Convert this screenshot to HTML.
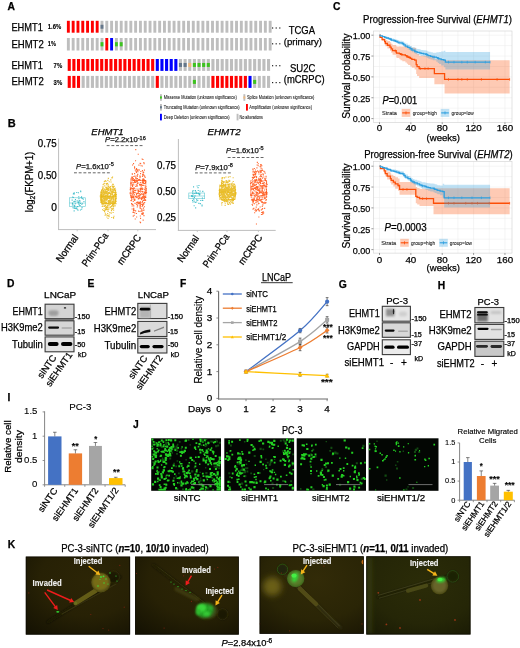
<!DOCTYPE html>
<html><head><meta charset="utf-8"><title>Figure</title>
<style>
html,body{margin:0;padding:0;background:#fff;}
body{width:520px;height:648px;overflow:hidden;}
svg{display:block;font-family:"Liberation Sans", Arial, sans-serif;}
</style></head><body>
<svg width="520" height="648" viewBox="0 0 520 648">
<rect width="520" height="648" fill="#fff"/>
<text x="7.40" y="10.10" font-size="10.3" font-weight="bold" stroke="#000" stroke-width="0.25">A</text>
<text x="11.40" y="30.70" font-size="10.32" textLength="31.40" lengthAdjust="spacingAndGlyphs" stroke="#000" stroke-width="0.25">EHMT1</text>
<text x="11.40" y="47.80" font-size="10.32" textLength="32.30" lengthAdjust="spacingAndGlyphs" stroke="#000" stroke-width="0.25">EHMT2</text>
<text x="11.40" y="69.10" font-size="10.32" textLength="31.40" lengthAdjust="spacingAndGlyphs" stroke="#000" stroke-width="0.25">EHMT1</text>
<text x="11.40" y="85.30" font-size="10.32" textLength="32.30" lengthAdjust="spacingAndGlyphs" stroke="#000" stroke-width="0.25">EHMT2</text>
<text x="47.80" y="29.40" font-size="6.4" textLength="13.40" lengthAdjust="spacingAndGlyphs" font-weight="bold" stroke="#000" stroke-width="0.1">1.6%</text>
<text x="47.80" y="46.40" font-size="6.4" textLength="8.10" lengthAdjust="spacingAndGlyphs" font-weight="bold" stroke="#000" stroke-width="0.1">1%</text>
<text x="53.60" y="68.00" font-size="6.4" textLength="8.60" lengthAdjust="spacingAndGlyphs" font-weight="bold" stroke="#000" stroke-width="0.1">7%</text>
<text x="53.60" y="84.80" font-size="6.4" textLength="8.60" lengthAdjust="spacingAndGlyphs" font-weight="bold" stroke="#000" stroke-width="0.1">3%</text>
<rect x="66.90" y="20.80" width="2.90" height="11.90" fill="#FF0000" />
<rect x="71.71" y="20.80" width="2.90" height="11.90" fill="#FF0000" />
<rect x="76.51" y="20.80" width="2.90" height="11.90" fill="#FF0000" />
<rect x="81.31" y="20.80" width="2.90" height="11.90" fill="#FF0000" />
<rect x="86.12" y="20.80" width="2.90" height="11.90" fill="#FF0000" />
<rect x="90.93" y="20.80" width="2.90" height="11.90" fill="#FF0000" />
<rect x="95.73" y="20.80" width="2.90" height="11.90" fill="#FF0000" />
<rect x="100.53" y="20.80" width="2.90" height="11.90" fill="#BEBEBE" />
<rect x="100.53" y="24.77" width="2.90" height="3.97" fill="#64768A" />
<rect x="105.34" y="20.80" width="2.90" height="11.90" fill="#BEBEBE" />
<rect x="110.15" y="20.80" width="2.90" height="11.90" fill="#BEBEBE" />
<rect x="114.95" y="20.80" width="2.90" height="11.90" fill="#BEBEBE" />
<rect x="119.75" y="20.80" width="2.90" height="11.90" fill="#BEBEBE" />
<rect x="124.56" y="20.80" width="2.90" height="11.90" fill="#BEBEBE" />
<rect x="129.37" y="20.80" width="2.90" height="11.90" fill="#BEBEBE" />
<rect x="134.17" y="20.80" width="2.90" height="11.90" fill="#BEBEBE" />
<rect x="138.97" y="20.80" width="2.90" height="11.90" fill="#BEBEBE" />
<rect x="143.78" y="20.80" width="2.90" height="11.90" fill="#BEBEBE" />
<rect x="148.59" y="20.80" width="2.90" height="11.90" fill="#BEBEBE" />
<rect x="153.39" y="20.80" width="2.90" height="11.90" fill="#BEBEBE" />
<rect x="158.19" y="20.80" width="2.90" height="11.90" fill="#BEBEBE" />
<rect x="163.00" y="20.80" width="2.90" height="11.90" fill="#BEBEBE" />
<rect x="167.81" y="20.80" width="2.90" height="11.90" fill="#BEBEBE" />
<rect x="172.61" y="20.80" width="2.90" height="11.90" fill="#BEBEBE" />
<rect x="177.41" y="20.80" width="2.90" height="11.90" fill="#BEBEBE" />
<rect x="182.22" y="20.80" width="2.90" height="11.90" fill="#BEBEBE" />
<rect x="187.03" y="20.80" width="2.90" height="11.90" fill="#BEBEBE" />
<rect x="191.83" y="20.80" width="2.90" height="11.90" fill="#BEBEBE" />
<rect x="196.63" y="20.80" width="2.90" height="11.90" fill="#BEBEBE" />
<rect x="201.44" y="20.80" width="2.90" height="11.90" fill="#BEBEBE" />
<rect x="206.25" y="20.80" width="2.90" height="11.90" fill="#BEBEBE" />
<rect x="211.05" y="20.80" width="2.90" height="11.90" fill="#BEBEBE" />
<rect x="215.85" y="20.80" width="2.90" height="11.90" fill="#BEBEBE" />
<rect x="220.66" y="20.80" width="2.90" height="11.90" fill="#BEBEBE" />
<rect x="225.47" y="20.80" width="2.90" height="11.90" fill="#BEBEBE" />
<rect x="230.27" y="20.80" width="2.90" height="11.90" fill="#BEBEBE" />
<rect x="235.07" y="20.80" width="2.90" height="11.90" fill="#BEBEBE" />
<rect x="239.88" y="20.80" width="2.90" height="11.90" fill="#BEBEBE" />
<rect x="244.69" y="20.80" width="2.90" height="11.90" fill="#BEBEBE" />
<rect x="249.49" y="20.80" width="2.90" height="11.90" fill="#BEBEBE" />
<rect x="254.29" y="20.80" width="2.90" height="11.90" fill="#BEBEBE" />
<rect x="259.10" y="20.80" width="2.90" height="11.90" fill="#BEBEBE" />
<rect x="263.90" y="20.80" width="2.90" height="11.90" fill="#BEBEBE" />
<rect x="268.71" y="20.80" width="2.90" height="11.90" fill="#BEBEBE" />
<rect x="66.90" y="38.00" width="2.90" height="12.50" fill="#BEBEBE" />
<rect x="71.71" y="38.00" width="2.90" height="12.50" fill="#BEBEBE" />
<rect x="76.51" y="38.00" width="2.90" height="12.50" fill="#BEBEBE" />
<rect x="81.31" y="38.00" width="2.90" height="12.50" fill="#BEBEBE" />
<rect x="86.12" y="38.00" width="2.90" height="12.50" fill="#BEBEBE" />
<rect x="90.93" y="38.00" width="2.90" height="12.50" fill="#BEBEBE" />
<rect x="95.73" y="38.00" width="2.90" height="12.50" fill="#BEBEBE" />
<rect x="100.53" y="38.00" width="2.90" height="12.50" fill="#BEBEBE" />
<rect x="100.53" y="42.17" width="2.90" height="4.17" fill="#3DC21F" />
<rect x="105.34" y="38.00" width="2.90" height="12.50" fill="#FF0000" />
<rect x="110.15" y="38.00" width="2.90" height="12.50" fill="#0000FF" />
<rect x="114.95" y="38.00" width="2.90" height="12.50" fill="#BEBEBE" />
<rect x="114.95" y="42.17" width="2.90" height="4.17" fill="#3DC21F" />
<rect x="119.75" y="38.00" width="2.90" height="12.50" fill="#BEBEBE" />
<rect x="119.75" y="42.17" width="2.90" height="4.17" fill="#3DC21F" />
<rect x="124.56" y="38.00" width="2.90" height="12.50" fill="#BEBEBE" />
<rect x="129.37" y="38.00" width="2.90" height="12.50" fill="#BEBEBE" />
<rect x="134.17" y="38.00" width="2.90" height="12.50" fill="#BEBEBE" />
<rect x="138.97" y="38.00" width="2.90" height="12.50" fill="#BEBEBE" />
<rect x="143.78" y="38.00" width="2.90" height="12.50" fill="#BEBEBE" />
<rect x="148.59" y="38.00" width="2.90" height="12.50" fill="#BEBEBE" />
<rect x="153.39" y="38.00" width="2.90" height="12.50" fill="#BEBEBE" />
<rect x="158.19" y="38.00" width="2.90" height="12.50" fill="#BEBEBE" />
<rect x="163.00" y="38.00" width="2.90" height="12.50" fill="#BEBEBE" />
<rect x="167.81" y="38.00" width="2.90" height="12.50" fill="#BEBEBE" />
<rect x="172.61" y="38.00" width="2.90" height="12.50" fill="#BEBEBE" />
<rect x="177.41" y="38.00" width="2.90" height="12.50" fill="#BEBEBE" />
<rect x="182.22" y="38.00" width="2.90" height="12.50" fill="#BEBEBE" />
<rect x="187.03" y="38.00" width="2.90" height="12.50" fill="#BEBEBE" />
<rect x="191.83" y="38.00" width="2.90" height="12.50" fill="#BEBEBE" />
<rect x="196.63" y="38.00" width="2.90" height="12.50" fill="#BEBEBE" />
<rect x="201.44" y="38.00" width="2.90" height="12.50" fill="#BEBEBE" />
<rect x="206.25" y="38.00" width="2.90" height="12.50" fill="#BEBEBE" />
<rect x="211.05" y="38.00" width="2.90" height="12.50" fill="#BEBEBE" />
<rect x="215.85" y="38.00" width="2.90" height="12.50" fill="#BEBEBE" />
<rect x="220.66" y="38.00" width="2.90" height="12.50" fill="#BEBEBE" />
<rect x="225.47" y="38.00" width="2.90" height="12.50" fill="#BEBEBE" />
<rect x="230.27" y="38.00" width="2.90" height="12.50" fill="#BEBEBE" />
<rect x="235.07" y="38.00" width="2.90" height="12.50" fill="#BEBEBE" />
<rect x="239.88" y="38.00" width="2.90" height="12.50" fill="#BEBEBE" />
<rect x="244.69" y="38.00" width="2.90" height="12.50" fill="#BEBEBE" />
<rect x="249.49" y="38.00" width="2.90" height="12.50" fill="#BEBEBE" />
<rect x="254.29" y="38.00" width="2.90" height="12.50" fill="#BEBEBE" />
<rect x="259.10" y="38.00" width="2.90" height="12.50" fill="#BEBEBE" />
<rect x="263.90" y="38.00" width="2.90" height="12.50" fill="#BEBEBE" />
<rect x="268.71" y="38.00" width="2.90" height="12.50" fill="#BEBEBE" />
<rect x="67.70" y="59.00" width="3.10" height="11.90" fill="#FF0000" />
<rect x="72.34" y="59.00" width="3.10" height="11.90" fill="#FF0000" />
<rect x="76.97" y="59.00" width="3.10" height="11.90" fill="#FF0000" />
<rect x="81.61" y="59.00" width="3.10" height="11.90" fill="#FF0000" />
<rect x="86.24" y="59.00" width="3.10" height="11.90" fill="#FF0000" />
<rect x="90.88" y="59.00" width="3.10" height="11.90" fill="#FF0000" />
<rect x="95.51" y="59.00" width="3.10" height="11.90" fill="#FF0000" />
<rect x="100.15" y="59.00" width="3.10" height="11.90" fill="#FF0000" />
<rect x="104.78" y="59.00" width="3.10" height="11.90" fill="#FF0000" />
<rect x="109.41" y="59.00" width="3.10" height="11.90" fill="#FF0000" />
<rect x="114.05" y="59.00" width="3.10" height="11.90" fill="#FF0000" />
<rect x="118.69" y="59.00" width="3.10" height="11.90" fill="#FF0000" />
<rect x="123.32" y="59.00" width="3.10" height="11.90" fill="#FF0000" />
<rect x="127.95" y="59.00" width="3.10" height="11.90" fill="#FF0000" />
<rect x="132.59" y="59.00" width="3.10" height="11.90" fill="#FF0000" />
<rect x="137.22" y="59.00" width="3.10" height="11.90" fill="#FF0000" />
<rect x="141.86" y="59.00" width="3.10" height="11.90" fill="#FF0000" />
<rect x="146.50" y="59.00" width="3.10" height="11.90" fill="#FF0000" />
<rect x="151.13" y="59.00" width="3.10" height="11.90" fill="#FF0000" />
<rect x="155.76" y="59.00" width="3.10" height="11.90" fill="#0000FF" />
<rect x="160.40" y="59.00" width="3.10" height="11.90" fill="#0000FF" />
<rect x="165.03" y="59.00" width="3.10" height="11.90" fill="#0000FF" />
<rect x="169.67" y="59.00" width="3.10" height="11.90" fill="#0000FF" />
<rect x="174.31" y="59.00" width="3.10" height="11.90" fill="#0000FF" />
<rect x="178.94" y="59.00" width="3.10" height="11.90" fill="#BEBEBE" />
<rect x="178.94" y="62.97" width="3.10" height="3.97" fill="#64768A" />
<rect x="183.57" y="59.00" width="3.10" height="11.90" fill="#BEBEBE" />
<rect x="183.57" y="62.97" width="3.10" height="3.97" fill="#64768A" />
<rect x="188.21" y="59.00" width="3.10" height="11.90" fill="#BEBEBE" />
<rect x="188.21" y="62.97" width="3.10" height="3.97" fill="#F0B87B" />
<rect x="192.84" y="59.00" width="3.10" height="11.90" fill="#BEBEBE" />
<rect x="192.84" y="62.97" width="3.10" height="3.97" fill="#3DC21F" />
<rect x="197.48" y="59.00" width="3.10" height="11.90" fill="#BEBEBE" />
<rect x="197.48" y="62.97" width="3.10" height="3.97" fill="#3DC21F" />
<rect x="202.12" y="59.00" width="3.10" height="11.90" fill="#BEBEBE" />
<rect x="202.12" y="62.97" width="3.10" height="3.97" fill="#3DC21F" />
<rect x="206.75" y="59.00" width="3.10" height="11.90" fill="#BEBEBE" />
<rect x="206.75" y="62.97" width="3.10" height="3.97" fill="#3DC21F" />
<rect x="211.38" y="59.00" width="3.10" height="11.90" fill="#BEBEBE" />
<rect x="216.02" y="59.00" width="3.10" height="11.90" fill="#BEBEBE" />
<rect x="220.65" y="59.00" width="3.10" height="11.90" fill="#BEBEBE" />
<rect x="225.29" y="59.00" width="3.10" height="11.90" fill="#BEBEBE" />
<rect x="229.93" y="59.00" width="3.10" height="11.90" fill="#BEBEBE" />
<rect x="234.56" y="59.00" width="3.10" height="11.90" fill="#BEBEBE" />
<rect x="239.19" y="59.00" width="3.10" height="11.90" fill="#BEBEBE" />
<rect x="243.83" y="59.00" width="3.10" height="11.90" fill="#BEBEBE" />
<rect x="248.46" y="59.00" width="3.10" height="11.90" fill="#BEBEBE" />
<rect x="253.10" y="59.00" width="3.10" height="11.90" fill="#BEBEBE" />
<rect x="257.74" y="59.00" width="3.10" height="11.90" fill="#BEBEBE" />
<rect x="262.37" y="59.00" width="3.10" height="11.90" fill="#BEBEBE" />
<rect x="267.00" y="59.00" width="3.10" height="11.90" fill="#BEBEBE" />
<rect x="67.70" y="75.90" width="3.10" height="12.00" fill="#FF0000" />
<rect x="72.34" y="75.90" width="3.10" height="12.00" fill="#FF0000" />
<rect x="76.97" y="75.90" width="3.10" height="12.00" fill="#FF0000" />
<rect x="81.61" y="75.90" width="3.10" height="12.00" fill="#BEBEBE" />
<rect x="86.24" y="75.90" width="3.10" height="12.00" fill="#BEBEBE" />
<rect x="90.88" y="75.90" width="3.10" height="12.00" fill="#BEBEBE" />
<rect x="95.51" y="75.90" width="3.10" height="12.00" fill="#BEBEBE" />
<rect x="100.15" y="75.90" width="3.10" height="12.00" fill="#BEBEBE" />
<rect x="104.78" y="75.90" width="3.10" height="12.00" fill="#BEBEBE" />
<rect x="109.41" y="75.90" width="3.10" height="12.00" fill="#BEBEBE" />
<rect x="114.05" y="75.90" width="3.10" height="12.00" fill="#BEBEBE" />
<rect x="118.69" y="75.90" width="3.10" height="12.00" fill="#BEBEBE" />
<rect x="123.32" y="75.90" width="3.10" height="12.00" fill="#BEBEBE" />
<rect x="127.95" y="75.90" width="3.10" height="12.00" fill="#BEBEBE" />
<rect x="132.59" y="75.90" width="3.10" height="12.00" fill="#BEBEBE" />
<rect x="137.22" y="75.90" width="3.10" height="12.00" fill="#BEBEBE" />
<rect x="141.86" y="75.90" width="3.10" height="12.00" fill="#BEBEBE" />
<rect x="146.50" y="75.90" width="3.10" height="12.00" fill="#BEBEBE" />
<rect x="151.13" y="75.90" width="3.10" height="12.00" fill="#BEBEBE" />
<rect x="155.76" y="75.90" width="3.10" height="12.00" fill="#FF0000" />
<rect x="160.40" y="75.90" width="3.10" height="12.00" fill="#BEBEBE" />
<rect x="165.03" y="75.90" width="3.10" height="12.00" fill="#BEBEBE" />
<rect x="169.67" y="75.90" width="3.10" height="12.00" fill="#BEBEBE" />
<rect x="174.31" y="75.90" width="3.10" height="12.00" fill="#BEBEBE" />
<rect x="178.94" y="75.90" width="3.10" height="12.00" fill="#BEBEBE" />
<rect x="183.57" y="75.90" width="3.10" height="12.00" fill="#BEBEBE" />
<rect x="188.21" y="75.90" width="3.10" height="12.00" fill="#BEBEBE" />
<rect x="192.84" y="75.90" width="3.10" height="12.00" fill="#BEBEBE" />
<rect x="192.84" y="79.90" width="3.10" height="4.00" fill="#3DC21F" />
<rect x="197.48" y="75.90" width="3.10" height="12.00" fill="#BEBEBE" />
<rect x="202.12" y="75.90" width="3.10" height="12.00" fill="#BEBEBE" />
<rect x="206.75" y="75.90" width="3.10" height="12.00" fill="#BEBEBE" />
<rect x="211.38" y="75.90" width="3.10" height="12.00" fill="#FF0000" />
<rect x="216.02" y="75.90" width="3.10" height="12.00" fill="#FF0000" />
<rect x="220.65" y="75.90" width="3.10" height="12.00" fill="#FF0000" />
<rect x="225.29" y="75.90" width="3.10" height="12.00" fill="#FF0000" />
<rect x="229.93" y="75.90" width="3.10" height="12.00" fill="#FF0000" />
<rect x="234.56" y="75.90" width="3.10" height="12.00" fill="#FF0000" />
<rect x="239.19" y="75.90" width="3.10" height="12.00" fill="#FF0000" />
<rect x="243.83" y="75.90" width="3.10" height="12.00" fill="#FF0000" />
<rect x="248.46" y="75.90" width="3.10" height="12.00" fill="#0000FF" />
<rect x="253.10" y="75.90" width="3.10" height="12.00" fill="#BEBEBE" />
<rect x="253.10" y="79.90" width="3.10" height="4.00" fill="#3DC21F" />
<rect x="257.74" y="75.90" width="3.10" height="12.00" fill="#BEBEBE" />
<rect x="262.37" y="75.90" width="3.10" height="12.00" fill="#BEBEBE" />
<rect x="267.00" y="75.90" width="3.10" height="12.00" fill="#BEBEBE" />
<rect x="272.00" y="27.40" width="1.20" height="1.20" fill="#222" />
<rect x="275.60" y="27.40" width="1.20" height="1.20" fill="#222" />
<rect x="279.20" y="27.40" width="1.20" height="1.20" fill="#222" />
<rect x="272.00" y="43.20" width="1.20" height="1.20" fill="#222" />
<rect x="275.60" y="43.20" width="1.20" height="1.20" fill="#222" />
<rect x="279.20" y="43.20" width="1.20" height="1.20" fill="#222" />
<rect x="272.00" y="65.10" width="1.20" height="1.20" fill="#222" />
<rect x="275.60" y="65.10" width="1.20" height="1.20" fill="#222" />
<rect x="279.20" y="65.10" width="1.20" height="1.20" fill="#222" />
<rect x="272.00" y="82.00" width="1.20" height="1.20" fill="#222" />
<rect x="275.60" y="82.00" width="1.20" height="1.20" fill="#222" />
<rect x="279.20" y="82.00" width="1.20" height="1.20" fill="#222" />
<text x="288.70" y="33.50" font-size="10.61" textLength="26.30" lengthAdjust="spacingAndGlyphs" stroke="#000" stroke-width="0.25">TCGA</text>
<text x="283.80" y="45.00" font-size="9.88" textLength="38.20" lengthAdjust="spacingAndGlyphs" stroke="#000" stroke-width="0.25">(primary)</text>
<text x="290.00" y="71.80" font-size="10.61" textLength="25.40" lengthAdjust="spacingAndGlyphs" stroke="#000" stroke-width="0.25">SU2C</text>
<text x="283.80" y="82.70" font-size="10.03" textLength="40.80" lengthAdjust="spacingAndGlyphs" stroke="#000" stroke-width="0.25">(mCRPC)</text>
<rect x="160.00" y="94.20" width="1.90" height="6.60" fill="#BEBEBE" />
<rect x="160.00" y="96.40" width="1.90" height="2.20" fill="#3DC21F" />
<text x="163.70" y="99.40" font-size="4.6" textLength="73.00" lengthAdjust="spacingAndGlyphs" fill="#222" stroke="#222" stroke-width="0.08">Missense Mutation (unknown significance)</text>
<rect x="160.00" y="104.00" width="1.90" height="6.60" fill="#BEBEBE" />
<rect x="160.00" y="106.20" width="1.90" height="2.20" fill="#64768A" />
<text x="163.70" y="109.20" font-size="4.6" textLength="76.00" lengthAdjust="spacingAndGlyphs" fill="#222" stroke="#222" stroke-width="0.08">Truncating Mutation (unknown significance)</text>
<rect x="160.00" y="113.80" width="1.90" height="6.60" fill="#0000FF" />
<text x="163.70" y="119.10" font-size="4.6" textLength="66.00" lengthAdjust="spacingAndGlyphs" fill="#222" stroke="#222" stroke-width="0.08">Deep Deletion (unknown significance)</text>
<rect x="243.40" y="94.20" width="1.90" height="6.60" fill="#BEBEBE" />
<rect x="243.40" y="96.40" width="1.90" height="2.20" fill="#F0B87B" />
<text x="247.00" y="99.40" font-size="4.6" textLength="67.40" lengthAdjust="spacingAndGlyphs" fill="#222" stroke="#222" stroke-width="0.08">Splice Mutation (unknown significance)</text>
<rect x="246.00" y="104.00" width="1.90" height="6.60" fill="#FF0000" />
<text x="249.20" y="109.20" font-size="4.6" textLength="62.80" lengthAdjust="spacingAndGlyphs" fill="#222" stroke="#222" stroke-width="0.08">Amplification (unknown significance)</text>
<rect x="236.60" y="113.80" width="1.90" height="6.60" fill="#BEBEBE" />
<text x="239.40" y="119.10" font-size="4.6" textLength="23.60" lengthAdjust="spacingAndGlyphs" fill="#222" stroke="#222" stroke-width="0.08">No alterations</text>
<text x="7.80" y="127.30" font-size="11.0" font-weight="bold" stroke="#000" stroke-width="0.25">B</text>
<line x1="58.60" y1="138.50" x2="58.60" y2="230.00" stroke="#BDBDBD" stroke-width="1" />
<line x1="58.10" y1="229.60" x2="156.00" y2="229.60" stroke="#BDBDBD" stroke-width="1" />
<text x="56.80" y="147.20" font-size="10.17" textLength="19.00" lengthAdjust="spacingAndGlyphs" text-anchor="end" stroke="#000" stroke-width="0.25">0.75</text>
<text x="56.80" y="179.00" font-size="10.17" textLength="19.00" lengthAdjust="spacingAndGlyphs" text-anchor="end" stroke="#000" stroke-width="0.25">0.50</text>
<text x="56.80" y="210.80" font-size="10.17" text-anchor="end" stroke="#000" stroke-width="0.25">0</text>
<line x1="77.20" y1="229.60" x2="77.20" y2="231.30" stroke="#BDBDBD" stroke-width="0.8" />
<line x1="108.00" y1="229.60" x2="108.00" y2="231.30" stroke="#BDBDBD" stroke-width="0.8" />
<line x1="137.80" y1="229.60" x2="137.80" y2="231.30" stroke="#BDBDBD" stroke-width="0.8" />
<text x="107.50" y="134.60" font-size="9.16" textLength="32.30" lengthAdjust="spacingAndGlyphs" text-anchor="middle" font-style="italic" stroke="#000" stroke-width="0.25">EHMT1</text>
<text transform="translate(33.00,182.00) rotate(-90)" font-size="10.0" textLength="60.40" lengthAdjust="spacingAndGlyphs" text-anchor="middle" stroke="#000" stroke-width="0.25">log<tspan font-size="7" dy="2">2</tspan><tspan dy="-2">(FKPM+1)</tspan></text>
<rect x="69.50" y="197.80" width="15.80" height="8.70" fill="none" stroke="#1BB0BF" stroke-width="0.6" stroke-opacity="0.7"/>
<line x1="69.50" y1="203.00" x2="85.30" y2="203.00" stroke="#1BB0BF" stroke-width="0.6" stroke-opacity="0.7"/>
<path d="M79.1 200.1h1.1v1.1h-1.1zM71.9 204.3h1.1v1.1h-1.1zM72.2 196.4h1.1v1.1h-1.1zM77.3 200.3h1.1v1.1h-1.1zM72.4 207.2h1.1v1.1h-1.1zM71.9 202.9h1.1v1.1h-1.1zM73.6 192.3h1.1v1.1h-1.1zM74.0 206.2h1.1v1.1h-1.1zM77.9 192.2h1.1v1.1h-1.1zM76.2 191.9h1.1v1.1h-1.1zM81.8 203.2h1.1v1.1h-1.1zM74.5 201.2h1.1v1.1h-1.1zM74.8 203.2h1.1v1.1h-1.1zM81.2 203.7h1.1v1.1h-1.1zM78.9 204.6h1.1v1.1h-1.1zM75.8 208.1h1.1v1.1h-1.1zM71.6 199.6h1.1v1.1h-1.1zM73.4 200.9h1.1v1.1h-1.1zM74.9 199.0h1.1v1.1h-1.1zM78.2 196.2h1.1v1.1h-1.1zM80.7 197.1h1.1v1.1h-1.1zM79.8 202.8h1.1v1.1h-1.1zM77.5 201.8h1.1v1.1h-1.1zM81.1 208.7h1.1v1.1h-1.1zM83.4 200.9h1.1v1.1h-1.1zM72.7 197.0h1.1v1.1h-1.1zM73.7 193.4h1.1v1.1h-1.1zM77.1 206.1h1.1v1.1h-1.1zM79.9 209.4h1.1v1.1h-1.1zM78.1 203.5h1.1v1.1h-1.1zM79.6 204.9h1.1v1.1h-1.1zM78.4 198.1h1.1v1.1h-1.1zM81.0 196.2h1.1v1.1h-1.1zM82.7 198.6h1.1v1.1h-1.1zM72.8 193.5h1.1v1.1h-1.1zM79.8 202.8h1.1v1.1h-1.1zM80.2 191.1h1.1v1.1h-1.1zM79.4 200.6h1.1v1.1h-1.1zM73.6 207.6h1.1v1.1h-1.1zM72.2 202.4h1.1v1.1h-1.1zM73.6 210.3h1.1v1.1h-1.1zM74.1 204.9h1.1v1.1h-1.1zM73.1 192.9h1.1v1.1h-1.1zM76.7 208.5h1.1v1.1h-1.1zM80.1 190.6h1.1v1.1h-1.1zM81.6 198.0h1.1v1.1h-1.1zM75.4 200.5h1.1v1.1h-1.1zM81.5 207.1h1.1v1.1h-1.1zM73.2 204.5h1.1v1.1h-1.1zM73.7 200.7h1.1v1.1h-1.1zM78.4 202.2h1.1v1.1h-1.1zM74.6 207.8h1.1v1.1h-1.1zM75.7 207.2h1.1v1.1h-1.1zM78.1 201.6h1.1v1.1h-1.1zM77.4 209.6h1.1v1.1h-1.1z" fill="#1BB0BF" fill-opacity="0.8"/>
<rect x="101.30" y="190.00" width="14.30" height="13.50" fill="none" stroke="#E5B000" stroke-width="0.6" stroke-opacity="0.7"/>
<line x1="101.30" y1="196.50" x2="115.60" y2="196.50" stroke="#E5B000" stroke-width="0.6" stroke-opacity="0.7"/>
<path d="M109.9 193.7h1.1v1.1h-1.1zM114.6 195.9h1.1v1.1h-1.1zM112.6 194.8h1.1v1.1h-1.1zM106.6 206.5h1.1v1.1h-1.1zM106.6 187.5h1.1v1.1h-1.1zM101.9 205.5h1.1v1.1h-1.1zM101.6 203.4h1.1v1.1h-1.1zM105.4 198.1h1.1v1.1h-1.1zM101.0 201.3h1.1v1.1h-1.1zM101.7 201.3h1.1v1.1h-1.1zM105.7 197.0h1.1v1.1h-1.1zM109.3 212.1h1.1v1.1h-1.1zM102.3 199.4h1.1v1.1h-1.1zM105.7 196.9h1.1v1.1h-1.1zM102.5 203.9h1.1v1.1h-1.1zM107.6 210.8h1.1v1.1h-1.1zM107.8 177.8h1.1v1.1h-1.1zM105.5 200.0h1.1v1.1h-1.1zM104.1 198.8h1.1v1.1h-1.1zM100.2 199.1h1.1v1.1h-1.1zM115.2 193.1h1.1v1.1h-1.1zM108.7 192.8h1.1v1.1h-1.1zM100.2 196.3h1.1v1.1h-1.1zM112.0 176.5h1.1v1.1h-1.1zM111.1 193.3h1.1v1.1h-1.1zM102.5 196.5h1.1v1.1h-1.1zM111.9 204.2h1.1v1.1h-1.1zM105.9 184.2h1.1v1.1h-1.1zM103.5 194.3h1.1v1.1h-1.1zM112.9 205.2h1.1v1.1h-1.1zM111.4 176.9h1.1v1.1h-1.1zM103.8 202.1h1.1v1.1h-1.1zM108.2 185.8h1.1v1.1h-1.1zM100.2 195.9h1.1v1.1h-1.1zM104.4 198.4h1.1v1.1h-1.1zM115.6 196.3h1.1v1.1h-1.1zM107.3 208.5h1.1v1.1h-1.1zM113.0 217.6h1.1v1.1h-1.1zM106.1 188.4h1.1v1.1h-1.1zM103.0 198.0h1.1v1.1h-1.1zM103.5 202.3h1.1v1.1h-1.1zM112.3 185.5h1.1v1.1h-1.1zM107.7 185.7h1.1v1.1h-1.1zM102.1 189.3h1.1v1.1h-1.1zM110.0 186.0h1.1v1.1h-1.1zM111.2 208.0h1.1v1.1h-1.1zM107.7 190.0h1.1v1.1h-1.1zM105.5 202.7h1.1v1.1h-1.1zM111.7 208.9h1.1v1.1h-1.1zM106.6 204.4h1.1v1.1h-1.1zM115.4 195.7h1.1v1.1h-1.1zM101.8 196.3h1.1v1.1h-1.1zM102.5 192.5h1.1v1.1h-1.1zM103.5 208.2h1.1v1.1h-1.1zM112.7 189.3h1.1v1.1h-1.1zM106.1 207.9h1.1v1.1h-1.1zM108.8 195.6h1.1v1.1h-1.1zM115.8 197.9h1.1v1.1h-1.1zM110.5 197.9h1.1v1.1h-1.1zM107.3 179.8h1.1v1.1h-1.1zM114.0 194.1h1.1v1.1h-1.1zM104.0 199.4h1.1v1.1h-1.1zM104.8 192.4h1.1v1.1h-1.1zM104.0 197.6h1.1v1.1h-1.1zM106.9 206.9h1.1v1.1h-1.1zM106.1 208.2h1.1v1.1h-1.1zM107.5 209.1h1.1v1.1h-1.1zM107.1 182.9h1.1v1.1h-1.1zM113.9 188.9h1.1v1.1h-1.1zM108.3 187.8h1.1v1.1h-1.1zM100.0 196.9h1.1v1.1h-1.1zM100.2 192.6h1.1v1.1h-1.1zM112.9 198.8h1.1v1.1h-1.1zM111.6 201.0h1.1v1.1h-1.1zM108.8 204.5h1.1v1.1h-1.1zM108.9 192.8h1.1v1.1h-1.1zM112.0 205.1h1.1v1.1h-1.1zM104.4 204.6h1.1v1.1h-1.1zM104.6 202.9h1.1v1.1h-1.1zM109.0 198.2h1.1v1.1h-1.1zM111.6 188.2h1.1v1.1h-1.1zM109.6 203.9h1.1v1.1h-1.1zM108.1 192.8h1.1v1.1h-1.1zM107.4 185.5h1.1v1.1h-1.1zM108.6 196.1h1.1v1.1h-1.1zM110.2 179.3h1.1v1.1h-1.1zM114.1 199.5h1.1v1.1h-1.1zM108.9 202.4h1.1v1.1h-1.1zM115.3 194.9h1.1v1.1h-1.1zM101.8 199.2h1.1v1.1h-1.1zM107.1 193.6h1.1v1.1h-1.1zM101.4 202.0h1.1v1.1h-1.1zM110.8 199.4h1.1v1.1h-1.1zM102.5 200.4h1.1v1.1h-1.1zM110.5 181.4h1.1v1.1h-1.1zM114.3 194.8h1.1v1.1h-1.1zM115.5 193.5h1.1v1.1h-1.1zM106.4 200.5h1.1v1.1h-1.1zM107.9 215.2h1.1v1.1h-1.1zM104.0 211.1h1.1v1.1h-1.1zM106.9 196.1h1.1v1.1h-1.1zM103.5 190.2h1.1v1.1h-1.1zM105.0 196.3h1.1v1.1h-1.1zM108.9 196.7h1.1v1.1h-1.1zM107.0 195.5h1.1v1.1h-1.1zM109.8 203.7h1.1v1.1h-1.1zM108.2 197.8h1.1v1.1h-1.1zM111.2 217.0h1.1v1.1h-1.1zM114.5 205.5h1.1v1.1h-1.1zM100.8 201.7h1.1v1.1h-1.1zM112.5 200.6h1.1v1.1h-1.1zM106.7 196.5h1.1v1.1h-1.1zM114.5 200.9h1.1v1.1h-1.1zM102.3 199.4h1.1v1.1h-1.1zM114.4 191.7h1.1v1.1h-1.1zM102.7 186.5h1.1v1.1h-1.1zM101.2 192.0h1.1v1.1h-1.1zM101.1 194.0h1.1v1.1h-1.1zM114.3 189.7h1.1v1.1h-1.1zM102.3 188.0h1.1v1.1h-1.1zM112.7 186.9h1.1v1.1h-1.1zM107.5 210.7h1.1v1.1h-1.1zM105.6 203.1h1.1v1.1h-1.1zM105.4 180.8h1.1v1.1h-1.1zM102.4 191.4h1.1v1.1h-1.1zM102.0 191.5h1.1v1.1h-1.1zM102.4 196.1h1.1v1.1h-1.1zM105.1 201.8h1.1v1.1h-1.1zM104.8 198.6h1.1v1.1h-1.1zM108.0 197.4h1.1v1.1h-1.1zM103.2 190.8h1.1v1.1h-1.1zM103.9 196.2h1.1v1.1h-1.1zM100.0 198.2h1.1v1.1h-1.1zM102.9 196.0h1.1v1.1h-1.1zM107.7 187.6h1.1v1.1h-1.1zM113.1 200.3h1.1v1.1h-1.1zM106.9 195.6h1.1v1.1h-1.1zM106.7 182.8h1.1v1.1h-1.1zM108.1 197.4h1.1v1.1h-1.1zM105.8 188.9h1.1v1.1h-1.1zM111.6 177.3h1.1v1.1h-1.1zM106.5 194.1h1.1v1.1h-1.1zM106.0 186.7h1.1v1.1h-1.1zM101.2 200.7h1.1v1.1h-1.1zM112.0 198.3h1.1v1.1h-1.1zM101.1 196.8h1.1v1.1h-1.1zM113.3 201.5h1.1v1.1h-1.1zM104.9 204.7h1.1v1.1h-1.1zM104.4 188.9h1.1v1.1h-1.1zM102.4 194.8h1.1v1.1h-1.1zM107.2 205.0h1.1v1.1h-1.1zM115.8 195.4h1.1v1.1h-1.1zM108.5 216.1h1.1v1.1h-1.1zM104.8 197.7h1.1v1.1h-1.1zM106.4 216.5h1.1v1.1h-1.1zM107.6 204.4h1.1v1.1h-1.1zM108.0 197.0h1.1v1.1h-1.1zM100.0 199.7h1.1v1.1h-1.1zM104.7 205.5h1.1v1.1h-1.1zM101.2 203.4h1.1v1.1h-1.1zM100.4 201.0h1.1v1.1h-1.1zM109.4 195.2h1.1v1.1h-1.1zM108.4 202.1h1.1v1.1h-1.1zM111.6 197.0h1.1v1.1h-1.1zM112.8 186.0h1.1v1.1h-1.1zM115.5 191.9h1.1v1.1h-1.1zM102.5 201.3h1.1v1.1h-1.1zM100.5 195.3h1.1v1.1h-1.1zM112.3 186.4h1.1v1.1h-1.1zM111.3 205.2h1.1v1.1h-1.1zM112.6 190.4h1.1v1.1h-1.1zM108.1 202.9h1.1v1.1h-1.1zM112.9 204.0h1.1v1.1h-1.1zM109.3 201.7h1.1v1.1h-1.1zM112.7 183.8h1.1v1.1h-1.1zM103.8 192.3h1.1v1.1h-1.1zM101.9 186.5h1.1v1.1h-1.1zM101.9 201.8h1.1v1.1h-1.1zM113.1 202.3h1.1v1.1h-1.1zM109.7 187.2h1.1v1.1h-1.1zM110.9 193.2h1.1v1.1h-1.1zM112.9 196.4h1.1v1.1h-1.1zM112.1 197.0h1.1v1.1h-1.1zM110.1 187.7h1.1v1.1h-1.1zM100.8 196.8h1.1v1.1h-1.1zM100.9 196.5h1.1v1.1h-1.1zM104.4 191.3h1.1v1.1h-1.1zM112.0 196.3h1.1v1.1h-1.1zM115.3 192.0h1.1v1.1h-1.1zM107.7 189.6h1.1v1.1h-1.1zM111.0 197.3h1.1v1.1h-1.1zM110.4 198.1h1.1v1.1h-1.1zM102.5 186.7h1.1v1.1h-1.1zM111.9 200.4h1.1v1.1h-1.1zM104.9 201.6h1.1v1.1h-1.1zM100.7 195.9h1.1v1.1h-1.1zM104.2 196.5h1.1v1.1h-1.1zM110.7 191.6h1.1v1.1h-1.1zM105.3 186.8h1.1v1.1h-1.1zM107.5 188.7h1.1v1.1h-1.1zM101.7 196.1h1.1v1.1h-1.1zM115.6 200.9h1.1v1.1h-1.1zM115.0 193.9h1.1v1.1h-1.1zM112.5 205.3h1.1v1.1h-1.1zM115.8 197.9h1.1v1.1h-1.1zM103.6 191.4h1.1v1.1h-1.1zM115.3 198.9h1.1v1.1h-1.1zM102.2 199.4h1.1v1.1h-1.1zM108.3 206.6h1.1v1.1h-1.1zM113.1 200.8h1.1v1.1h-1.1zM108.1 195.8h1.1v1.1h-1.1zM104.3 205.9h1.1v1.1h-1.1zM113.7 189.4h1.1v1.1h-1.1zM99.8 195.3h1.1v1.1h-1.1zM107.9 197.1h1.1v1.1h-1.1zM102.6 190.9h1.1v1.1h-1.1zM105.4 198.9h1.1v1.1h-1.1zM100.5 191.2h1.1v1.1h-1.1zM111.0 210.1h1.1v1.1h-1.1zM115.0 199.0h1.1v1.1h-1.1zM111.4 193.8h1.1v1.1h-1.1zM106.0 202.1h1.1v1.1h-1.1zM106.3 193.4h1.1v1.1h-1.1zM106.2 207.0h1.1v1.1h-1.1zM106.8 196.9h1.1v1.1h-1.1zM101.4 196.6h1.1v1.1h-1.1zM113.5 199.3h1.1v1.1h-1.1zM104.0 193.1h1.1v1.1h-1.1zM105.4 214.1h1.1v1.1h-1.1zM106.0 192.1h1.1v1.1h-1.1zM115.6 196.7h1.1v1.1h-1.1zM109.7 207.2h1.1v1.1h-1.1zM113.6 187.9h1.1v1.1h-1.1zM111.0 205.8h1.1v1.1h-1.1zM100.8 193.6h1.1v1.1h-1.1zM112.2 196.1h1.1v1.1h-1.1zM110.0 188.8h1.1v1.1h-1.1zM115.1 196.5h1.1v1.1h-1.1zM101.9 199.3h1.1v1.1h-1.1zM105.0 190.2h1.1v1.1h-1.1zM112.0 198.2h1.1v1.1h-1.1zM110.4 202.8h1.1v1.1h-1.1zM104.7 196.1h1.1v1.1h-1.1zM103.2 190.0h1.1v1.1h-1.1zM102.5 194.4h1.1v1.1h-1.1zM108.0 201.3h1.1v1.1h-1.1zM104.8 212.7h1.1v1.1h-1.1zM107.5 218.0h1.1v1.1h-1.1zM103.7 183.0h1.1v1.1h-1.1zM105.4 198.2h1.1v1.1h-1.1zM101.4 200.1h1.1v1.1h-1.1zM109.2 197.4h1.1v1.1h-1.1zM113.8 202.8h1.1v1.1h-1.1zM106.6 197.0h1.1v1.1h-1.1zM108.3 189.3h1.1v1.1h-1.1zM101.2 192.1h1.1v1.1h-1.1zM104.5 201.8h1.1v1.1h-1.1zM108.1 200.8h1.1v1.1h-1.1zM110.1 196.2h1.1v1.1h-1.1zM104.3 200.4h1.1v1.1h-1.1zM104.0 193.0h1.1v1.1h-1.1zM114.7 190.4h1.1v1.1h-1.1zM113.4 201.8h1.1v1.1h-1.1zM100.3 198.1h1.1v1.1h-1.1zM111.5 195.9h1.1v1.1h-1.1zM109.3 203.7h1.1v1.1h-1.1zM100.3 191.8h1.1v1.1h-1.1zM111.9 183.7h1.1v1.1h-1.1zM112.6 207.8h1.1v1.1h-1.1zM102.1 202.6h1.1v1.1h-1.1zM102.3 196.0h1.1v1.1h-1.1zM113.6 185.8h1.1v1.1h-1.1zM111.7 195.4h1.1v1.1h-1.1zM107.4 189.3h1.1v1.1h-1.1zM108.7 186.8h1.1v1.1h-1.1zM104.7 209.7h1.1v1.1h-1.1zM114.8 200.2h1.1v1.1h-1.1zM102.1 193.1h1.1v1.1h-1.1zM104.2 191.9h1.1v1.1h-1.1zM102.5 189.4h1.1v1.1h-1.1zM102.1 188.2h1.1v1.1h-1.1zM106.5 187.2h1.1v1.1h-1.1zM103.4 195.5h1.1v1.1h-1.1zM104.7 196.1h1.1v1.1h-1.1zM107.3 196.4h1.1v1.1h-1.1zM113.0 207.4h1.1v1.1h-1.1zM107.6 194.2h1.1v1.1h-1.1zM115.6 197.5h1.1v1.1h-1.1zM111.1 202.6h1.1v1.1h-1.1zM108.0 196.4h1.1v1.1h-1.1zM110.9 198.5h1.1v1.1h-1.1zM110.6 191.9h1.1v1.1h-1.1zM114.9 199.8h1.1v1.1h-1.1zM105.3 197.3h1.1v1.1h-1.1zM106.7 199.0h1.1v1.1h-1.1zM112.9 195.0h1.1v1.1h-1.1zM111.7 192.5h1.1v1.1h-1.1zM115.2 191.9h1.1v1.1h-1.1zM104.9 196.8h1.1v1.1h-1.1zM103.5 199.3h1.1v1.1h-1.1zM112.0 192.1h1.1v1.1h-1.1zM107.9 191.9h1.1v1.1h-1.1zM104.5 214.7h1.1v1.1h-1.1zM110.7 198.3h1.1v1.1h-1.1zM114.4 204.7h1.1v1.1h-1.1zM103.5 201.5h1.1v1.1h-1.1zM115.1 203.0h1.1v1.1h-1.1zM100.8 198.5h1.1v1.1h-1.1zM106.2 198.9h1.1v1.1h-1.1zM110.8 209.5h1.1v1.1h-1.1zM114.7 187.7h1.1v1.1h-1.1zM103.3 203.1h1.1v1.1h-1.1zM115.1 194.2h1.1v1.1h-1.1zM110.7 197.0h1.1v1.1h-1.1zM106.0 195.1h1.1v1.1h-1.1zM102.9 192.3h1.1v1.1h-1.1zM100.3 201.8h1.1v1.1h-1.1zM115.5 195.7h1.1v1.1h-1.1zM102.5 203.9h1.1v1.1h-1.1zM105.8 202.0h1.1v1.1h-1.1zM113.3 195.9h1.1v1.1h-1.1zM100.8 200.5h1.1v1.1h-1.1zM107.6 189.8h1.1v1.1h-1.1zM104.2 185.3h1.1v1.1h-1.1zM106.3 209.1h1.1v1.1h-1.1zM106.5 198.5h1.1v1.1h-1.1zM113.2 195.9h1.1v1.1h-1.1zM100.3 197.2h1.1v1.1h-1.1zM100.8 194.9h1.1v1.1h-1.1zM111.8 202.1h1.1v1.1h-1.1zM114.5 194.2h1.1v1.1h-1.1zM115.4 193.8h1.1v1.1h-1.1zM109.8 202.1h1.1v1.1h-1.1zM105.0 196.1h1.1v1.1h-1.1zM105.2 208.9h1.1v1.1h-1.1zM113.1 209.6h1.1v1.1h-1.1zM110.2 197.3h1.1v1.1h-1.1zM103.6 198.6h1.1v1.1h-1.1zM107.6 196.4h1.1v1.1h-1.1zM106.7 214.9h1.1v1.1h-1.1zM104.2 192.0h1.1v1.1h-1.1zM114.0 189.1h1.1v1.1h-1.1zM103.0 200.7h1.1v1.1h-1.1zM113.1 201.0h1.1v1.1h-1.1zM111.4 185.4h1.1v1.1h-1.1zM105.2 191.8h1.1v1.1h-1.1zM105.8 192.8h1.1v1.1h-1.1zM103.0 197.6h1.1v1.1h-1.1zM112.1 194.0h1.1v1.1h-1.1zM100.3 197.0h1.1v1.1h-1.1zM108.9 199.7h1.1v1.1h-1.1zM113.1 187.4h1.1v1.1h-1.1zM113.4 215.7h1.1v1.1h-1.1zM101.3 196.7h1.1v1.1h-1.1zM108.0 200.1h1.1v1.1h-1.1zM103.6 195.0h1.1v1.1h-1.1zM106.8 189.1h1.1v1.1h-1.1zM111.5 188.8h1.1v1.1h-1.1zM112.9 189.3h1.1v1.1h-1.1zM113.6 195.0h1.1v1.1h-1.1zM104.7 193.7h1.1v1.1h-1.1zM111.5 190.4h1.1v1.1h-1.1zM103.1 194.0h1.1v1.1h-1.1zM102.2 197.1h1.1v1.1h-1.1zM113.8 202.6h1.1v1.1h-1.1zM106.4 191.1h1.1v1.1h-1.1zM115.9 193.9h1.1v1.1h-1.1zM112.7 191.6h1.1v1.1h-1.1zM110.5 196.7h1.1v1.1h-1.1zM107.6 200.5h1.1v1.1h-1.1zM113.3 196.8h1.1v1.1h-1.1zM101.7 206.0h1.1v1.1h-1.1zM105.6 183.0h1.1v1.1h-1.1zM115.6 200.6h1.1v1.1h-1.1zM109.3 200.3h1.1v1.1h-1.1zM113.4 203.6h1.1v1.1h-1.1zM107.2 193.9h1.1v1.1h-1.1zM115.4 196.2h1.1v1.1h-1.1zM103.2 210.0h1.1v1.1h-1.1zM104.1 188.4h1.1v1.1h-1.1zM106.0 191.1h1.1v1.1h-1.1zM104.1 200.2h1.1v1.1h-1.1zM109.6 200.9h1.1v1.1h-1.1zM100.1 194.1h1.1v1.1h-1.1zM105.3 192.9h1.1v1.1h-1.1zM104.9 194.9h1.1v1.1h-1.1zM103.3 192.7h1.1v1.1h-1.1zM100.9 199.7h1.1v1.1h-1.1zM102.6 187.9h1.1v1.1h-1.1zM110.0 189.5h1.1v1.1h-1.1zM101.8 202.8h1.1v1.1h-1.1zM106.6 203.0h1.1v1.1h-1.1zM105.1 206.9h1.1v1.1h-1.1zM105.2 190.4h1.1v1.1h-1.1zM108.7 214.4h1.1v1.1h-1.1zM113.6 192.1h1.1v1.1h-1.1zM115.4 203.1h1.1v1.1h-1.1zM111.7 193.7h1.1v1.1h-1.1zM103.3 200.8h1.1v1.1h-1.1zM107.1 213.1h1.1v1.1h-1.1zM113.3 197.6h1.1v1.1h-1.1zM107.5 184.1h1.1v1.1h-1.1zM103.3 205.6h1.1v1.1h-1.1zM109.9 206.5h1.1v1.1h-1.1zM114.8 197.9h1.1v1.1h-1.1zM106.2 205.9h1.1v1.1h-1.1zM108.1 202.6h1.1v1.1h-1.1zM108.3 200.7h1.1v1.1h-1.1zM114.6 201.9h1.1v1.1h-1.1zM112.5 203.8h1.1v1.1h-1.1zM115.1 202.5h1.1v1.1h-1.1zM115.3 198.3h1.1v1.1h-1.1zM115.6 200.7h1.1v1.1h-1.1zM114.9 194.5h1.1v1.1h-1.1zM106.1 197.3h1.1v1.1h-1.1zM112.5 205.6h1.1v1.1h-1.1zM102.9 191.1h1.1v1.1h-1.1zM106.4 198.2h1.1v1.1h-1.1zM113.3 191.8h1.1v1.1h-1.1zM103.4 199.3h1.1v1.1h-1.1zM106.4 192.8h1.1v1.1h-1.1zM102.6 189.7h1.1v1.1h-1.1zM103.8 196.2h1.1v1.1h-1.1zM100.5 194.5h1.1v1.1h-1.1zM108.7 181.2h1.1v1.1h-1.1zM113.6 197.1h1.1v1.1h-1.1zM101.7 194.9h1.1v1.1h-1.1zM109.8 189.3h1.1v1.1h-1.1zM105.1 191.5h1.1v1.1h-1.1zM107.0 188.3h1.1v1.1h-1.1zM110.5 201.8h1.1v1.1h-1.1zM101.2 189.4h1.1v1.1h-1.1zM109.9 199.6h1.1v1.1h-1.1zM112.0 191.5h1.1v1.1h-1.1zM112.6 197.4h1.1v1.1h-1.1zM107.6 192.4h1.1v1.1h-1.1zM101.5 198.2h1.1v1.1h-1.1zM101.8 202.5h1.1v1.1h-1.1zM107.1 202.7h1.1v1.1h-1.1zM110.2 194.8h1.1v1.1h-1.1zM101.1 196.9h1.1v1.1h-1.1zM108.2 195.7h1.1v1.1h-1.1zM102.6 184.1h1.1v1.1h-1.1zM114.5 189.7h1.1v1.1h-1.1zM102.0 196.8h1.1v1.1h-1.1zM110.7 212.6h1.1v1.1h-1.1zM111.5 177.5h1.1v1.1h-1.1zM107.9 204.3h1.1v1.1h-1.1zM113.0 216.9h1.1v1.1h-1.1zM112.6 200.9h1.1v1.1h-1.1zM115.0 194.7h1.1v1.1h-1.1zM111.8 203.4h1.1v1.1h-1.1zM102.5 199.8h1.1v1.1h-1.1zM112.9 201.8h1.1v1.1h-1.1zM102.3 193.4h1.1v1.1h-1.1zM104.7 180.1h1.1v1.1h-1.1zM104.1 196.8h1.1v1.1h-1.1zM101.2 190.4h1.1v1.1h-1.1zM102.7 196.8h1.1v1.1h-1.1zM110.4 206.3h1.1v1.1h-1.1zM112.6 211.9h1.1v1.1h-1.1zM102.3 203.4h1.1v1.1h-1.1zM108.4 208.5h1.1v1.1h-1.1zM113.8 192.4h1.1v1.1h-1.1zM108.8 191.6h1.1v1.1h-1.1zM103.3 183.4h1.1v1.1h-1.1zM115.1 189.5h1.1v1.1h-1.1zM112.6 191.9h1.1v1.1h-1.1zM104.4 191.5h1.1v1.1h-1.1zM106.1 206.8h1.1v1.1h-1.1zM112.4 196.4h1.1v1.1h-1.1zM111.8 192.6h1.1v1.1h-1.1zM100.6 198.7h1.1v1.1h-1.1zM110.3 199.4h1.1v1.1h-1.1zM115.4 191.8h1.1v1.1h-1.1zM105.5 187.5h1.1v1.1h-1.1zM100.5 191.3h1.1v1.1h-1.1zM109.8 201.2h1.1v1.1h-1.1zM106.9 197.9h1.1v1.1h-1.1zM103.8 181.1h1.1v1.1h-1.1zM103.5 195.7h1.1v1.1h-1.1zM99.8 196.1h1.1v1.1h-1.1zM105.6 195.7h1.1v1.1h-1.1zM103.8 202.5h1.1v1.1h-1.1zM109.3 201.4h1.1v1.1h-1.1zM109.9 192.7h1.1v1.1h-1.1zM107.6 194.3h1.1v1.1h-1.1zM104.8 208.7h1.1v1.1h-1.1zM103.8 210.2h1.1v1.1h-1.1zM113.1 205.8h1.1v1.1h-1.1zM112.2 203.1h1.1v1.1h-1.1zM100.4 192.2h1.1v1.1h-1.1zM110.3 200.4h1.1v1.1h-1.1zM110.2 190.6h1.1v1.1h-1.1zM107.1 194.3h1.1v1.1h-1.1zM104.8 208.3h1.1v1.1h-1.1zM114.3 192.3h1.1v1.1h-1.1zM106.7 205.9h1.1v1.1h-1.1zM103.7 199.5h1.1v1.1h-1.1zM102.0 209.2h1.1v1.1h-1.1zM108.8 201.7h1.1v1.1h-1.1zM103.2 200.9h1.1v1.1h-1.1zM109.8 195.5h1.1v1.1h-1.1zM112.0 186.3h1.1v1.1h-1.1zM102.6 196.5h1.1v1.1h-1.1zM100.6 194.7h1.1v1.1h-1.1zM113.9 202.9h1.1v1.1h-1.1zM100.0 199.4h1.1v1.1h-1.1zM112.3 185.4h1.1v1.1h-1.1zM112.0 196.7h1.1v1.1h-1.1zM107.3 188.6h1.1v1.1h-1.1zM103.6 197.5h1.1v1.1h-1.1zM100.6 200.5h1.1v1.1h-1.1zM110.9 190.6h1.1v1.1h-1.1zM112.4 207.7h1.1v1.1h-1.1zM108.9 195.6h1.1v1.1h-1.1zM107.0 191.3h1.1v1.1h-1.1zM104.2 199.2h1.1v1.1h-1.1zM109.9 188.1h1.1v1.1h-1.1zM113.8 202.1h1.1v1.1h-1.1z" fill="#E5B000" fill-opacity="0.8"/>
<rect x="130.80" y="180.60" width="15.10" height="17.20" fill="none" stroke="#FF4500" stroke-width="0.6" stroke-opacity="0.7"/>
<line x1="130.80" y1="189.00" x2="145.90" y2="189.00" stroke="#FF4500" stroke-width="0.6" stroke-opacity="0.7"/>
<path d="M129.8 187.5h1.1v1.1h-1.1zM141.8 188.9h1.1v1.1h-1.1zM144.6 199.0h1.1v1.1h-1.1zM144.1 189.2h1.1v1.1h-1.1zM135.3 177.9h1.1v1.1h-1.1zM140.0 191.4h1.1v1.1h-1.1zM140.0 217.8h1.1v1.1h-1.1zM137.4 171.2h1.1v1.1h-1.1zM141.6 158.4h1.1v1.1h-1.1zM136.8 181.2h1.1v1.1h-1.1zM140.5 165.2h1.1v1.1h-1.1zM133.5 179.4h1.1v1.1h-1.1zM139.8 184.7h1.1v1.1h-1.1zM133.7 214.7h1.1v1.1h-1.1zM131.1 202.9h1.1v1.1h-1.1zM135.9 212.9h1.1v1.1h-1.1zM133.2 208.1h1.1v1.1h-1.1zM141.0 193.2h1.1v1.1h-1.1zM140.0 190.2h1.1v1.1h-1.1zM130.9 182.6h1.1v1.1h-1.1zM138.9 169.4h1.1v1.1h-1.1zM142.1 173.8h1.1v1.1h-1.1zM142.9 207.6h1.1v1.1h-1.1zM142.7 213.4h1.1v1.1h-1.1zM144.5 200.0h1.1v1.1h-1.1zM131.7 196.4h1.1v1.1h-1.1zM130.3 195.0h1.1v1.1h-1.1zM139.7 203.2h1.1v1.1h-1.1zM141.9 170.1h1.1v1.1h-1.1zM131.5 182.3h1.1v1.1h-1.1zM131.5 181.6h1.1v1.1h-1.1zM134.8 189.9h1.1v1.1h-1.1zM136.6 180.7h1.1v1.1h-1.1zM134.5 199.4h1.1v1.1h-1.1zM141.4 190.8h1.1v1.1h-1.1zM145.1 181.8h1.1v1.1h-1.1zM137.9 197.9h1.1v1.1h-1.1zM130.8 200.2h1.1v1.1h-1.1zM136.6 175.0h1.1v1.1h-1.1zM135.9 168.9h1.1v1.1h-1.1zM141.0 198.2h1.1v1.1h-1.1zM143.4 180.7h1.1v1.1h-1.1zM131.0 187.4h1.1v1.1h-1.1zM129.6 192.9h1.1v1.1h-1.1zM133.1 182.3h1.1v1.1h-1.1zM129.6 192.2h1.1v1.1h-1.1zM137.7 153.7h1.1v1.1h-1.1zM134.0 166.3h1.1v1.1h-1.1zM137.7 190.7h1.1v1.1h-1.1zM134.4 175.4h1.1v1.1h-1.1zM143.4 209.6h1.1v1.1h-1.1zM141.1 187.6h1.1v1.1h-1.1zM137.8 198.3h1.1v1.1h-1.1zM131.9 203.8h1.1v1.1h-1.1zM142.0 201.3h1.1v1.1h-1.1zM139.8 182.0h1.1v1.1h-1.1zM136.0 167.9h1.1v1.1h-1.1zM143.6 178.9h1.1v1.1h-1.1zM131.3 197.1h1.1v1.1h-1.1zM132.9 191.7h1.1v1.1h-1.1zM133.9 187.6h1.1v1.1h-1.1zM136.1 202.0h1.1v1.1h-1.1zM143.7 180.6h1.1v1.1h-1.1zM138.3 191.0h1.1v1.1h-1.1zM141.3 203.9h1.1v1.1h-1.1zM135.3 189.9h1.1v1.1h-1.1zM135.6 170.8h1.1v1.1h-1.1zM140.1 203.5h1.1v1.1h-1.1zM140.8 210.2h1.1v1.1h-1.1zM142.1 196.3h1.1v1.1h-1.1zM138.9 201.7h1.1v1.1h-1.1zM143.6 199.7h1.1v1.1h-1.1zM133.9 199.8h1.1v1.1h-1.1zM141.1 193.5h1.1v1.1h-1.1zM143.0 199.8h1.1v1.1h-1.1zM133.7 193.8h1.1v1.1h-1.1zM135.0 195.8h1.1v1.1h-1.1zM135.1 181.9h1.1v1.1h-1.1zM132.6 188.4h1.1v1.1h-1.1zM132.9 210.2h1.1v1.1h-1.1zM145.4 186.2h1.1v1.1h-1.1zM145.1 199.8h1.1v1.1h-1.1zM142.4 197.1h1.1v1.1h-1.1zM132.8 188.0h1.1v1.1h-1.1zM139.7 175.7h1.1v1.1h-1.1zM136.0 196.4h1.1v1.1h-1.1zM130.3 195.0h1.1v1.1h-1.1zM140.3 171.0h1.1v1.1h-1.1zM137.8 203.1h1.1v1.1h-1.1zM132.4 179.7h1.1v1.1h-1.1zM139.3 178.8h1.1v1.1h-1.1zM143.1 171.8h1.1v1.1h-1.1zM136.8 201.5h1.1v1.1h-1.1zM136.8 170.2h1.1v1.1h-1.1zM133.7 179.8h1.1v1.1h-1.1zM142.3 184.9h1.1v1.1h-1.1zM140.1 163.1h1.1v1.1h-1.1zM139.9 201.3h1.1v1.1h-1.1zM137.2 173.8h1.1v1.1h-1.1zM131.4 182.4h1.1v1.1h-1.1zM136.7 206.4h1.1v1.1h-1.1zM139.9 193.7h1.1v1.1h-1.1zM134.7 169.4h1.1v1.1h-1.1zM139.5 176.8h1.1v1.1h-1.1zM136.4 196.1h1.1v1.1h-1.1zM133.3 175.9h1.1v1.1h-1.1zM139.6 162.8h1.1v1.1h-1.1zM137.6 191.8h1.1v1.1h-1.1zM144.6 176.8h1.1v1.1h-1.1zM133.2 205.3h1.1v1.1h-1.1zM142.4 193.4h1.1v1.1h-1.1zM132.3 204.1h1.1v1.1h-1.1zM139.0 183.8h1.1v1.1h-1.1zM138.0 169.5h1.1v1.1h-1.1zM140.0 184.2h1.1v1.1h-1.1zM136.4 197.0h1.1v1.1h-1.1zM144.1 175.6h1.1v1.1h-1.1zM136.1 194.4h1.1v1.1h-1.1zM141.2 208.6h1.1v1.1h-1.1zM136.1 216.5h1.1v1.1h-1.1zM132.7 215.6h1.1v1.1h-1.1zM129.8 187.5h1.1v1.1h-1.1zM136.6 202.5h1.1v1.1h-1.1zM135.9 171.8h1.1v1.1h-1.1zM134.2 199.1h1.1v1.1h-1.1zM145.0 192.9h1.1v1.1h-1.1zM138.1 210.6h1.1v1.1h-1.1zM136.0 194.0h1.1v1.1h-1.1zM134.3 212.4h1.1v1.1h-1.1zM142.0 205.0h1.1v1.1h-1.1zM139.6 205.8h1.1v1.1h-1.1zM134.1 173.1h1.1v1.1h-1.1zM145.4 192.7h1.1v1.1h-1.1zM142.5 178.3h1.1v1.1h-1.1zM142.2 204.3h1.1v1.1h-1.1zM138.5 178.9h1.1v1.1h-1.1zM131.6 191.7h1.1v1.1h-1.1zM143.4 195.6h1.1v1.1h-1.1zM134.3 179.0h1.1v1.1h-1.1zM136.6 182.4h1.1v1.1h-1.1zM132.8 196.5h1.1v1.1h-1.1zM135.1 210.3h1.1v1.1h-1.1zM133.6 189.9h1.1v1.1h-1.1zM136.6 184.7h1.1v1.1h-1.1zM139.7 203.6h1.1v1.1h-1.1zM144.6 182.8h1.1v1.1h-1.1zM143.1 179.1h1.1v1.1h-1.1zM142.7 212.3h1.1v1.1h-1.1zM142.2 198.1h1.1v1.1h-1.1zM139.6 205.1h1.1v1.1h-1.1zM131.6 208.4h1.1v1.1h-1.1zM139.5 221.4h1.1v1.1h-1.1zM133.7 191.8h1.1v1.1h-1.1zM133.5 195.3h1.1v1.1h-1.1zM142.3 193.8h1.1v1.1h-1.1zM144.4 185.2h1.1v1.1h-1.1zM142.5 195.7h1.1v1.1h-1.1zM139.3 203.0h1.1v1.1h-1.1zM141.1 213.3h1.1v1.1h-1.1zM141.9 176.0h1.1v1.1h-1.1zM141.8 165.5h1.1v1.1h-1.1zM138.3 196.0h1.1v1.1h-1.1zM140.9 208.4h1.1v1.1h-1.1zM138.4 164.6h1.1v1.1h-1.1zM134.2 199.6h1.1v1.1h-1.1zM137.7 190.2h1.1v1.1h-1.1zM130.8 196.6h1.1v1.1h-1.1zM137.7 182.4h1.1v1.1h-1.1zM137.8 191.0h1.1v1.1h-1.1zM132.0 164.4h1.1v1.1h-1.1zM143.2 183.1h1.1v1.1h-1.1zM140.0 173.1h1.1v1.1h-1.1zM143.4 192.8h1.1v1.1h-1.1zM144.8 179.9h1.1v1.1h-1.1zM131.3 199.1h1.1v1.1h-1.1zM130.9 177.5h1.1v1.1h-1.1zM139.3 175.5h1.1v1.1h-1.1zM135.3 177.1h1.1v1.1h-1.1zM143.3 162.1h1.1v1.1h-1.1zM143.3 174.6h1.1v1.1h-1.1zM130.1 188.5h1.1v1.1h-1.1zM135.2 185.9h1.1v1.1h-1.1zM142.5 171.6h1.1v1.1h-1.1zM138.2 179.7h1.1v1.1h-1.1zM141.8 200.5h1.1v1.1h-1.1zM136.5 192.9h1.1v1.1h-1.1zM138.6 203.0h1.1v1.1h-1.1zM143.1 194.5h1.1v1.1h-1.1zM136.3 179.9h1.1v1.1h-1.1zM137.9 179.2h1.1v1.1h-1.1zM145.7 189.3h1.1v1.1h-1.1zM135.4 176.5h1.1v1.1h-1.1zM135.5 170.5h1.1v1.1h-1.1zM140.0 184.2h1.1v1.1h-1.1zM141.6 206.0h1.1v1.1h-1.1zM142.6 209.7h1.1v1.1h-1.1zM138.5 194.7h1.1v1.1h-1.1zM130.4 200.0h1.1v1.1h-1.1zM132.7 192.9h1.1v1.1h-1.1zM139.9 205.2h1.1v1.1h-1.1zM142.3 181.1h1.1v1.1h-1.1zM139.4 204.6h1.1v1.1h-1.1zM139.7 179.9h1.1v1.1h-1.1zM140.7 183.7h1.1v1.1h-1.1zM134.0 173.0h1.1v1.1h-1.1zM141.9 182.3h1.1v1.1h-1.1zM132.0 177.0h1.1v1.1h-1.1zM142.3 191.0h1.1v1.1h-1.1zM144.6 192.7h1.1v1.1h-1.1zM142.9 182.5h1.1v1.1h-1.1zM142.1 179.2h1.1v1.1h-1.1zM134.8 180.2h1.1v1.1h-1.1zM136.5 185.7h1.1v1.1h-1.1zM140.1 183.7h1.1v1.1h-1.1zM144.1 202.0h1.1v1.1h-1.1zM131.6 205.4h1.1v1.1h-1.1zM131.7 195.2h1.1v1.1h-1.1zM144.5 195.8h1.1v1.1h-1.1zM137.1 173.7h1.1v1.1h-1.1zM139.1 202.3h1.1v1.1h-1.1zM145.1 190.6h1.1v1.1h-1.1zM136.6 204.2h1.1v1.1h-1.1zM131.2 187.7h1.1v1.1h-1.1zM132.2 184.0h1.1v1.1h-1.1zM130.1 182.4h1.1v1.1h-1.1zM133.0 209.2h1.1v1.1h-1.1zM145.5 190.1h1.1v1.1h-1.1zM133.3 211.8h1.1v1.1h-1.1zM131.0 203.3h1.1v1.1h-1.1zM141.7 187.6h1.1v1.1h-1.1zM133.0 180.0h1.1v1.1h-1.1zM140.4 210.8h1.1v1.1h-1.1zM143.4 196.4h1.1v1.1h-1.1zM139.9 188.8h1.1v1.1h-1.1zM141.2 184.1h1.1v1.1h-1.1zM135.0 160.2h1.1v1.1h-1.1zM145.1 196.9h1.1v1.1h-1.1zM129.7 189.1h1.1v1.1h-1.1zM140.3 187.6h1.1v1.1h-1.1zM134.7 191.7h1.1v1.1h-1.1zM141.5 184.7h1.1v1.1h-1.1zM137.6 202.5h1.1v1.1h-1.1zM132.5 211.8h1.1v1.1h-1.1zM136.9 178.0h1.1v1.1h-1.1zM140.4 202.1h1.1v1.1h-1.1zM135.9 203.7h1.1v1.1h-1.1zM139.7 207.8h1.1v1.1h-1.1zM136.1 180.2h1.1v1.1h-1.1zM142.1 179.7h1.1v1.1h-1.1zM138.6 210.9h1.1v1.1h-1.1zM134.5 181.8h1.1v1.1h-1.1zM140.0 222.1h1.1v1.1h-1.1zM142.5 202.6h1.1v1.1h-1.1zM145.2 180.8h1.1v1.1h-1.1zM142.3 204.9h1.1v1.1h-1.1zM136.7 180.5h1.1v1.1h-1.1zM144.0 182.9h1.1v1.1h-1.1zM139.2 175.4h1.1v1.1h-1.1zM143.4 203.3h1.1v1.1h-1.1zM129.6 193.2h1.1v1.1h-1.1zM134.2 179.6h1.1v1.1h-1.1zM142.1 174.2h1.1v1.1h-1.1zM143.8 197.6h1.1v1.1h-1.1zM141.5 213.2h1.1v1.1h-1.1zM143.6 196.0h1.1v1.1h-1.1zM143.2 180.1h1.1v1.1h-1.1zM142.8 185.0h1.1v1.1h-1.1zM135.5 178.0h1.1v1.1h-1.1zM133.0 163.1h1.1v1.1h-1.1zM134.1 167.6h1.1v1.1h-1.1zM141.7 181.8h1.1v1.1h-1.1zM139.5 198.1h1.1v1.1h-1.1zM140.7 185.6h1.1v1.1h-1.1zM134.0 180.9h1.1v1.1h-1.1zM142.0 191.4h1.1v1.1h-1.1zM131.1 193.2h1.1v1.1h-1.1zM142.1 175.6h1.1v1.1h-1.1zM139.1 190.8h1.1v1.1h-1.1zM143.9 180.1h1.1v1.1h-1.1zM137.5 201.4h1.1v1.1h-1.1zM139.1 179.1h1.1v1.1h-1.1zM132.6 192.7h1.1v1.1h-1.1zM140.9 197.4h1.1v1.1h-1.1zM136.3 178.6h1.1v1.1h-1.1zM138.0 202.2h1.1v1.1h-1.1zM146.0 191.8h1.1v1.1h-1.1zM135.7 192.7h1.1v1.1h-1.1zM141.8 204.0h1.1v1.1h-1.1zM132.7 200.9h1.1v1.1h-1.1zM138.1 179.7h1.1v1.1h-1.1zM130.2 182.6h1.1v1.1h-1.1zM137.6 195.3h1.1v1.1h-1.1zM142.1 180.3h1.1v1.1h-1.1zM136.6 185.4h1.1v1.1h-1.1zM141.7 210.5h1.1v1.1h-1.1zM145.1 182.2h1.1v1.1h-1.1zM132.8 189.4h1.1v1.1h-1.1zM132.6 193.1h1.1v1.1h-1.1zM138.7 193.1h1.1v1.1h-1.1zM143.9 191.6h1.1v1.1h-1.1zM142.4 159.0h1.1v1.1h-1.1zM131.0 197.7h1.1v1.1h-1.1zM132.1 178.8h1.1v1.1h-1.1zM145.0 181.9h1.1v1.1h-1.1zM140.1 188.7h1.1v1.1h-1.1zM143.9 206.2h1.1v1.1h-1.1zM137.0 183.2h1.1v1.1h-1.1zM132.8 178.1h1.1v1.1h-1.1zM135.2 149.1h1.1v1.1h-1.1zM135.5 180.9h1.1v1.1h-1.1zM141.8 212.6h1.1v1.1h-1.1zM131.7 173.3h1.1v1.1h-1.1zM140.2 194.1h1.1v1.1h-1.1zM143.9 169.6h1.1v1.1h-1.1zM141.8 196.3h1.1v1.1h-1.1zM145.0 192.0h1.1v1.1h-1.1zM139.3 184.6h1.1v1.1h-1.1zM141.7 179.7h1.1v1.1h-1.1zM134.1 198.6h1.1v1.1h-1.1zM131.9 196.6h1.1v1.1h-1.1zM133.7 181.7h1.1v1.1h-1.1zM131.9 190.4h1.1v1.1h-1.1zM141.4 188.6h1.1v1.1h-1.1zM132.8 187.6h1.1v1.1h-1.1zM134.7 218.5h1.1v1.1h-1.1zM144.7 196.2h1.1v1.1h-1.1zM133.1 207.7h1.1v1.1h-1.1zM137.1 169.3h1.1v1.1h-1.1zM141.8 214.0h1.1v1.1h-1.1zM139.5 206.6h1.1v1.1h-1.1zM142.6 178.2h1.1v1.1h-1.1zM137.4 193.0h1.1v1.1h-1.1zM133.3 184.5h1.1v1.1h-1.1zM130.6 184.3h1.1v1.1h-1.1zM132.0 185.8h1.1v1.1h-1.1zM142.8 173.4h1.1v1.1h-1.1zM132.1 188.1h1.1v1.1h-1.1zM134.5 202.8h1.1v1.1h-1.1zM132.5 195.8h1.1v1.1h-1.1zM137.7 179.6h1.1v1.1h-1.1zM132.1 177.8h1.1v1.1h-1.1zM143.4 215.1h1.1v1.1h-1.1zM139.8 215.4h1.1v1.1h-1.1zM133.4 199.2h1.1v1.1h-1.1zM134.2 178.9h1.1v1.1h-1.1zM132.9 191.0h1.1v1.1h-1.1zM143.6 163.2h1.1v1.1h-1.1zM142.6 219.6h1.1v1.1h-1.1zM143.9 198.3h1.1v1.1h-1.1zM130.7 195.7h1.1v1.1h-1.1zM145.7 187.9h1.1v1.1h-1.1zM130.6 178.8h1.1v1.1h-1.1zM131.9 193.7h1.1v1.1h-1.1zM130.4 178.4h1.1v1.1h-1.1zM132.9 197.4h1.1v1.1h-1.1zM136.9 175.7h1.1v1.1h-1.1zM138.9 197.3h1.1v1.1h-1.1zM131.9 184.7h1.1v1.1h-1.1zM141.0 199.0h1.1v1.1h-1.1zM134.0 209.7h1.1v1.1h-1.1zM139.6 194.4h1.1v1.1h-1.1zM137.7 192.2h1.1v1.1h-1.1zM139.7 188.2h1.1v1.1h-1.1zM141.0 198.2h1.1v1.1h-1.1zM133.1 196.0h1.1v1.1h-1.1zM131.9 173.6h1.1v1.1h-1.1zM141.5 188.1h1.1v1.1h-1.1zM131.5 176.3h1.1v1.1h-1.1zM143.4 193.9h1.1v1.1h-1.1zM143.2 178.6h1.1v1.1h-1.1zM144.6 187.2h1.1v1.1h-1.1zM137.4 189.6h1.1v1.1h-1.1zM132.8 196.6h1.1v1.1h-1.1zM143.0 182.1h1.1v1.1h-1.1zM135.7 184.3h1.1v1.1h-1.1zM139.3 195.3h1.1v1.1h-1.1zM137.1 205.2h1.1v1.1h-1.1zM138.1 190.0h1.1v1.1h-1.1zM142.2 204.4h1.1v1.1h-1.1zM142.9 203.7h1.1v1.1h-1.1z" fill="#FF4500" fill-opacity="0.8"/>
<text x="76.10" y="169.00" font-size="7.7" fill="#111" stroke="#111" stroke-width="0.25"><tspan font-style="italic">P</tspan>=1.6x10<tspan font-size="5.54" dy="-2.8">-5</tspan></text>
<line x1="74.00" y1="172.80" x2="110.80" y2="172.80" stroke="#555" stroke-width="0.9" stroke-dasharray="2.9 1.8"/>
<text x="105.00" y="142.40" font-size="7.7" fill="#111" stroke="#111" stroke-width="0.25"><tspan font-style="italic">P</tspan>=2.2x10<tspan font-size="5.54" dy="-2.8">-16</tspan></text>
<line x1="106.70" y1="145.60" x2="144.30" y2="145.60" stroke="#555" stroke-width="0.9" stroke-dasharray="2.9 1.8"/>
<text transform="translate(78.70,237.60) rotate(-55)" font-size="10.0" textLength="31.00" lengthAdjust="spacingAndGlyphs" text-anchor="end" stroke="#000" stroke-width="0.25">Normal</text>
<text transform="translate(108.80,235.80) rotate(-55)" font-size="10.0" textLength="38.50" lengthAdjust="spacingAndGlyphs" text-anchor="end" stroke="#000" stroke-width="0.25">Prim-PCa</text>
<text transform="translate(141.60,237.60) rotate(-55)" font-size="10.0" textLength="34.00" lengthAdjust="spacingAndGlyphs" text-anchor="end" stroke="#000" stroke-width="0.25">mCRPC</text>
<line x1="178.40" y1="139.00" x2="178.40" y2="230.90" stroke="#BDBDBD" stroke-width="1" />
<line x1="177.90" y1="230.40" x2="275.70" y2="230.40" stroke="#BDBDBD" stroke-width="1" />
<text x="176.00" y="168.90" font-size="10.17" textLength="19.00" lengthAdjust="spacingAndGlyphs" text-anchor="end" stroke="#000" stroke-width="0.25">0.75</text>
<text x="176.00" y="194.80" font-size="10.17" textLength="19.00" lengthAdjust="spacingAndGlyphs" text-anchor="end" stroke="#000" stroke-width="0.25">0.50</text>
<text x="176.00" y="220.80" font-size="10.17" textLength="19.00" lengthAdjust="spacingAndGlyphs" text-anchor="end" stroke="#000" stroke-width="0.25">0.25</text>
<line x1="197.30" y1="230.40" x2="197.30" y2="232.10" stroke="#BDBDBD" stroke-width="0.8" />
<line x1="227.00" y1="230.40" x2="227.00" y2="232.10" stroke="#BDBDBD" stroke-width="0.8" />
<line x1="258.40" y1="230.40" x2="258.40" y2="232.10" stroke="#BDBDBD" stroke-width="0.8" />
<text x="224.10" y="135.20" font-size="9.16" textLength="33.20" lengthAdjust="spacingAndGlyphs" text-anchor="middle" font-style="italic" stroke="#000" stroke-width="0.25">EHMT2</text>
<rect x="188.80" y="193.00" width="15.90" height="5.70" fill="none" stroke="#1BB0BF" stroke-width="0.6" stroke-opacity="0.7"/>
<line x1="188.80" y1="196.00" x2="204.70" y2="196.00" stroke="#1BB0BF" stroke-width="0.6" stroke-opacity="0.7"/>
<path d="M195.9 192.6h1.1v1.1h-1.1zM199.8 203.1h1.1v1.1h-1.1zM201.5 205.4h1.1v1.1h-1.1zM197.2 199.8h1.1v1.1h-1.1zM197.7 189.9h1.1v1.1h-1.1zM191.1 195.5h1.1v1.1h-1.1zM193.5 199.5h1.1v1.1h-1.1zM192.2 195.3h1.1v1.1h-1.1zM191.2 196.0h1.1v1.1h-1.1zM193.6 205.2h1.1v1.1h-1.1zM191.1 195.0h1.1v1.1h-1.1zM198.5 192.9h1.1v1.1h-1.1zM199.5 190.6h1.1v1.1h-1.1zM192.4 193.2h1.1v1.1h-1.1zM192.3 201.4h1.1v1.1h-1.1zM193.2 190.2h1.1v1.1h-1.1zM194.9 190.1h1.1v1.1h-1.1zM192.4 196.2h1.1v1.1h-1.1zM198.5 193.7h1.1v1.1h-1.1zM201.9 197.5h1.1v1.1h-1.1zM200.2 199.9h1.1v1.1h-1.1zM193.6 201.2h1.1v1.1h-1.1zM196.1 201.4h1.1v1.1h-1.1zM196.6 185.5h1.1v1.1h-1.1zM196.0 199.3h1.1v1.1h-1.1zM202.2 190.8h1.1v1.1h-1.1zM193.9 196.8h1.1v1.1h-1.1zM195.4 191.5h1.1v1.1h-1.1zM202.2 199.9h1.1v1.1h-1.1zM192.0 199.9h1.1v1.1h-1.1zM197.5 187.1h1.1v1.1h-1.1zM195.1 207.3h1.1v1.1h-1.1zM196.3 192.9h1.1v1.1h-1.1zM197.7 192.8h1.1v1.1h-1.1zM192.1 192.5h1.1v1.1h-1.1zM192.0 190.6h1.1v1.1h-1.1zM192.8 198.4h1.1v1.1h-1.1zM201.5 204.5h1.1v1.1h-1.1zM199.0 194.4h1.1v1.1h-1.1zM201.9 199.8h1.1v1.1h-1.1zM193.0 186.3h1.1v1.1h-1.1zM199.5 193.5h1.1v1.1h-1.1zM194.5 192.9h1.1v1.1h-1.1zM198.4 185.0h1.1v1.1h-1.1zM194.2 193.0h1.1v1.1h-1.1zM202.3 190.7h1.1v1.1h-1.1zM194.5 195.3h1.1v1.1h-1.1zM192.6 193.5h1.1v1.1h-1.1zM198.3 202.8h1.1v1.1h-1.1zM194.8 201.8h1.1v1.1h-1.1z" fill="#1BB0BF" fill-opacity="0.8"/>
<rect x="219.50" y="185.00" width="15.90" height="14.50" fill="none" stroke="#E5B000" stroke-width="0.6" stroke-opacity="0.7"/>
<line x1="219.50" y1="192.00" x2="235.40" y2="192.00" stroke="#E5B000" stroke-width="0.6" stroke-opacity="0.7"/>
<path d="M226.4 190.0h1.1v1.1h-1.1zM220.9 188.7h1.1v1.1h-1.1zM220.7 191.3h1.1v1.1h-1.1zM223.4 190.3h1.1v1.1h-1.1zM223.2 197.9h1.1v1.1h-1.1zM232.0 198.4h1.1v1.1h-1.1zM228.8 196.0h1.1v1.1h-1.1zM222.9 184.1h1.1v1.1h-1.1zM230.4 188.3h1.1v1.1h-1.1zM228.6 184.7h1.1v1.1h-1.1zM226.5 193.8h1.1v1.1h-1.1zM222.3 190.3h1.1v1.1h-1.1zM227.2 196.2h1.1v1.1h-1.1zM219.7 186.1h1.1v1.1h-1.1zM224.8 197.3h1.1v1.1h-1.1zM227.9 194.9h1.1v1.1h-1.1zM226.9 188.6h1.1v1.1h-1.1zM223.7 188.1h1.1v1.1h-1.1zM233.4 192.8h1.1v1.1h-1.1zM226.0 193.9h1.1v1.1h-1.1zM226.1 197.5h1.1v1.1h-1.1zM231.0 194.3h1.1v1.1h-1.1zM234.5 195.3h1.1v1.1h-1.1zM231.0 194.7h1.1v1.1h-1.1zM224.6 195.1h1.1v1.1h-1.1zM229.8 196.5h1.1v1.1h-1.1zM231.3 183.3h1.1v1.1h-1.1zM227.2 184.2h1.1v1.1h-1.1zM231.5 191.3h1.1v1.1h-1.1zM226.7 182.1h1.1v1.1h-1.1zM234.0 194.1h1.1v1.1h-1.1zM222.1 182.8h1.1v1.1h-1.1zM231.6 192.4h1.1v1.1h-1.1zM228.5 191.6h1.1v1.1h-1.1zM227.8 176.6h1.1v1.1h-1.1zM225.6 192.2h1.1v1.1h-1.1zM228.8 194.6h1.1v1.1h-1.1zM225.6 180.1h1.1v1.1h-1.1zM230.3 185.7h1.1v1.1h-1.1zM223.5 194.0h1.1v1.1h-1.1zM225.3 186.1h1.1v1.1h-1.1zM224.2 196.8h1.1v1.1h-1.1zM227.0 194.7h1.1v1.1h-1.1zM226.3 180.6h1.1v1.1h-1.1zM221.0 194.1h1.1v1.1h-1.1zM228.2 196.7h1.1v1.1h-1.1zM234.1 189.8h1.1v1.1h-1.1zM224.0 190.7h1.1v1.1h-1.1zM233.7 198.3h1.1v1.1h-1.1zM223.2 182.5h1.1v1.1h-1.1zM221.1 180.2h1.1v1.1h-1.1zM220.3 197.9h1.1v1.1h-1.1zM233.1 185.5h1.1v1.1h-1.1zM231.5 189.2h1.1v1.1h-1.1zM227.3 188.4h1.1v1.1h-1.1zM224.6 189.6h1.1v1.1h-1.1zM228.4 186.5h1.1v1.1h-1.1zM229.3 183.3h1.1v1.1h-1.1zM227.3 203.7h1.1v1.1h-1.1zM225.5 196.7h1.1v1.1h-1.1zM228.0 195.4h1.1v1.1h-1.1zM232.7 181.0h1.1v1.1h-1.1zM226.8 186.5h1.1v1.1h-1.1zM233.8 184.2h1.1v1.1h-1.1zM224.4 195.1h1.1v1.1h-1.1zM222.9 181.2h1.1v1.1h-1.1zM223.9 189.9h1.1v1.1h-1.1zM227.2 203.1h1.1v1.1h-1.1zM220.4 190.5h1.1v1.1h-1.1zM231.5 199.2h1.1v1.1h-1.1zM234.4 186.4h1.1v1.1h-1.1zM221.7 196.8h1.1v1.1h-1.1zM223.6 187.9h1.1v1.1h-1.1zM222.6 184.9h1.1v1.1h-1.1zM221.5 191.5h1.1v1.1h-1.1zM224.8 186.4h1.1v1.1h-1.1zM234.3 186.1h1.1v1.1h-1.1zM225.5 190.8h1.1v1.1h-1.1zM231.9 190.7h1.1v1.1h-1.1zM218.9 188.8h1.1v1.1h-1.1zM224.4 200.6h1.1v1.1h-1.1zM229.7 196.4h1.1v1.1h-1.1zM222.6 185.3h1.1v1.1h-1.1zM223.8 184.4h1.1v1.1h-1.1zM229.5 192.1h1.1v1.1h-1.1zM225.5 189.2h1.1v1.1h-1.1zM231.3 194.5h1.1v1.1h-1.1zM220.4 194.4h1.1v1.1h-1.1zM227.4 195.0h1.1v1.1h-1.1zM232.4 194.2h1.1v1.1h-1.1zM221.1 183.8h1.1v1.1h-1.1zM220.1 184.9h1.1v1.1h-1.1zM230.7 192.7h1.1v1.1h-1.1zM224.8 186.7h1.1v1.1h-1.1zM220.3 194.3h1.1v1.1h-1.1zM233.4 196.1h1.1v1.1h-1.1zM226.2 187.2h1.1v1.1h-1.1zM225.1 189.3h1.1v1.1h-1.1zM228.0 203.9h1.1v1.1h-1.1zM234.3 196.3h1.1v1.1h-1.1zM223.5 184.2h1.1v1.1h-1.1zM219.5 195.1h1.1v1.1h-1.1zM224.7 202.7h1.1v1.1h-1.1zM233.2 187.0h1.1v1.1h-1.1zM228.7 194.1h1.1v1.1h-1.1zM234.2 187.3h1.1v1.1h-1.1zM224.0 177.3h1.1v1.1h-1.1zM225.1 192.4h1.1v1.1h-1.1zM223.7 191.2h1.1v1.1h-1.1zM233.0 187.8h1.1v1.1h-1.1zM223.8 181.4h1.1v1.1h-1.1zM221.4 193.0h1.1v1.1h-1.1zM234.9 189.6h1.1v1.1h-1.1zM223.5 195.0h1.1v1.1h-1.1zM227.6 189.3h1.1v1.1h-1.1zM225.0 190.9h1.1v1.1h-1.1zM220.6 190.2h1.1v1.1h-1.1zM232.6 193.3h1.1v1.1h-1.1zM221.9 189.3h1.1v1.1h-1.1zM223.5 195.6h1.1v1.1h-1.1zM229.8 192.1h1.1v1.1h-1.1zM224.3 193.6h1.1v1.1h-1.1zM220.8 197.2h1.1v1.1h-1.1zM223.8 199.8h1.1v1.1h-1.1zM226.0 193.6h1.1v1.1h-1.1zM232.6 189.3h1.1v1.1h-1.1zM224.5 193.2h1.1v1.1h-1.1zM230.6 188.7h1.1v1.1h-1.1zM223.4 181.2h1.1v1.1h-1.1zM232.6 202.6h1.1v1.1h-1.1zM226.3 187.7h1.1v1.1h-1.1zM220.7 191.9h1.1v1.1h-1.1zM233.8 190.7h1.1v1.1h-1.1zM228.4 187.5h1.1v1.1h-1.1zM228.8 189.0h1.1v1.1h-1.1zM222.3 195.3h1.1v1.1h-1.1zM227.2 194.1h1.1v1.1h-1.1zM227.7 189.8h1.1v1.1h-1.1zM225.0 190.7h1.1v1.1h-1.1zM229.0 202.2h1.1v1.1h-1.1zM225.3 187.3h1.1v1.1h-1.1zM220.0 189.9h1.1v1.1h-1.1zM224.3 197.2h1.1v1.1h-1.1zM229.0 202.5h1.1v1.1h-1.1zM224.9 198.0h1.1v1.1h-1.1zM227.0 196.9h1.1v1.1h-1.1zM223.8 191.4h1.1v1.1h-1.1zM222.4 194.1h1.1v1.1h-1.1zM223.9 198.7h1.1v1.1h-1.1zM225.6 198.8h1.1v1.1h-1.1zM232.1 200.7h1.1v1.1h-1.1zM232.4 186.4h1.1v1.1h-1.1zM219.3 195.3h1.1v1.1h-1.1zM229.9 195.6h1.1v1.1h-1.1zM225.6 189.1h1.1v1.1h-1.1zM229.5 187.2h1.1v1.1h-1.1zM232.9 190.6h1.1v1.1h-1.1zM224.7 187.7h1.1v1.1h-1.1zM220.6 189.4h1.1v1.1h-1.1zM233.9 189.2h1.1v1.1h-1.1zM219.1 191.1h1.1v1.1h-1.1zM221.1 182.6h1.1v1.1h-1.1zM223.7 194.1h1.1v1.1h-1.1zM225.1 195.4h1.1v1.1h-1.1zM229.1 197.0h1.1v1.1h-1.1zM221.5 193.3h1.1v1.1h-1.1zM230.4 196.2h1.1v1.1h-1.1zM223.5 185.4h1.1v1.1h-1.1zM225.0 183.6h1.1v1.1h-1.1zM218.9 195.6h1.1v1.1h-1.1zM223.7 197.2h1.1v1.1h-1.1zM221.0 183.0h1.1v1.1h-1.1zM220.0 197.0h1.1v1.1h-1.1zM223.3 185.5h1.1v1.1h-1.1zM223.1 200.1h1.1v1.1h-1.1zM232.9 198.8h1.1v1.1h-1.1zM230.3 192.0h1.1v1.1h-1.1zM225.2 189.5h1.1v1.1h-1.1zM223.2 191.8h1.1v1.1h-1.1zM222.0 180.7h1.1v1.1h-1.1zM233.4 197.9h1.1v1.1h-1.1zM230.2 189.9h1.1v1.1h-1.1zM229.2 191.2h1.1v1.1h-1.1zM226.4 180.7h1.1v1.1h-1.1zM226.1 200.8h1.1v1.1h-1.1zM227.2 195.1h1.1v1.1h-1.1zM231.3 194.8h1.1v1.1h-1.1zM219.2 190.6h1.1v1.1h-1.1zM223.1 188.8h1.1v1.1h-1.1zM227.6 181.6h1.1v1.1h-1.1zM227.6 200.4h1.1v1.1h-1.1zM222.7 190.4h1.1v1.1h-1.1zM225.6 197.3h1.1v1.1h-1.1zM222.0 194.1h1.1v1.1h-1.1zM230.5 190.8h1.1v1.1h-1.1zM229.8 195.0h1.1v1.1h-1.1zM227.3 192.3h1.1v1.1h-1.1zM226.1 196.5h1.1v1.1h-1.1zM223.9 197.1h1.1v1.1h-1.1zM233.5 189.8h1.1v1.1h-1.1zM224.4 196.9h1.1v1.1h-1.1zM231.7 198.0h1.1v1.1h-1.1zM222.8 182.3h1.1v1.1h-1.1zM229.7 189.0h1.1v1.1h-1.1zM231.0 186.6h1.1v1.1h-1.1zM232.3 188.1h1.1v1.1h-1.1zM224.7 195.7h1.1v1.1h-1.1zM222.2 195.3h1.1v1.1h-1.1zM222.2 196.5h1.1v1.1h-1.1zM230.4 193.8h1.1v1.1h-1.1zM224.1 189.2h1.1v1.1h-1.1zM226.5 192.9h1.1v1.1h-1.1zM219.8 189.6h1.1v1.1h-1.1zM218.9 194.8h1.1v1.1h-1.1zM221.7 202.0h1.1v1.1h-1.1zM230.7 191.5h1.1v1.1h-1.1zM221.6 199.7h1.1v1.1h-1.1zM226.8 191.0h1.1v1.1h-1.1zM227.7 188.4h1.1v1.1h-1.1zM218.6 193.6h1.1v1.1h-1.1zM228.8 199.6h1.1v1.1h-1.1zM233.9 187.8h1.1v1.1h-1.1zM222.8 189.4h1.1v1.1h-1.1zM221.2 188.3h1.1v1.1h-1.1zM231.3 202.2h1.1v1.1h-1.1zM223.6 193.8h1.1v1.1h-1.1zM232.6 195.4h1.1v1.1h-1.1zM232.9 199.9h1.1v1.1h-1.1zM232.1 197.2h1.1v1.1h-1.1zM230.2 201.2h1.1v1.1h-1.1zM232.5 190.2h1.1v1.1h-1.1zM224.1 195.4h1.1v1.1h-1.1zM225.0 186.9h1.1v1.1h-1.1zM232.0 197.6h1.1v1.1h-1.1zM228.2 192.1h1.1v1.1h-1.1zM229.2 193.7h1.1v1.1h-1.1zM233.5 196.0h1.1v1.1h-1.1zM233.0 183.5h1.1v1.1h-1.1zM222.1 184.9h1.1v1.1h-1.1zM223.6 192.2h1.1v1.1h-1.1zM230.2 189.9h1.1v1.1h-1.1zM221.3 190.8h1.1v1.1h-1.1zM222.3 177.1h1.1v1.1h-1.1zM220.1 197.5h1.1v1.1h-1.1zM230.6 188.4h1.1v1.1h-1.1zM218.5 193.4h1.1v1.1h-1.1zM231.2 198.4h1.1v1.1h-1.1zM226.1 182.1h1.1v1.1h-1.1zM227.2 190.2h1.1v1.1h-1.1zM226.0 200.6h1.1v1.1h-1.1zM229.7 188.6h1.1v1.1h-1.1zM231.9 197.5h1.1v1.1h-1.1zM223.6 195.0h1.1v1.1h-1.1zM226.0 190.0h1.1v1.1h-1.1zM222.3 186.9h1.1v1.1h-1.1zM220.0 189.8h1.1v1.1h-1.1zM234.8 189.0h1.1v1.1h-1.1zM233.1 198.0h1.1v1.1h-1.1zM232.7 202.8h1.1v1.1h-1.1zM228.4 179.8h1.1v1.1h-1.1zM230.0 192.8h1.1v1.1h-1.1zM228.8 190.0h1.1v1.1h-1.1zM234.6 189.7h1.1v1.1h-1.1zM226.7 199.5h1.1v1.1h-1.1zM224.4 189.0h1.1v1.1h-1.1zM233.2 188.0h1.1v1.1h-1.1zM229.9 195.8h1.1v1.1h-1.1zM226.1 192.7h1.1v1.1h-1.1zM225.2 199.6h1.1v1.1h-1.1zM228.3 196.5h1.1v1.1h-1.1zM227.9 185.6h1.1v1.1h-1.1zM225.3 195.7h1.1v1.1h-1.1zM233.5 194.9h1.1v1.1h-1.1zM227.8 194.5h1.1v1.1h-1.1zM223.8 201.1h1.1v1.1h-1.1zM221.4 199.7h1.1v1.1h-1.1zM226.8 187.5h1.1v1.1h-1.1zM227.9 191.1h1.1v1.1h-1.1zM220.4 193.1h1.1v1.1h-1.1zM227.2 199.7h1.1v1.1h-1.1zM225.5 189.9h1.1v1.1h-1.1zM219.7 190.7h1.1v1.1h-1.1zM227.6 180.9h1.1v1.1h-1.1zM230.4 196.4h1.1v1.1h-1.1zM235.4 192.1h1.1v1.1h-1.1zM230.7 189.0h1.1v1.1h-1.1zM225.6 201.1h1.1v1.1h-1.1zM222.3 198.8h1.1v1.1h-1.1zM230.8 199.5h1.1v1.1h-1.1zM220.9 190.1h1.1v1.1h-1.1zM222.5 192.3h1.1v1.1h-1.1zM224.8 190.0h1.1v1.1h-1.1zM223.1 200.0h1.1v1.1h-1.1zM223.6 192.8h1.1v1.1h-1.1zM233.6 190.3h1.1v1.1h-1.1zM228.8 185.9h1.1v1.1h-1.1zM233.4 197.4h1.1v1.1h-1.1zM232.6 186.4h1.1v1.1h-1.1zM224.5 196.9h1.1v1.1h-1.1zM230.5 200.6h1.1v1.1h-1.1zM221.1 187.3h1.1v1.1h-1.1zM225.4 181.8h1.1v1.1h-1.1zM230.8 190.8h1.1v1.1h-1.1zM221.8 177.5h1.1v1.1h-1.1zM227.8 189.8h1.1v1.1h-1.1zM232.1 190.3h1.1v1.1h-1.1zM229.2 202.4h1.1v1.1h-1.1zM223.8 200.9h1.1v1.1h-1.1zM232.7 194.3h1.1v1.1h-1.1zM228.2 198.1h1.1v1.1h-1.1zM220.3 192.9h1.1v1.1h-1.1zM232.2 192.8h1.1v1.1h-1.1zM223.5 195.0h1.1v1.1h-1.1zM229.7 199.0h1.1v1.1h-1.1zM233.3 189.5h1.1v1.1h-1.1zM227.6 194.3h1.1v1.1h-1.1zM234.2 188.0h1.1v1.1h-1.1zM220.9 181.9h1.1v1.1h-1.1zM227.0 190.1h1.1v1.1h-1.1zM233.2 194.9h1.1v1.1h-1.1zM221.5 192.5h1.1v1.1h-1.1zM232.4 190.5h1.1v1.1h-1.1zM226.6 189.4h1.1v1.1h-1.1zM221.8 186.6h1.1v1.1h-1.1zM233.1 195.4h1.1v1.1h-1.1zM228.7 187.0h1.1v1.1h-1.1zM222.6 196.8h1.1v1.1h-1.1zM233.6 194.5h1.1v1.1h-1.1zM221.4 190.5h1.1v1.1h-1.1zM224.6 191.0h1.1v1.1h-1.1zM225.5 184.3h1.1v1.1h-1.1zM224.5 193.6h1.1v1.1h-1.1zM224.7 199.9h1.1v1.1h-1.1zM218.8 192.3h1.1v1.1h-1.1zM229.1 180.8h1.1v1.1h-1.1zM223.4 196.4h1.1v1.1h-1.1zM222.9 191.0h1.1v1.1h-1.1zM228.0 199.0h1.1v1.1h-1.1zM232.6 177.2h1.1v1.1h-1.1zM219.2 189.4h1.1v1.1h-1.1zM231.8 182.4h1.1v1.1h-1.1zM231.4 188.2h1.1v1.1h-1.1zM224.9 186.3h1.1v1.1h-1.1zM223.8 185.7h1.1v1.1h-1.1zM234.1 195.4h1.1v1.1h-1.1zM229.2 180.3h1.1v1.1h-1.1zM230.9 188.6h1.1v1.1h-1.1zM227.1 201.6h1.1v1.1h-1.1zM227.8 188.3h1.1v1.1h-1.1zM225.5 187.8h1.1v1.1h-1.1zM224.3 197.1h1.1v1.1h-1.1zM235.2 194.0h1.1v1.1h-1.1zM223.1 186.3h1.1v1.1h-1.1zM222.4 192.7h1.1v1.1h-1.1zM218.7 190.1h1.1v1.1h-1.1zM233.2 194.6h1.1v1.1h-1.1zM228.0 185.8h1.1v1.1h-1.1zM223.7 193.9h1.1v1.1h-1.1zM223.6 193.1h1.1v1.1h-1.1zM223.8 193.9h1.1v1.1h-1.1zM234.5 190.9h1.1v1.1h-1.1zM224.8 184.5h1.1v1.1h-1.1zM221.0 199.0h1.1v1.1h-1.1zM221.8 188.2h1.1v1.1h-1.1zM225.4 176.5h1.1v1.1h-1.1zM230.7 183.4h1.1v1.1h-1.1zM221.7 181.1h1.1v1.1h-1.1zM226.8 197.3h1.1v1.1h-1.1zM223.1 195.9h1.1v1.1h-1.1zM219.1 189.1h1.1v1.1h-1.1zM230.4 194.4h1.1v1.1h-1.1zM222.5 196.1h1.1v1.1h-1.1zM228.7 188.8h1.1v1.1h-1.1zM233.1 194.4h1.1v1.1h-1.1zM230.9 189.6h1.1v1.1h-1.1zM234.6 188.8h1.1v1.1h-1.1zM232.2 190.0h1.1v1.1h-1.1zM233.4 190.6h1.1v1.1h-1.1zM221.7 190.2h1.1v1.1h-1.1zM227.6 194.7h1.1v1.1h-1.1zM233.3 198.1h1.1v1.1h-1.1zM222.7 186.0h1.1v1.1h-1.1zM229.3 187.4h1.1v1.1h-1.1zM225.7 200.8h1.1v1.1h-1.1zM219.6 189.6h1.1v1.1h-1.1zM225.7 187.1h1.1v1.1h-1.1zM224.7 200.1h1.1v1.1h-1.1zM226.9 194.4h1.1v1.1h-1.1zM226.4 188.2h1.1v1.1h-1.1zM218.9 189.3h1.1v1.1h-1.1zM234.0 198.9h1.1v1.1h-1.1zM219.8 188.5h1.1v1.1h-1.1zM224.6 184.7h1.1v1.1h-1.1zM221.0 185.7h1.1v1.1h-1.1zM231.5 193.9h1.1v1.1h-1.1zM220.2 194.8h1.1v1.1h-1.1zM227.6 194.5h1.1v1.1h-1.1zM228.3 186.2h1.1v1.1h-1.1zM228.4 183.7h1.1v1.1h-1.1zM224.2 189.0h1.1v1.1h-1.1zM230.6 191.7h1.1v1.1h-1.1zM231.1 187.4h1.1v1.1h-1.1zM231.7 192.8h1.1v1.1h-1.1zM234.3 186.9h1.1v1.1h-1.1zM227.4 187.4h1.1v1.1h-1.1zM234.5 193.4h1.1v1.1h-1.1zM226.6 192.5h1.1v1.1h-1.1zM229.7 192.6h1.1v1.1h-1.1zM235.4 192.9h1.1v1.1h-1.1zM222.9 186.4h1.1v1.1h-1.1zM218.9 192.1h1.1v1.1h-1.1zM220.9 189.4h1.1v1.1h-1.1zM227.8 198.6h1.1v1.1h-1.1zM221.7 194.6h1.1v1.1h-1.1zM221.7 197.3h1.1v1.1h-1.1zM221.6 189.9h1.1v1.1h-1.1zM221.2 191.0h1.1v1.1h-1.1zM221.5 178.5h1.1v1.1h-1.1zM235.3 192.8h1.1v1.1h-1.1zM227.0 187.6h1.1v1.1h-1.1zM231.9 188.4h1.1v1.1h-1.1zM226.4 187.8h1.1v1.1h-1.1zM221.1 186.2h1.1v1.1h-1.1zM229.8 203.6h1.1v1.1h-1.1zM225.7 199.9h1.1v1.1h-1.1zM232.9 195.5h1.1v1.1h-1.1zM225.7 199.2h1.1v1.1h-1.1zM233.9 194.8h1.1v1.1h-1.1zM223.2 199.9h1.1v1.1h-1.1zM222.9 189.1h1.1v1.1h-1.1zM222.4 191.5h1.1v1.1h-1.1zM222.7 198.4h1.1v1.1h-1.1zM223.5 192.5h1.1v1.1h-1.1zM233.6 183.4h1.1v1.1h-1.1zM221.2 193.6h1.1v1.1h-1.1zM232.0 199.6h1.1v1.1h-1.1zM231.1 195.2h1.1v1.1h-1.1zM232.3 188.5h1.1v1.1h-1.1zM226.8 190.9h1.1v1.1h-1.1zM233.0 197.3h1.1v1.1h-1.1zM228.5 196.8h1.1v1.1h-1.1zM226.4 199.7h1.1v1.1h-1.1zM223.4 181.1h1.1v1.1h-1.1zM232.7 186.1h1.1v1.1h-1.1zM232.2 185.3h1.1v1.1h-1.1zM222.7 200.0h1.1v1.1h-1.1zM224.6 204.8h1.1v1.1h-1.1zM221.5 177.3h1.1v1.1h-1.1zM221.2 204.4h1.1v1.1h-1.1zM232.1 202.5h1.1v1.1h-1.1zM221.0 197.7h1.1v1.1h-1.1zM222.5 200.0h1.1v1.1h-1.1zM224.3 190.9h1.1v1.1h-1.1zM234.0 189.6h1.1v1.1h-1.1zM235.0 189.4h1.1v1.1h-1.1zM221.4 179.9h1.1v1.1h-1.1zM230.2 193.0h1.1v1.1h-1.1zM221.2 202.6h1.1v1.1h-1.1zM225.9 187.6h1.1v1.1h-1.1zM220.2 191.9h1.1v1.1h-1.1zM233.4 193.6h1.1v1.1h-1.1zM221.4 197.0h1.1v1.1h-1.1zM225.9 196.8h1.1v1.1h-1.1zM221.4 195.9h1.1v1.1h-1.1zM230.2 200.2h1.1v1.1h-1.1zM224.6 189.1h1.1v1.1h-1.1zM226.9 192.0h1.1v1.1h-1.1zM222.6 196.9h1.1v1.1h-1.1zM234.8 189.3h1.1v1.1h-1.1zM223.8 199.2h1.1v1.1h-1.1zM222.3 185.5h1.1v1.1h-1.1zM219.1 191.8h1.1v1.1h-1.1zM227.1 194.3h1.1v1.1h-1.1zM225.0 185.6h1.1v1.1h-1.1zM219.2 196.2h1.1v1.1h-1.1zM227.7 188.7h1.1v1.1h-1.1zM227.7 183.9h1.1v1.1h-1.1zM232.5 185.8h1.1v1.1h-1.1zM229.5 176.1h1.1v1.1h-1.1zM225.7 187.8h1.1v1.1h-1.1zM234.8 195.1h1.1v1.1h-1.1zM225.6 187.5h1.1v1.1h-1.1zM221.3 195.9h1.1v1.1h-1.1zM228.9 192.6h1.1v1.1h-1.1zM234.3 192.0h1.1v1.1h-1.1zM224.9 191.8h1.1v1.1h-1.1zM223.5 200.2h1.1v1.1h-1.1zM232.9 192.9h1.1v1.1h-1.1zM231.7 194.8h1.1v1.1h-1.1zM230.3 193.6h1.1v1.1h-1.1zM224.0 191.0h1.1v1.1h-1.1zM224.1 187.4h1.1v1.1h-1.1zM234.0 186.0h1.1v1.1h-1.1zM231.5 201.9h1.1v1.1h-1.1zM227.2 192.1h1.1v1.1h-1.1zM230.8 196.8h1.1v1.1h-1.1zM225.5 181.3h1.1v1.1h-1.1zM227.4 190.6h1.1v1.1h-1.1zM228.7 186.2h1.1v1.1h-1.1zM229.2 189.7h1.1v1.1h-1.1zM227.7 187.3h1.1v1.1h-1.1zM223.0 193.4h1.1v1.1h-1.1zM232.5 200.1h1.1v1.1h-1.1zM227.3 182.5h1.1v1.1h-1.1zM226.6 193.6h1.1v1.1h-1.1zM234.3 192.6h1.1v1.1h-1.1zM227.5 195.3h1.1v1.1h-1.1zM231.4 184.7h1.1v1.1h-1.1zM222.5 190.9h1.1v1.1h-1.1zM226.4 197.2h1.1v1.1h-1.1zM228.8 201.8h1.1v1.1h-1.1zM232.5 197.9h1.1v1.1h-1.1zM221.4 180.8h1.1v1.1h-1.1zM231.3 183.7h1.1v1.1h-1.1zM221.8 199.7h1.1v1.1h-1.1zM220.4 194.6h1.1v1.1h-1.1zM224.7 195.8h1.1v1.1h-1.1zM226.2 194.4h1.1v1.1h-1.1zM221.1 185.1h1.1v1.1h-1.1zM226.3 200.7h1.1v1.1h-1.1z" fill="#E5B000" fill-opacity="0.8"/>
<rect x="250.30" y="180.80" width="16.20" height="15.00" fill="none" stroke="#FF4500" stroke-width="0.6" stroke-opacity="0.7"/>
<line x1="250.30" y1="188.00" x2="266.50" y2="188.00" stroke="#FF4500" stroke-width="0.6" stroke-opacity="0.7"/>
<path d="M261.6 168.6h1.1v1.1h-1.1zM252.4 191.8h1.1v1.1h-1.1zM258.7 184.3h1.1v1.1h-1.1zM254.4 179.0h1.1v1.1h-1.1zM256.5 181.8h1.1v1.1h-1.1zM250.7 196.6h1.1v1.1h-1.1zM251.0 193.5h1.1v1.1h-1.1zM253.9 203.2h1.1v1.1h-1.1zM255.4 187.2h1.1v1.1h-1.1zM254.4 180.0h1.1v1.1h-1.1zM260.7 191.5h1.1v1.1h-1.1zM264.4 184.7h1.1v1.1h-1.1zM263.3 192.6h1.1v1.1h-1.1zM260.1 200.5h1.1v1.1h-1.1zM257.4 186.6h1.1v1.1h-1.1zM256.1 191.5h1.1v1.1h-1.1zM256.8 186.8h1.1v1.1h-1.1zM260.7 179.6h1.1v1.1h-1.1zM256.5 193.0h1.1v1.1h-1.1zM259.6 179.1h1.1v1.1h-1.1zM266.1 195.7h1.1v1.1h-1.1zM262.0 185.6h1.1v1.1h-1.1zM255.9 177.2h1.1v1.1h-1.1zM252.1 201.2h1.1v1.1h-1.1zM258.8 189.4h1.1v1.1h-1.1zM258.3 177.8h1.1v1.1h-1.1zM252.0 204.7h1.1v1.1h-1.1zM259.8 177.8h1.1v1.1h-1.1zM263.3 176.5h1.1v1.1h-1.1zM257.0 192.0h1.1v1.1h-1.1zM257.7 165.2h1.1v1.1h-1.1zM258.3 193.0h1.1v1.1h-1.1zM260.5 167.6h1.1v1.1h-1.1zM262.5 187.4h1.1v1.1h-1.1zM261.5 186.3h1.1v1.1h-1.1zM259.3 190.9h1.1v1.1h-1.1zM251.9 191.4h1.1v1.1h-1.1zM254.9 169.4h1.1v1.1h-1.1zM253.3 207.8h1.1v1.1h-1.1zM252.1 198.9h1.1v1.1h-1.1zM250.7 189.3h1.1v1.1h-1.1zM260.9 174.2h1.1v1.1h-1.1zM250.8 185.8h1.1v1.1h-1.1zM261.2 176.2h1.1v1.1h-1.1zM265.5 175.8h1.1v1.1h-1.1zM263.5 196.5h1.1v1.1h-1.1zM255.6 193.5h1.1v1.1h-1.1zM258.7 184.4h1.1v1.1h-1.1zM255.9 223.4h1.1v1.1h-1.1zM254.3 190.3h1.1v1.1h-1.1zM264.5 185.6h1.1v1.1h-1.1zM259.3 197.1h1.1v1.1h-1.1zM251.8 177.0h1.1v1.1h-1.1zM255.0 188.2h1.1v1.1h-1.1zM263.4 202.9h1.1v1.1h-1.1zM255.1 173.6h1.1v1.1h-1.1zM259.0 190.1h1.1v1.1h-1.1zM256.3 192.6h1.1v1.1h-1.1zM259.6 176.0h1.1v1.1h-1.1zM256.1 192.0h1.1v1.1h-1.1zM265.6 191.4h1.1v1.1h-1.1zM259.3 181.7h1.1v1.1h-1.1zM258.9 198.5h1.1v1.1h-1.1zM256.9 192.2h1.1v1.1h-1.1zM254.9 179.7h1.1v1.1h-1.1zM263.4 185.0h1.1v1.1h-1.1zM263.5 184.3h1.1v1.1h-1.1zM259.6 206.5h1.1v1.1h-1.1zM257.8 163.2h1.1v1.1h-1.1zM264.5 196.6h1.1v1.1h-1.1zM260.5 200.5h1.1v1.1h-1.1zM250.8 193.4h1.1v1.1h-1.1zM260.0 191.9h1.1v1.1h-1.1zM253.0 185.6h1.1v1.1h-1.1zM262.7 202.0h1.1v1.1h-1.1zM258.4 182.1h1.1v1.1h-1.1zM255.1 181.1h1.1v1.1h-1.1zM254.5 173.7h1.1v1.1h-1.1zM265.5 192.4h1.1v1.1h-1.1zM253.5 183.5h1.1v1.1h-1.1zM263.2 193.1h1.1v1.1h-1.1zM266.1 192.0h1.1v1.1h-1.1zM255.0 174.5h1.1v1.1h-1.1zM264.8 197.6h1.1v1.1h-1.1zM250.8 186.4h1.1v1.1h-1.1zM261.6 182.9h1.1v1.1h-1.1zM255.9 210.1h1.1v1.1h-1.1zM254.0 194.7h1.1v1.1h-1.1zM259.3 180.2h1.1v1.1h-1.1zM252.6 184.0h1.1v1.1h-1.1zM263.8 197.7h1.1v1.1h-1.1zM252.6 183.6h1.1v1.1h-1.1zM256.7 198.8h1.1v1.1h-1.1zM260.8 185.5h1.1v1.1h-1.1zM251.5 191.4h1.1v1.1h-1.1zM257.9 203.2h1.1v1.1h-1.1zM261.5 187.3h1.1v1.1h-1.1zM252.8 176.9h1.1v1.1h-1.1zM265.6 191.8h1.1v1.1h-1.1zM266.6 183.8h1.1v1.1h-1.1zM255.4 202.1h1.1v1.1h-1.1zM255.9 183.8h1.1v1.1h-1.1zM265.8 189.0h1.1v1.1h-1.1zM252.6 175.5h1.1v1.1h-1.1zM259.6 166.1h1.1v1.1h-1.1zM259.1 191.2h1.1v1.1h-1.1zM254.6 194.4h1.1v1.1h-1.1zM265.1 192.3h1.1v1.1h-1.1zM265.5 193.7h1.1v1.1h-1.1zM250.8 182.2h1.1v1.1h-1.1zM256.6 164.5h1.1v1.1h-1.1zM264.2 171.5h1.1v1.1h-1.1zM255.5 187.0h1.1v1.1h-1.1zM257.5 185.9h1.1v1.1h-1.1zM252.9 189.3h1.1v1.1h-1.1zM262.1 207.9h1.1v1.1h-1.1zM259.4 187.7h1.1v1.1h-1.1zM251.6 193.2h1.1v1.1h-1.1zM259.6 169.8h1.1v1.1h-1.1zM257.8 182.6h1.1v1.1h-1.1zM252.7 202.5h1.1v1.1h-1.1zM260.9 191.9h1.1v1.1h-1.1zM256.2 199.2h1.1v1.1h-1.1zM256.5 200.1h1.1v1.1h-1.1zM252.8 185.4h1.1v1.1h-1.1zM265.7 183.1h1.1v1.1h-1.1zM264.0 178.2h1.1v1.1h-1.1zM258.1 208.3h1.1v1.1h-1.1zM264.8 192.0h1.1v1.1h-1.1zM252.0 193.1h1.1v1.1h-1.1zM253.1 174.8h1.1v1.1h-1.1zM257.8 189.3h1.1v1.1h-1.1zM258.5 196.3h1.1v1.1h-1.1zM256.5 201.2h1.1v1.1h-1.1zM253.4 192.8h1.1v1.1h-1.1zM252.8 200.1h1.1v1.1h-1.1zM258.4 190.5h1.1v1.1h-1.1zM263.1 212.3h1.1v1.1h-1.1zM258.3 216.4h1.1v1.1h-1.1zM263.4 191.6h1.1v1.1h-1.1zM254.7 173.1h1.1v1.1h-1.1zM262.4 181.5h1.1v1.1h-1.1zM250.6 194.1h1.1v1.1h-1.1zM256.7 196.4h1.1v1.1h-1.1zM264.4 179.5h1.1v1.1h-1.1zM251.3 187.9h1.1v1.1h-1.1zM259.9 181.6h1.1v1.1h-1.1zM263.2 185.0h1.1v1.1h-1.1zM254.0 188.0h1.1v1.1h-1.1zM260.1 185.0h1.1v1.1h-1.1zM260.4 192.3h1.1v1.1h-1.1zM261.7 188.6h1.1v1.1h-1.1zM263.6 193.2h1.1v1.1h-1.1zM257.8 179.3h1.1v1.1h-1.1zM266.0 190.5h1.1v1.1h-1.1zM256.9 188.2h1.1v1.1h-1.1zM254.1 184.9h1.1v1.1h-1.1zM262.4 191.7h1.1v1.1h-1.1zM255.8 186.2h1.1v1.1h-1.1zM252.5 183.1h1.1v1.1h-1.1zM255.5 191.6h1.1v1.1h-1.1zM266.0 196.7h1.1v1.1h-1.1zM258.1 209.4h1.1v1.1h-1.1zM258.4 188.7h1.1v1.1h-1.1zM262.6 193.6h1.1v1.1h-1.1zM260.0 164.3h1.1v1.1h-1.1zM264.2 194.1h1.1v1.1h-1.1zM262.3 204.3h1.1v1.1h-1.1zM256.3 204.3h1.1v1.1h-1.1zM253.2 199.0h1.1v1.1h-1.1zM261.7 205.8h1.1v1.1h-1.1zM252.2 185.3h1.1v1.1h-1.1zM264.2 201.8h1.1v1.1h-1.1zM261.3 165.2h1.1v1.1h-1.1zM259.8 199.3h1.1v1.1h-1.1zM257.6 171.0h1.1v1.1h-1.1zM264.2 198.2h1.1v1.1h-1.1zM255.8 171.1h1.1v1.1h-1.1zM264.7 202.7h1.1v1.1h-1.1zM251.9 185.6h1.1v1.1h-1.1zM255.3 208.8h1.1v1.1h-1.1zM264.1 185.0h1.1v1.1h-1.1zM257.7 189.9h1.1v1.1h-1.1zM254.2 196.6h1.1v1.1h-1.1zM260.6 163.9h1.1v1.1h-1.1zM262.0 190.2h1.1v1.1h-1.1zM262.4 173.3h1.1v1.1h-1.1zM261.0 201.6h1.1v1.1h-1.1zM257.2 209.1h1.1v1.1h-1.1zM251.8 181.3h1.1v1.1h-1.1zM256.1 176.4h1.1v1.1h-1.1zM259.6 171.1h1.1v1.1h-1.1zM250.9 199.5h1.1v1.1h-1.1zM258.3 171.5h1.1v1.1h-1.1zM263.6 194.5h1.1v1.1h-1.1zM257.0 189.6h1.1v1.1h-1.1zM255.9 178.9h1.1v1.1h-1.1zM253.8 181.2h1.1v1.1h-1.1zM260.1 175.5h1.1v1.1h-1.1zM255.7 206.6h1.1v1.1h-1.1zM261.6 196.8h1.1v1.1h-1.1zM257.4 193.8h1.1v1.1h-1.1zM252.7 177.9h1.1v1.1h-1.1zM260.8 171.3h1.1v1.1h-1.1zM254.5 209.7h1.1v1.1h-1.1zM254.6 194.5h1.1v1.1h-1.1zM254.2 199.5h1.1v1.1h-1.1zM265.0 186.1h1.1v1.1h-1.1zM257.1 170.3h1.1v1.1h-1.1zM258.4 173.4h1.1v1.1h-1.1zM265.4 202.1h1.1v1.1h-1.1zM253.2 185.3h1.1v1.1h-1.1zM258.9 192.3h1.1v1.1h-1.1zM250.2 183.0h1.1v1.1h-1.1zM257.7 201.5h1.1v1.1h-1.1zM262.0 213.7h1.1v1.1h-1.1zM251.5 188.9h1.1v1.1h-1.1zM259.2 199.7h1.1v1.1h-1.1zM256.5 198.0h1.1v1.1h-1.1zM264.9 178.5h1.1v1.1h-1.1zM252.4 202.4h1.1v1.1h-1.1zM260.3 178.5h1.1v1.1h-1.1zM256.8 161.8h1.1v1.1h-1.1zM260.9 199.0h1.1v1.1h-1.1zM258.8 181.5h1.1v1.1h-1.1zM261.2 180.8h1.1v1.1h-1.1zM256.4 200.3h1.1v1.1h-1.1zM266.0 181.6h1.1v1.1h-1.1zM260.7 209.4h1.1v1.1h-1.1zM259.3 196.6h1.1v1.1h-1.1zM263.4 170.8h1.1v1.1h-1.1zM262.2 195.2h1.1v1.1h-1.1zM255.4 189.0h1.1v1.1h-1.1zM252.2 185.9h1.1v1.1h-1.1zM254.1 212.2h1.1v1.1h-1.1zM259.8 181.9h1.1v1.1h-1.1zM256.6 185.9h1.1v1.1h-1.1zM262.6 187.4h1.1v1.1h-1.1zM262.7 183.1h1.1v1.1h-1.1zM255.0 181.7h1.1v1.1h-1.1zM265.5 177.4h1.1v1.1h-1.1zM260.9 185.7h1.1v1.1h-1.1zM256.4 194.8h1.1v1.1h-1.1zM264.6 172.7h1.1v1.1h-1.1zM254.7 184.6h1.1v1.1h-1.1zM253.9 171.9h1.1v1.1h-1.1zM262.1 169.9h1.1v1.1h-1.1zM256.1 179.2h1.1v1.1h-1.1zM264.3 197.8h1.1v1.1h-1.1zM253.3 199.7h1.1v1.1h-1.1zM255.2 188.5h1.1v1.1h-1.1zM251.2 182.0h1.1v1.1h-1.1zM266.3 185.7h1.1v1.1h-1.1zM265.4 199.8h1.1v1.1h-1.1zM265.9 192.8h1.1v1.1h-1.1zM253.7 198.1h1.1v1.1h-1.1zM251.9 183.7h1.1v1.1h-1.1zM254.8 200.1h1.1v1.1h-1.1zM265.6 180.1h1.1v1.1h-1.1zM254.6 196.0h1.1v1.1h-1.1zM257.6 196.2h1.1v1.1h-1.1zM262.4 213.1h1.1v1.1h-1.1zM255.7 176.0h1.1v1.1h-1.1zM253.6 173.8h1.1v1.1h-1.1zM259.4 189.6h1.1v1.1h-1.1zM260.9 176.0h1.1v1.1h-1.1zM256.0 189.2h1.1v1.1h-1.1zM264.9 179.8h1.1v1.1h-1.1zM260.4 179.7h1.1v1.1h-1.1zM254.3 187.3h1.1v1.1h-1.1zM264.0 189.4h1.1v1.1h-1.1zM259.5 185.7h1.1v1.1h-1.1zM255.3 172.5h1.1v1.1h-1.1zM255.3 210.7h1.1v1.1h-1.1zM262.0 202.1h1.1v1.1h-1.1zM261.3 195.2h1.1v1.1h-1.1zM253.3 171.2h1.1v1.1h-1.1zM255.5 199.9h1.1v1.1h-1.1zM260.1 170.5h1.1v1.1h-1.1zM260.7 165.3h1.1v1.1h-1.1zM265.9 190.8h1.1v1.1h-1.1zM262.0 177.6h1.1v1.1h-1.1zM263.4 182.7h1.1v1.1h-1.1zM256.1 198.6h1.1v1.1h-1.1zM258.9 198.2h1.1v1.1h-1.1zM258.7 210.4h1.1v1.1h-1.1zM253.0 177.0h1.1v1.1h-1.1zM256.4 167.3h1.1v1.1h-1.1zM258.4 199.9h1.1v1.1h-1.1zM264.3 193.8h1.1v1.1h-1.1zM256.9 181.5h1.1v1.1h-1.1zM259.5 175.9h1.1v1.1h-1.1zM263.3 185.7h1.1v1.1h-1.1zM262.5 211.0h1.1v1.1h-1.1zM262.3 199.0h1.1v1.1h-1.1zM258.4 203.0h1.1v1.1h-1.1zM261.5 208.8h1.1v1.1h-1.1zM262.8 174.3h1.1v1.1h-1.1zM253.2 175.0h1.1v1.1h-1.1zM261.0 170.0h1.1v1.1h-1.1zM254.6 184.5h1.1v1.1h-1.1zM252.5 173.8h1.1v1.1h-1.1zM255.4 171.9h1.1v1.1h-1.1zM254.3 176.0h1.1v1.1h-1.1zM261.4 189.8h1.1v1.1h-1.1zM266.3 194.0h1.1v1.1h-1.1zM261.8 192.5h1.1v1.1h-1.1zM251.9 178.7h1.1v1.1h-1.1zM250.2 194.4h1.1v1.1h-1.1zM260.4 180.3h1.1v1.1h-1.1zM251.1 194.9h1.1v1.1h-1.1zM257.5 196.1h1.1v1.1h-1.1zM252.6 169.4h1.1v1.1h-1.1zM263.7 181.9h1.1v1.1h-1.1zM260.5 195.3h1.1v1.1h-1.1zM255.7 194.2h1.1v1.1h-1.1zM253.9 181.7h1.1v1.1h-1.1zM262.6 202.0h1.1v1.1h-1.1zM263.5 194.6h1.1v1.1h-1.1zM258.9 210.3h1.1v1.1h-1.1zM252.5 208.6h1.1v1.1h-1.1zM258.5 192.8h1.1v1.1h-1.1zM260.6 185.3h1.1v1.1h-1.1zM262.2 190.9h1.1v1.1h-1.1zM258.6 179.0h1.1v1.1h-1.1zM259.9 183.1h1.1v1.1h-1.1zM266.8 192.4h1.1v1.1h-1.1zM262.1 211.9h1.1v1.1h-1.1zM265.8 199.0h1.1v1.1h-1.1zM251.1 186.5h1.1v1.1h-1.1zM257.6 182.9h1.1v1.1h-1.1zM261.5 189.9h1.1v1.1h-1.1zM255.7 185.7h1.1v1.1h-1.1zM253.9 176.8h1.1v1.1h-1.1zM253.5 181.3h1.1v1.1h-1.1zM262.3 194.4h1.1v1.1h-1.1zM254.0 176.7h1.1v1.1h-1.1zM261.9 187.7h1.1v1.1h-1.1zM259.4 192.0h1.1v1.1h-1.1zM261.6 197.5h1.1v1.1h-1.1zM264.1 207.8h1.1v1.1h-1.1zM265.5 185.8h1.1v1.1h-1.1zM251.0 185.9h1.1v1.1h-1.1zM254.6 170.9h1.1v1.1h-1.1zM261.1 211.9h1.1v1.1h-1.1zM260.6 190.9h1.1v1.1h-1.1zM252.6 188.1h1.1v1.1h-1.1zM260.4 199.7h1.1v1.1h-1.1zM251.4 198.8h1.1v1.1h-1.1zM252.8 188.5h1.1v1.1h-1.1zM262.6 173.9h1.1v1.1h-1.1zM257.8 208.4h1.1v1.1h-1.1zM252.6 193.4h1.1v1.1h-1.1zM263.1 192.3h1.1v1.1h-1.1zM263.3 193.4h1.1v1.1h-1.1zM253.8 167.9h1.1v1.1h-1.1zM251.8 192.2h1.1v1.1h-1.1zM254.2 176.4h1.1v1.1h-1.1zM254.3 183.7h1.1v1.1h-1.1zM260.9 213.9h1.1v1.1h-1.1zM265.9 192.3h1.1v1.1h-1.1zM261.8 201.2h1.1v1.1h-1.1zM256.4 187.5h1.1v1.1h-1.1zM252.6 197.4h1.1v1.1h-1.1zM252.3 168.6h1.1v1.1h-1.1zM256.3 192.4h1.1v1.1h-1.1zM251.6 203.9h1.1v1.1h-1.1zM257.8 198.8h1.1v1.1h-1.1zM252.4 171.3h1.1v1.1h-1.1zM252.0 199.9h1.1v1.1h-1.1zM255.6 179.9h1.1v1.1h-1.1zM258.2 172.0h1.1v1.1h-1.1zM260.2 172.1h1.1v1.1h-1.1zM265.3 191.4h1.1v1.1h-1.1zM256.5 197.3h1.1v1.1h-1.1zM252.9 201.2h1.1v1.1h-1.1zM253.7 198.4h1.1v1.1h-1.1zM260.3 174.3h1.1v1.1h-1.1zM261.9 193.1h1.1v1.1h-1.1zM262.2 185.0h1.1v1.1h-1.1z" fill="#FF4500" fill-opacity="0.8"/>
<text x="195.20" y="170.00" font-size="7.7" fill="#111" stroke="#111" stroke-width="0.25"><tspan font-style="italic">P</tspan>=7.9x10<tspan font-size="5.54" dy="-2.8">-8</tspan></text>
<line x1="195.00" y1="172.90" x2="232.20" y2="172.90" stroke="#555" stroke-width="0.9" stroke-dasharray="2.9 1.8"/>
<text x="226.00" y="153.00" font-size="7.7" fill="#111" stroke="#111" stroke-width="0.25"><tspan font-style="italic">P</tspan>=1.6x10<tspan font-size="5.54" dy="-2.8">-5</tspan></text>
<line x1="227.70" y1="157.50" x2="265.00" y2="157.50" stroke="#555" stroke-width="0.9" stroke-dasharray="2.9 1.8"/>
<text transform="translate(199.50,238.40) rotate(-55)" font-size="10.0" textLength="30.00" lengthAdjust="spacingAndGlyphs" text-anchor="end" stroke="#000" stroke-width="0.25">Normal</text>
<text transform="translate(229.90,236.60) rotate(-55)" font-size="10.0" textLength="38.50" lengthAdjust="spacingAndGlyphs" text-anchor="end" stroke="#000" stroke-width="0.25">Prim-PCa</text>
<text transform="translate(262.80,237.60) rotate(-55)" font-size="10.0" textLength="34.00" lengthAdjust="spacingAndGlyphs" text-anchor="end" stroke="#000" stroke-width="0.25">mCRPC</text>
<text x="332.90" y="10.30" font-size="10.3" font-weight="bold" stroke="#000" stroke-width="0.25">C</text>
<rect x="373.40" y="31.00" width="138.60" height="91.40" fill="#fff" />
<path d="M379.50 31.00V122.40M395.18 31.00V122.40M410.86 31.00V122.40M426.54 31.00V122.40M442.22 31.00V122.40M457.90 31.00V122.40M473.58 31.00V122.40M489.26 31.00V122.40M504.94 31.00V122.40M373.4 118.60H512M373.4 108.17H512M373.4 97.75H512M373.4 87.32H512M373.4 76.90H512M373.4 66.47H512M373.4 56.05H512M373.4 45.62H512M373.4 35.20H512" fill="none" stroke="#EBEBEB" stroke-width="0.5" />
<path d="M379.50 35.20 L380.08 35.20 L380.08 37.01 L382.09 37.01 L382.09 37.95 L384.60 37.95 L384.60 38.59 L385.36 38.59 L385.36 39.90 L387.41 39.90 L387.41 41.01 L390.01 41.01 L390.01 42.13 L391.19 42.13 L391.19 43.63 L392.56 43.63 L392.56 45.09 L396.20 45.09 L396.20 45.91 L396.58 45.91 L396.58 46.40 L399.32 46.40 L399.32 46.15 L400.52 46.15 L400.52 46.38 L402.33 46.38 L402.33 46.42 L405.37 46.42 L405.37 46.07 L406.85 46.07 L406.85 46.54 L408.11 46.54 L408.11 47.07 L410.37 47.07 L410.37 47.29 L411.82 47.29 L411.82 47.76 L414.62 47.76 L414.62 47.80 L416.19 47.80 L416.19 52.12 L417.06 52.12 L417.06 53.95 L419.17 53.95 L419.17 55.66 L434.38 55.66 L434.38 59.18 L444.57 59.18 L444.57 60.22 L509.64 60.22 L509.64 93.58 L444.57 93.58 L444.57 84.20 L434.38 84.20 L434.38 78.09 L419.17 78.09 L419.17 76.02 L417.06 76.02 L417.06 74.04 L416.19 74.04 L416.19 69.40 L414.62 69.40 L414.62 67.81 L411.82 67.81 L411.82 66.53 L410.37 66.53 L410.37 65.07 L408.11 65.07 L408.11 63.83 L406.85 63.83 L406.85 62.55 L405.37 62.55 L405.37 61.22 L402.33 61.22 L402.33 60.18 L400.52 60.18 L400.52 59.28 L399.32 59.28 L399.32 58.02 L396.58 58.02 L396.58 57.31 L396.20 57.31 L396.20 54.77 L392.56 54.77 L392.56 52.71 L391.19 52.71 L391.19 50.68 L390.01 50.68 L390.01 48.41 L387.41 48.41 L387.41 46.13 L385.36 46.13 L385.36 44.01 L384.60 44.01 L384.60 40.71 L382.09 40.71 L382.09 37.63 L380.08 37.63 L380.08 35.20 L379.50 35.20Z" fill="#FC4E07" fill-opacity="0.3"/>
<path d="M379.50 35.20 H380.08 V37.37 H382.09 V39.54 H384.60 V41.71 H385.36 V43.48 H387.41 V45.26 H390.01 V47.04 H391.19 V48.85 H392.56 V50.66 H396.20 V52.46 H396.58 V53.08 H399.32 V53.70 H400.52 V54.32 H402.33 V54.93 H405.37 V55.55 H406.85 V56.48 H408.11 V57.42 H410.37 V58.35 H411.82 V59.29 H414.62 V60.22 H416.19 V64.72 H417.06 V66.64 H419.17 V68.56 H434.38 V73.56 H444.57 V79.40 H509.64" fill="none" stroke="#FC4E07" stroke-width="1.3" />
<path d="M395.18 49.36v2.6M401.45 53.02v2.6M406.94 55.18v2.6M409.29 56.12v2.6M420.27 67.26v2.6M424.97 67.26v2.6M428.11 67.26v2.6M448.49 78.10v2.6M457.90 78.10v2.6M461.82 78.10v2.6M467.31 78.10v2.6M481.42 78.10v2.6M497.10 78.10v2.6M509.64 78.10v2.6" fill="none" stroke="#FC4E07" stroke-width="0.7" />
<path d="M379.50 35.20 L380.05 35.20 L380.05 35.79 L382.50 35.79 L382.50 36.04 L384.66 36.04 L384.66 36.34 L386.16 36.34 L386.16 36.76 L388.30 36.76 L388.30 37.18 L390.12 37.18 L390.12 37.76 L391.32 37.76 L391.32 38.38 L394.00 38.38 L394.00 38.91 L395.71 38.91 L395.71 39.50 L397.27 39.50 L397.27 40.10 L398.86 40.10 L398.86 40.70 L402.24 40.70 L402.24 41.19 L403.74 41.19 L403.74 42.40 L405.34 42.40 L405.34 43.61 L407.74 43.61 L407.74 44.77 L410.03 44.77 L410.03 45.94 L411.91 45.94 L411.91 47.13 L414.78 47.13 L414.78 48.26 L416.16 48.26 L416.16 48.68 L417.41 48.68 L417.41 49.10 L419.68 49.10 L419.68 49.46 L421.12 49.46 L421.12 49.88 L423.49 49.88 L423.49 50.23 L425.76 50.23 L425.76 50.59 L427.30 50.59 L427.30 51.17 L428.42 51.17 L428.42 51.77 L430.59 51.77 L430.59 52.30 L432.81 52.30 L432.81 52.83 L436.34 52.83 L436.34 52.34 L437.79 52.34 L437.79 52.17 L439.06 52.17 L439.06 52.11 L441.14 52.11 L441.14 51.60 L443.79 51.60 L443.79 50.79 L445.36 50.79 L445.36 52.07 L490.04 52.07 L490.04 69.58 L445.36 69.58 L445.36 67.19 L443.79 67.19 L443.79 65.50 L441.14 65.50 L441.14 64.04 L439.06 64.04 L439.06 62.90 L437.79 62.90 L437.79 61.70 L436.34 61.70 L436.34 60.17 L432.81 60.17 L432.81 59.40 L430.59 59.40 L430.59 58.64 L428.42 58.64 L428.42 57.92 L427.30 57.92 L427.30 57.18 L425.76 57.18 L425.76 56.58 L423.49 56.58 L423.49 55.97 L421.12 55.97 L421.12 55.41 L419.68 55.41 L419.68 54.80 L417.41 54.80 L417.41 54.25 L416.16 54.25 L416.16 53.68 L414.78 53.68 L414.78 52.25 L411.91 52.25 L411.91 50.86 L410.03 50.86 L410.03 49.45 L407.74 49.45 L407.74 48.03 L405.34 48.03 L405.34 46.65 L403.74 46.65 L403.74 45.28 L402.24 45.28 L402.24 44.43 L398.86 44.43 L398.86 43.66 L397.27 43.66 L397.27 42.90 L395.71 42.90 L395.71 42.12 L394.00 42.12 L394.00 41.31 L391.32 41.31 L391.32 40.56 L390.12 40.56 L390.12 39.78 L388.30 39.78 L388.30 38.88 L386.16 38.88 L386.16 37.98 L384.66 37.98 L384.66 37.00 L382.50 37.00 L382.50 35.97 L380.05 35.97 L380.05 35.20 L379.50 35.20Z" fill="#2E9FDF" fill-opacity="0.3"/>
<path d="M379.50 35.20 H380.05 V35.89 H382.50 V36.59 H384.66 V37.29 H386.16 V37.98 H388.30 V38.67 H390.12 V39.37 H391.32 V40.06 H394.00 V40.76 H395.71 V41.45 H397.27 V42.15 H398.86 V42.84 H402.24 V43.54 H403.74 V44.85 H405.34 V46.15 H407.74 V47.46 H410.03 V48.77 H411.91 V50.07 H414.78 V51.38 H416.16 V51.88 H417.41 V52.38 H419.68 V52.88 H421.12 V53.38 H423.49 V53.88 H425.76 V54.38 H427.30 V55.05 H428.42 V55.72 H430.59 V56.38 H432.81 V57.05 H436.34 V57.72 H437.79 V58.34 H439.06 V58.97 H441.14 V59.59 H443.79 V60.22 H445.36 V62.14 H490.04" fill="none" stroke="#2E9FDF" stroke-width="1.3" />
<path d="M391.26 38.07v2.6M403.02 42.24v2.6M414.78 50.08v2.6M426.54 53.08v2.6M434.38 55.75v2.6M438.30 57.04v2.6M448.49 60.84v2.6M453.98 60.84v2.6M461.82 60.84v2.6M467.31 60.84v2.6M475.15 60.84v2.6M485.34 60.84v2.6M490.04 60.84v2.6" fill="none" stroke="#2E9FDF" stroke-width="0.7" />
<rect x="373.40" y="31.00" width="138.60" height="91.40" fill="none" stroke="#D0D0D0" stroke-width="0.6"/>
<text x="370.30" y="38.90" font-size="9.4" textLength="17.60" lengthAdjust="spacingAndGlyphs" text-anchor="end" stroke="#000" stroke-width="0.25">1.00</text>
<line x1="371.40" y1="35.20" x2="373.40" y2="35.20" stroke="#333" stroke-width="0.5" />
<text x="370.30" y="59.80" font-size="9.4" textLength="17.60" lengthAdjust="spacingAndGlyphs" text-anchor="end" stroke="#000" stroke-width="0.25">0.75</text>
<line x1="371.40" y1="56.05" x2="373.40" y2="56.05" stroke="#333" stroke-width="0.5" />
<text x="370.30" y="80.80" font-size="9.4" textLength="17.60" lengthAdjust="spacingAndGlyphs" text-anchor="end" stroke="#000" stroke-width="0.25">0.50</text>
<line x1="371.40" y1="76.90" x2="373.40" y2="76.90" stroke="#333" stroke-width="0.5" />
<text x="370.30" y="101.70" font-size="9.4" textLength="17.60" lengthAdjust="spacingAndGlyphs" text-anchor="end" stroke="#000" stroke-width="0.25">0.25</text>
<line x1="371.40" y1="97.75" x2="373.40" y2="97.75" stroke="#333" stroke-width="0.5" />
<text x="370.30" y="122.10" font-size="9.4" textLength="17.60" lengthAdjust="spacingAndGlyphs" text-anchor="end" stroke="#000" stroke-width="0.25">0.00</text>
<line x1="371.40" y1="118.60" x2="373.40" y2="118.60" stroke="#333" stroke-width="0.5" />
<line x1="379.50" y1="122.40" x2="379.50" y2="124.20" stroke="#333" stroke-width="0.5" />
<text x="379.50" y="131.00" font-size="9.8" text-anchor="middle" stroke="#000" stroke-width="0.25">0</text>
<line x1="410.86" y1="122.40" x2="410.86" y2="124.20" stroke="#333" stroke-width="0.5" />
<text x="410.86" y="131.00" font-size="9.8" text-anchor="middle" stroke="#000" stroke-width="0.25">40</text>
<line x1="442.22" y1="122.40" x2="442.22" y2="124.20" stroke="#333" stroke-width="0.5" />
<text x="442.22" y="131.00" font-size="9.8" text-anchor="middle" stroke="#000" stroke-width="0.25">80</text>
<line x1="473.58" y1="122.40" x2="473.58" y2="124.20" stroke="#333" stroke-width="0.5" />
<text x="473.58" y="131.00" font-size="9.8" text-anchor="middle" stroke="#000" stroke-width="0.25">120</text>
<line x1="504.94" y1="122.40" x2="504.94" y2="124.20" stroke="#333" stroke-width="0.5" />
<text x="504.94" y="131.00" font-size="9.8" text-anchor="middle" stroke="#000" stroke-width="0.25">160</text>
<text x="443.30" y="141.30" font-size="9.6" textLength="33.50" lengthAdjust="spacingAndGlyphs" text-anchor="middle" stroke="#000" stroke-width="0.25">(weeks)</text>
<text transform="translate(349.60,76.10) rotate(-90)" font-size="10.0" textLength="85.20" lengthAdjust="spacingAndGlyphs" text-anchor="middle" stroke="#000" stroke-width="0.25">Survival probability</text>
<text x="363.10" y="22.60" font-size="10.4" textLength="148.90" lengthAdjust="spacingAndGlyphs" stroke="#000" stroke-width="0.25">Progression-free Survival (<tspan font-style="italic">EHMT1</tspan>)</text>
<text x="382.50" y="104.00" font-size="10.2" textLength="34.70" lengthAdjust="spacingAndGlyphs" stroke="#000" stroke-width="0.25"><tspan font-style="italic">P</tspan>=0.001</text>
<text x="382.00" y="114.60" font-size="5.0" textLength="15.00" lengthAdjust="spacingAndGlyphs" fill="#222" stroke="#222" stroke-width="0.08">Strata</text>
<rect x="401.70" y="108.90" width="8.60" height="8.00" fill="#FC4E07" fill-opacity="0.3"/>
<line x1="402.20" y1="112.90" x2="409.80" y2="112.90" stroke="#FC4E07" stroke-width="1.1" />
<line x1="406.00" y1="111.40" x2="406.00" y2="114.40" stroke="#FC4E07" stroke-width="0.8" />
<text x="412.70" y="114.60" font-size="5.0" textLength="24.20" lengthAdjust="spacingAndGlyphs" fill="#222" stroke="#222" stroke-width="0.08">group=high</text>
<rect x="440.70" y="108.90" width="8.60" height="8.00" fill="#2E9FDF" fill-opacity="0.3"/>
<line x1="441.20" y1="112.90" x2="448.80" y2="112.90" stroke="#2E9FDF" stroke-width="1.1" />
<line x1="445.00" y1="111.40" x2="445.00" y2="114.40" stroke="#2E9FDF" stroke-width="0.8" />
<text x="451.60" y="114.60" font-size="5.0" textLength="22.20" lengthAdjust="spacingAndGlyphs" fill="#222" stroke="#222" stroke-width="0.08">group=low</text>
<rect x="373.40" y="161.50" width="138.60" height="91.60" fill="#fff" />
<path d="M379.50 161.50V253.10M395.18 161.50V253.10M410.86 161.50V253.10M426.54 161.50V253.10M442.22 161.50V253.10M457.90 161.50V253.10M473.58 161.50V253.10M489.26 161.50V253.10M504.94 161.50V253.10M373.4 249.60H512M373.4 239.17H512M373.4 228.75H512M373.4 218.32H512M373.4 207.90H512M373.4 197.47H512M373.4 187.05H512M373.4 176.62H512M373.4 166.20H512" fill="none" stroke="#EBEBEB" stroke-width="0.5" />
<path d="M379.50 166.20 L380.40 166.20 L380.40 168.03 L384.20 168.03 L384.20 168.08 L385.25 168.08 L385.25 170.03 L387.16 170.03 L387.16 171.44 L390.40 171.44 L390.40 173.26 L391.18 173.26 L391.18 174.80 L393.35 174.80 L393.35 176.05 L395.25 176.05 L395.25 177.35 L398.00 177.35 L398.00 178.47 L399.57 178.47 L399.57 181.97 L415.80 181.97 L415.80 186.98 L417.20 186.98 L417.20 188.02 L419.56 188.02 L419.56 188.73 L433.52 188.73 L433.52 188.36 L509.64 188.36 L509.64 214.22 L433.52 214.22 L433.52 205.97 L419.56 205.97 L419.56 204.46 L417.20 204.46 L417.20 203.20 L415.80 203.20 L415.80 194.86 L399.57 194.86 L399.57 190.78 L398.00 190.78 L398.00 188.63 L395.25 188.63 L395.25 186.62 L393.35 186.62 L393.35 184.57 L391.18 184.57 L391.18 182.74 L390.40 182.74 L390.40 179.59 L387.16 179.59 L387.16 176.14 L385.25 176.14 L385.25 173.08 L384.20 173.08 L384.20 168.98 L380.40 168.98 L380.40 166.20 L379.50 166.20Z" fill="#FC4E07" fill-opacity="0.3"/>
<path d="M379.50 166.20 H380.40 V168.58 H384.20 V170.95 H385.25 V173.54 H387.16 V176.12 H390.40 V178.71 H391.18 V180.42 H393.35 V182.13 H395.25 V183.84 H398.00 V185.55 H399.57 V189.39 H415.80 V196.31 H417.20 V197.47 H419.56 V198.64 H433.52 V203.23 H509.64" fill="none" stroke="#FC4E07" stroke-width="1.3" />
<path d="M399.10 184.25v2.6M403.02 188.09v2.6M406.94 188.09v2.6M422.62 197.34v2.6M426.54 197.34v2.6M448.49 201.93v2.6M453.98 201.93v2.6M465.74 201.93v2.6M472.01 201.93v2.6M477.50 201.93v2.6M489.26 201.93v2.6M509.64 201.93v2.6" fill="none" stroke="#FC4E07" stroke-width="0.7" />
<path d="M379.50 166.20 L380.61 166.20 L380.61 166.66 L382.69 166.66 L382.69 166.95 L384.43 166.95 L384.43 167.30 L386.39 167.30 L386.39 167.60 L387.86 167.60 L387.86 168.07 L390.40 168.07 L390.40 168.58 L391.01 168.58 L391.01 169.17 L393.92 169.17 L393.92 169.61 L396.10 169.61 L396.10 170.11 L398.08 170.11 L398.08 170.61 L399.71 170.61 L399.71 171.14 L402.71 171.14 L402.71 171.58 L403.91 171.58 L403.91 173.05 L405.25 173.05 L405.25 174.51 L407.89 174.51 L407.89 175.89 L410.39 175.89 L410.39 177.28 L411.39 177.28 L411.39 178.15 L412.90 178.15 L412.90 178.99 L414.50 178.99 L414.50 179.83 L417.20 179.83 L417.20 180.60 L419.56 180.60 L419.56 181.35 L421.15 181.35 L421.15 181.75 L422.06 181.75 L422.06 182.22 L424.91 182.22 L424.91 182.49 L426.43 182.49 L426.43 182.89 L428.12 182.89 L428.12 183.28 L430.28 183.28 L430.28 183.62 L433.52 183.62 L433.52 183.85 L434.73 183.85 L434.73 184.31 L436.68 184.31 L436.68 184.70 L437.60 184.70 L437.60 185.19 L440.06 185.19 L440.06 185.52 L442.69 185.52 L442.69 183.72 L444.18 183.72 L444.18 184.86 L490.04 184.86 L490.04 207.38 L444.18 207.38 L444.18 197.49 L442.69 197.49 L442.69 195.14 L440.06 195.14 L440.06 194.37 L437.60 194.37 L437.60 193.72 L436.68 193.72 L436.68 192.99 L434.73 192.99 L434.73 192.32 L433.52 192.32 L433.52 191.51 L430.28 191.51 L430.28 190.79 L428.12 190.79 L428.12 190.10 L426.43 190.10 L426.43 189.43 L424.91 189.43 L424.91 188.65 L422.06 188.65 L422.06 188.02 L421.15 188.02 L421.15 187.34 L419.56 187.34 L419.56 186.28 L417.20 186.28 L417.20 185.22 L414.50 185.22 L414.50 184.22 L412.90 184.22 L412.90 183.21 L411.39 183.21 L411.39 182.23 L410.39 182.23 L410.39 180.58 L407.89 180.58 L407.89 178.92 L405.25 178.92 L405.25 177.31 L403.91 177.31 L403.91 175.71 L402.71 175.71 L402.71 174.95 L399.71 174.95 L399.71 174.25 L398.08 174.25 L398.08 173.54 L396.10 173.54 L396.10 172.81 L393.92 172.81 L393.92 172.06 L391.01 172.06 L391.01 171.40 L390.40 171.40 L390.40 170.62 L387.86 170.62 L387.86 169.80 L386.39 169.80 L386.39 168.87 L384.43 168.87 L384.43 167.97 L382.69 167.97 L382.69 167.02 L380.61 167.02 L380.61 166.20 L379.50 166.20Z" fill="#2E9FDF" fill-opacity="0.3"/>
<path d="M379.50 166.20 H380.61 V166.87 H382.69 V167.53 H384.43 V168.20 H386.39 V168.87 H387.86 V169.54 H390.40 V170.20 H391.01 V170.83 H393.92 V171.45 H396.10 V172.08 H398.08 V172.71 H399.71 V173.33 H402.71 V173.96 H403.91 V175.50 H405.25 V177.04 H407.89 V178.58 H410.39 V180.13 H411.39 V181.06 H412.90 V182.00 H414.50 V182.93 H417.20 V183.86 H419.56 V184.80 H421.15 V185.36 H422.06 V185.92 H424.91 V186.48 H426.43 V187.04 H428.12 V187.60 H430.28 V188.16 H433.52 V188.72 H434.73 V189.30 H436.68 V189.89 H437.60 V190.47 H440.06 V191.05 H442.69 V191.64 H444.18 V197.81 H490.04" fill="none" stroke="#2E9FDF" stroke-width="1.3" />
<path d="M387.34 167.57v2.6M399.10 171.41v2.6M410.86 178.83v2.6M422.62 184.62v2.6M434.38 187.42v2.6M448.49 196.51v2.6M453.98 196.51v2.6M461.82 196.51v2.6M472.01 196.51v2.6M481.42 196.51v2.6M490.04 196.51v2.6" fill="none" stroke="#2E9FDF" stroke-width="0.7" />
<rect x="373.40" y="161.50" width="138.60" height="91.60" fill="none" stroke="#D0D0D0" stroke-width="0.6"/>
<text x="370.30" y="170.20" font-size="9.4" textLength="17.60" lengthAdjust="spacingAndGlyphs" text-anchor="end" stroke="#000" stroke-width="0.25">1.00</text>
<line x1="371.40" y1="166.20" x2="373.40" y2="166.20" stroke="#333" stroke-width="0.5" />
<text x="370.30" y="191.10" font-size="9.4" textLength="17.60" lengthAdjust="spacingAndGlyphs" text-anchor="end" stroke="#000" stroke-width="0.25">0.75</text>
<line x1="371.40" y1="187.05" x2="373.40" y2="187.05" stroke="#333" stroke-width="0.5" />
<text x="370.30" y="211.90" font-size="9.4" textLength="17.60" lengthAdjust="spacingAndGlyphs" text-anchor="end" stroke="#000" stroke-width="0.25">0.50</text>
<line x1="371.40" y1="207.90" x2="373.40" y2="207.90" stroke="#333" stroke-width="0.5" />
<text x="370.30" y="232.70" font-size="9.4" textLength="17.60" lengthAdjust="spacingAndGlyphs" text-anchor="end" stroke="#000" stroke-width="0.25">0.25</text>
<line x1="371.40" y1="228.75" x2="373.40" y2="228.75" stroke="#333" stroke-width="0.5" />
<text x="370.30" y="253.60" font-size="9.4" textLength="17.60" lengthAdjust="spacingAndGlyphs" text-anchor="end" stroke="#000" stroke-width="0.25">0.00</text>
<line x1="371.40" y1="249.60" x2="373.40" y2="249.60" stroke="#333" stroke-width="0.5" />
<line x1="379.50" y1="253.10" x2="379.50" y2="254.90" stroke="#333" stroke-width="0.5" />
<text x="379.50" y="263.10" font-size="9.8" text-anchor="middle" stroke="#000" stroke-width="0.25">0</text>
<line x1="410.86" y1="253.10" x2="410.86" y2="254.90" stroke="#333" stroke-width="0.5" />
<text x="410.86" y="263.10" font-size="9.8" text-anchor="middle" stroke="#000" stroke-width="0.25">40</text>
<line x1="442.22" y1="253.10" x2="442.22" y2="254.90" stroke="#333" stroke-width="0.5" />
<text x="442.22" y="263.10" font-size="9.8" text-anchor="middle" stroke="#000" stroke-width="0.25">80</text>
<line x1="473.58" y1="253.10" x2="473.58" y2="254.90" stroke="#333" stroke-width="0.5" />
<text x="473.58" y="263.10" font-size="9.8" text-anchor="middle" stroke="#000" stroke-width="0.25">120</text>
<line x1="504.94" y1="253.10" x2="504.94" y2="254.90" stroke="#333" stroke-width="0.5" />
<text x="504.94" y="263.10" font-size="9.8" text-anchor="middle" stroke="#000" stroke-width="0.25">160</text>
<text x="443.30" y="270.60" font-size="9.6" textLength="33.50" lengthAdjust="spacingAndGlyphs" text-anchor="middle" stroke="#000" stroke-width="0.25">(weeks)</text>
<text transform="translate(349.60,206.00) rotate(-90)" font-size="10.0" textLength="85.20" lengthAdjust="spacingAndGlyphs" text-anchor="middle" stroke="#000" stroke-width="0.25">Survival probability</text>
<text x="364.20" y="158.20" font-size="10.4" textLength="148.50" lengthAdjust="spacingAndGlyphs" stroke="#000" stroke-width="0.25">Progression-free Survival (<tspan font-style="italic">EHMT2</tspan>)</text>
<text x="384.60" y="231.30" font-size="10.2" textLength="42.00" lengthAdjust="spacingAndGlyphs" stroke="#000" stroke-width="0.25"><tspan font-style="italic">P</tspan>=0.0003</text>
<text x="381.20" y="244.50" font-size="5.0" textLength="15.00" lengthAdjust="spacingAndGlyphs" fill="#222" stroke="#222" stroke-width="0.08">Strata</text>
<rect x="400.20" y="238.80" width="8.60" height="8.00" fill="#FC4E07" fill-opacity="0.3"/>
<line x1="400.70" y1="242.80" x2="408.30" y2="242.80" stroke="#FC4E07" stroke-width="1.1" />
<line x1="404.50" y1="241.30" x2="404.50" y2="244.30" stroke="#FC4E07" stroke-width="0.8" />
<text x="410.90" y="244.50" font-size="5.0" textLength="24.20" lengthAdjust="spacingAndGlyphs" fill="#222" stroke="#222" stroke-width="0.08">group=high</text>
<rect x="439.20" y="238.80" width="8.60" height="8.00" fill="#2E9FDF" fill-opacity="0.3"/>
<line x1="439.70" y1="242.80" x2="447.30" y2="242.80" stroke="#2E9FDF" stroke-width="1.1" />
<line x1="443.50" y1="241.30" x2="443.50" y2="244.30" stroke="#2E9FDF" stroke-width="0.8" />
<text x="449.80" y="244.50" font-size="5.0" textLength="22.20" lengthAdjust="spacingAndGlyphs" fill="#222" stroke="#222" stroke-width="0.08">group=low</text>
<defs><filter id="b3" x="-50%" y="-50%" width="200%" height="200%"><feGaussianBlur stdDeviation="0.3"/></filter><filter id="b5" x="-50%" y="-50%" width="200%" height="200%"><feGaussianBlur stdDeviation="0.5"/></filter><filter id="b8" x="-50%" y="-50%" width="200%" height="200%"><feGaussianBlur stdDeviation="0.8"/></filter><filter id="b10" x="-50%" y="-50%" width="200%" height="200%"><feGaussianBlur stdDeviation="1.0"/></filter><filter id="b15" x="-50%" y="-50%" width="200%" height="200%"><feGaussianBlur stdDeviation="1.5"/></filter><filter id="b20" x="-50%" y="-50%" width="200%" height="200%"><feGaussianBlur stdDeviation="2.0"/></filter><filter id="b30" x="-50%" y="-50%" width="200%" height="200%"><feGaussianBlur stdDeviation="3.0"/></filter><filter id="b40" x="-50%" y="-50%" width="200%" height="200%"><feGaussianBlur stdDeviation="4.0"/></filter><filter id="b60" x="-50%" y="-50%" width="200%" height="200%"><feGaussianBlur stdDeviation="6.0"/></filter></defs>
<text x="6.90" y="287.30" font-size="10.3" font-weight="bold" stroke="#000" stroke-width="0.25">D</text>
<text x="44.10" y="297.80" font-size="9.59" textLength="32.10" lengthAdjust="spacingAndGlyphs" stroke="#000" stroke-width="0.25">LNCaP</text>
<rect x="45.10" y="318.40" width="28.90" height="2.40" fill="#8E8E8E" />
<rect x="45.10" y="304.20" width="28.90" height="14.50" fill="#D4D4D4" stroke="#3A3A3A" stroke-width="1.1"/>
<rect x="48.50" y="310.30" width="10.00" height="5.00" rx="2.50" fill="#888" fill-opacity="0.7" filter="url(#b10)" />
<rect x="49.50" y="313.00" width="8.00" height="3.00" rx="1.50" fill="#999" fill-opacity="0.6" filter="url(#b10)" />
<rect x="63.80" y="307.20" width="2.40" height="1.40" rx="0.70" fill="#111" fill-opacity="1" filter="url(#b3)" />
<rect x="45.10" y="320.80" width="28.90" height="14.40" fill="#D6D6D6" stroke="#3A3A3A" stroke-width="1.1"/>
<rect x="48.10" y="326.50" width="11.00" height="2.20" rx="1.10" fill="#0A0A0A" fill-opacity="1" filter="url(#b3)" />
<rect x="61.50" y="327.20" width="10.50" height="1.60" rx="0.80" fill="#888" fill-opacity="0.6" filter="url(#b5)" />
<rect x="45.10" y="336.90" width="28.90" height="14.90" fill="#E2E2E2" stroke="#3A3A3A" stroke-width="1.1"/>
<rect x="47.80" y="342.10" width="10.80" height="4.00" rx="2.00" fill="#050505" fill-opacity="1" filter="url(#b3)" />
<rect x="61.00" y="342.10" width="11.40" height="4.00" rx="2.00" fill="#050505" fill-opacity="1" filter="url(#b3)" />
<text x="42.80" y="315.40" font-size="10.17" textLength="30.30" lengthAdjust="spacingAndGlyphs" text-anchor="end" stroke="#000" stroke-width="0.25">EHMT1</text>
<text x="42.80" y="331.30" font-size="10.17" textLength="41.80" lengthAdjust="spacingAndGlyphs" text-anchor="end" stroke="#000" stroke-width="0.25">H3K9me2</text>
<text x="42.80" y="347.60" font-size="10.17" textLength="30.80" lengthAdjust="spacingAndGlyphs" text-anchor="end" stroke="#000" stroke-width="0.25">Tubulin</text>
<text x="74.80" y="318.90" font-size="6.3" textLength="15.20" lengthAdjust="spacingAndGlyphs" stroke="#000" stroke-width="0.25">-150</text>
<text x="74.80" y="333.60" font-size="6.3" textLength="10.40" lengthAdjust="spacingAndGlyphs" stroke="#000" stroke-width="0.25">-15</text>
<text x="74.80" y="347.00" font-size="6.3" textLength="10.60" lengthAdjust="spacingAndGlyphs" stroke="#000" stroke-width="0.25">-50</text>
<text x="77.90" y="356.80" font-size="6.3" textLength="8.60" lengthAdjust="spacingAndGlyphs" stroke="#000" stroke-width="0.25">kD</text>
<text transform="translate(57.00,357.60) rotate(-55)" font-size="9.3" textLength="26.00" lengthAdjust="spacingAndGlyphs" text-anchor="end" stroke="#000" stroke-width="0.25">siNTC</text>
<text transform="translate(72.80,354.80) rotate(-55)" font-size="9.3" textLength="39.50" lengthAdjust="spacingAndGlyphs" text-anchor="end" stroke="#000" stroke-width="0.25">siEHMT1</text>
<text x="87.60" y="287.30" font-size="10.3" font-weight="bold" stroke="#000" stroke-width="0.25">E</text>
<text x="137.80" y="297.80" font-size="9.59" textLength="31.10" lengthAdjust="spacingAndGlyphs" stroke="#000" stroke-width="0.25">LNCaP</text>
<rect x="137.80" y="303.40" width="29.10" height="15.20" fill="#DCDCDC" stroke="#3A3A3A" stroke-width="1.1"/>
<rect x="139.50" y="306.50" width="10.80" height="11.50" fill="#B4B4B4" filter="url(#b10)"/>
<rect x="139.80" y="307.80" width="10.70" height="2.80" rx="1.40" fill="#050505" fill-opacity="1" filter="url(#b4)" />
<line x1="150.30" y1="304.50" x2="150.30" y2="318.00" stroke="#999" stroke-width="0.6" />
<rect x="137.80" y="321.40" width="29.10" height="15.10" fill="#DADADA" stroke="#3A3A3A" stroke-width="1.1"/>
<path d="M140 332.8 Q143 330.0 150.3 329.4 L150.3 331.9 Q144 332.6 140.2 334.6Z" fill="#080808" filter="url(#b3)"/>
<path d="M154 330.4 L164 326.4 L164 328.0 L154 331.8Z" fill="#777" filter="url(#b5)" fill-opacity="0.9"/>
<rect x="137.80" y="338.30" width="29.10" height="14.70" fill="#E0E0E0" stroke="#3A3A3A" stroke-width="1.1"/>
<rect x="139.80" y="345.00" width="10.00" height="3.20" rx="1.60" fill="#050505" fill-opacity="1" filter="url(#b3)" />
<rect x="152.40" y="345.00" width="11.20" height="3.20" rx="1.60" fill="#050505" fill-opacity="1" filter="url(#b3)" />
<text x="136.20" y="314.60" font-size="10.17" textLength="31.80" lengthAdjust="spacingAndGlyphs" text-anchor="end" stroke="#000" stroke-width="0.25">EHMT2</text>
<text x="136.20" y="332.20" font-size="10.17" textLength="42.40" lengthAdjust="spacingAndGlyphs" text-anchor="end" stroke="#000" stroke-width="0.25">H3K9me2</text>
<text x="136.20" y="348.60" font-size="10.17" textLength="31.80" lengthAdjust="spacingAndGlyphs" text-anchor="end" stroke="#000" stroke-width="0.25">Tubulin</text>
<text x="167.70" y="318.90" font-size="6.3" textLength="15.20" lengthAdjust="spacingAndGlyphs" stroke="#000" stroke-width="0.25">-150</text>
<text x="167.70" y="333.60" font-size="6.3" textLength="10.40" lengthAdjust="spacingAndGlyphs" stroke="#000" stroke-width="0.25">-15</text>
<text x="167.70" y="347.20" font-size="6.3" textLength="10.60" lengthAdjust="spacingAndGlyphs" stroke="#000" stroke-width="0.25">-50</text>
<text x="170.70" y="356.80" font-size="6.3" textLength="8.60" lengthAdjust="spacingAndGlyphs" stroke="#000" stroke-width="0.25">kD</text>
<text transform="translate(148.00,358.20) rotate(-55)" font-size="9.3" textLength="26.00" lengthAdjust="spacingAndGlyphs" text-anchor="end" stroke="#000" stroke-width="0.25">siNTC</text>
<text transform="translate(163.20,357.70) rotate(-55)" font-size="9.3" textLength="40.00" lengthAdjust="spacingAndGlyphs" text-anchor="end" stroke="#000" stroke-width="0.25">siEHMT2</text>
<text x="338.70" y="287.80" font-size="10.3" font-weight="bold" stroke="#000" stroke-width="0.25">G</text>
<text x="386.20" y="304.00" font-size="9.59" textLength="21.90" lengthAdjust="spacingAndGlyphs" stroke="#000" stroke-width="0.25">PC-3</text>
<rect x="382.30" y="306.30" width="28.10" height="14.90" fill="#E6E6E6" stroke="#3A3A3A" stroke-width="1.1"/>
<rect x="386.00" y="308.80" width="8.50" height="7.50" fill="#7A7A7A" filter="url(#b8)" fill-opacity="0.8"/>
<rect x="392.80" y="308.75" width="1.50" height="5.50" rx="2.75" fill="#222" fill-opacity="1" filter="url(#b4)" />
<rect x="399.00" y="311.50" width="8.00" height="5.00" rx="2.50" fill="#CFCFCF" fill-opacity="1" filter="url(#b10)" />
<rect x="382.30" y="322.80" width="28.10" height="14.50" fill="#D8D8D8" stroke="#3A3A3A" stroke-width="1.1"/>
<rect x="384.70" y="329.50" width="9.90" height="2.20" rx="1.10" fill="#0A0A0A" fill-opacity="1" filter="url(#b4)" />
<rect x="398.00" y="330.45" width="10.00" height="1.50" rx="0.75" fill="#999" fill-opacity="0.7" filter="url(#b6)" />
<rect x="382.30" y="339.80" width="28.10" height="14.80" fill="#EBEBEB" stroke="#3A3A3A" stroke-width="1.1"/>
<rect x="384.20" y="345.55" width="10.40" height="3.30" rx="1.65" fill="#050505" fill-opacity="1" filter="url(#b3)" />
<rect x="397.00" y="345.55" width="12.00" height="3.30" rx="1.65" fill="#050505" fill-opacity="1" filter="url(#b3)" />
<text x="379.70" y="317.30" font-size="10.17" textLength="30.80" lengthAdjust="spacingAndGlyphs" text-anchor="end" stroke="#000" stroke-width="0.25">EHMT1</text>
<text x="379.70" y="333.80" font-size="10.17" textLength="41.80" lengthAdjust="spacingAndGlyphs" text-anchor="end" stroke="#000" stroke-width="0.25">H3K9me2</text>
<text x="379.70" y="350.20" font-size="10.17" textLength="32.70" lengthAdjust="spacingAndGlyphs" text-anchor="end" stroke="#000" stroke-width="0.25">GAPDH</text>
<text x="411.40" y="321.00" font-size="6.3" textLength="15.20" lengthAdjust="spacingAndGlyphs" stroke="#000" stroke-width="0.25">-150</text>
<text x="411.40" y="336.90" font-size="6.3" textLength="10.40" lengthAdjust="spacingAndGlyphs" stroke="#000" stroke-width="0.25">-15</text>
<text x="411.40" y="345.50" font-size="6.3" textLength="10.60" lengthAdjust="spacingAndGlyphs" stroke="#000" stroke-width="0.25">-37</text>
<text x="414.50" y="360.60" font-size="6.3" textLength="8.60" lengthAdjust="spacingAndGlyphs" stroke="#000" stroke-width="0.25">kD</text>
<text x="344.50" y="366.40" font-size="10.03" textLength="39.50" lengthAdjust="spacingAndGlyphs" stroke="#000" stroke-width="0.25">siEHMT1</text>
<text x="391.60" y="366.40" font-size="10.03" text-anchor="middle" stroke="#000" stroke-width="0.25">-</text>
<text x="404.00" y="366.40" font-size="10.03" text-anchor="middle" stroke="#000" stroke-width="0.25">+</text>
<text x="437.80" y="288.80" font-size="10.3" font-weight="bold" stroke="#000" stroke-width="0.25">H</text>
<text x="477.60" y="305.00" font-size="9.59" textLength="21.40" lengthAdjust="spacingAndGlyphs" stroke="#000" stroke-width="0.25">PC-3</text>
<rect x="474.90" y="307.50" width="28.90" height="15.30" fill="#E2E2E2" stroke="#3A3A3A" stroke-width="1.1"/>
<rect x="477.00" y="312.50" width="10.80" height="9.00" fill="#5A5A5A" filter="url(#b8)" fill-opacity="0.85"/>
<rect x="477.00" y="311.35" width="10.80" height="1.90" rx="0.95" fill="#080808" fill-opacity="1" filter="url(#b3)" />
<rect x="477.00" y="313.85" width="10.80" height="1.70" rx="0.85" fill="#080808" fill-opacity="1" filter="url(#b3)" />
<rect x="490.50" y="311.00" width="11.00" height="3.00" rx="1.50" fill="#C4C4C4" fill-opacity="1" filter="url(#b8)" />
<rect x="474.90" y="324.40" width="28.90" height="15.00" fill="#E2E2E2" stroke="#3A3A3A" stroke-width="1.1"/>
<rect x="477.40" y="327.70" width="11.20" height="2.20" rx="1.10" fill="#050505" fill-opacity="1" filter="url(#b3)" />
<rect x="490.80" y="328.85" width="11.00" height="1.30" rx="0.65" fill="#888" fill-opacity="0.7" filter="url(#b5)" />
<rect x="474.90" y="341.20" width="28.90" height="15.20" fill="#C8C8C8" stroke="#3A3A3A" stroke-width="1.1"/>
<rect x="476.00" y="344.90" width="12.00" height="2.80" rx="1.40" fill="#2A2A2A" fill-opacity="1" filter="url(#b5)" />
<rect x="490.50" y="345.10" width="11.50" height="2.80" rx="1.40" fill="#2A2A2A" fill-opacity="1" filter="url(#b5)" />
<text x="471.60" y="317.80" font-size="10.17" textLength="32.20" lengthAdjust="spacingAndGlyphs" text-anchor="end" stroke="#000" stroke-width="0.25">EHMT2</text>
<text x="471.60" y="334.00" font-size="10.17" textLength="42.80" lengthAdjust="spacingAndGlyphs" text-anchor="end" stroke="#000" stroke-width="0.25">H3K9me2</text>
<text x="471.60" y="350.40" font-size="10.17" textLength="34.10" lengthAdjust="spacingAndGlyphs" text-anchor="end" stroke="#000" stroke-width="0.25">GAPDH</text>
<text x="504.50" y="322.80" font-size="6.3" textLength="15.20" lengthAdjust="spacingAndGlyphs" stroke="#000" stroke-width="0.25">-150</text>
<text x="504.50" y="337.40" font-size="6.3" textLength="10.40" lengthAdjust="spacingAndGlyphs" stroke="#000" stroke-width="0.25">-15</text>
<text x="504.50" y="345.50" font-size="6.3" textLength="10.60" lengthAdjust="spacingAndGlyphs" stroke="#000" stroke-width="0.25">-37</text>
<text x="507.20" y="356.10" font-size="6.3" textLength="8.60" lengthAdjust="spacingAndGlyphs" stroke="#000" stroke-width="0.25">kD</text>
<text x="436.90" y="367.00" font-size="10.03" textLength="37.80" lengthAdjust="spacingAndGlyphs" stroke="#000" stroke-width="0.25">siEHMT2</text>
<text x="482.50" y="367.00" font-size="10.03" text-anchor="middle" stroke="#000" stroke-width="0.25">-</text>
<text x="494.40" y="367.00" font-size="10.03" text-anchor="middle" stroke="#000" stroke-width="0.25">+</text>
<text x="180.00" y="287.30" font-size="10.3" font-weight="bold" stroke="#000" stroke-width="0.25">F</text>
<line x1="218.60" y1="291.20" x2="218.60" y2="399.50" stroke="#6A6A6A" stroke-width="1.1" />
<line x1="218.10" y1="399.00" x2="328.00" y2="399.00" stroke="#6A6A6A" stroke-width="1.1" />
<line x1="216.40" y1="398.40" x2="218.60" y2="398.40" stroke="#6A6A6A" stroke-width="0.8" />
<text x="212.20" y="401.40" font-size="9.88" text-anchor="end" stroke="#000" stroke-width="0.25">0</text>
<line x1="216.40" y1="371.60" x2="218.60" y2="371.60" stroke="#6A6A6A" stroke-width="0.8" />
<text x="212.20" y="374.60" font-size="9.88" text-anchor="end" stroke="#000" stroke-width="0.25">1</text>
<line x1="216.40" y1="344.80" x2="218.60" y2="344.80" stroke="#6A6A6A" stroke-width="0.8" />
<text x="212.20" y="347.80" font-size="9.88" text-anchor="end" stroke="#000" stroke-width="0.25">2</text>
<line x1="216.40" y1="318.00" x2="218.60" y2="318.00" stroke="#6A6A6A" stroke-width="0.8" />
<text x="212.20" y="321.00" font-size="9.88" text-anchor="end" stroke="#000" stroke-width="0.25">3</text>
<line x1="216.40" y1="291.20" x2="218.60" y2="291.20" stroke="#6A6A6A" stroke-width="0.8" />
<text x="212.20" y="294.20" font-size="9.88" text-anchor="end" stroke="#000" stroke-width="0.25">4</text>
<line x1="246.03" y1="399.00" x2="246.03" y2="401.20" stroke="#6A6A6A" stroke-width="0.8" />
<line x1="273.06" y1="399.00" x2="273.06" y2="401.20" stroke="#6A6A6A" stroke-width="0.8" />
<line x1="300.09" y1="399.00" x2="300.09" y2="401.20" stroke="#6A6A6A" stroke-width="0.8" />
<line x1="327.12" y1="399.00" x2="327.12" y2="401.20" stroke="#6A6A6A" stroke-width="0.8" />
<text x="219.00" y="411.60" font-size="9.88" text-anchor="middle" stroke="#000" stroke-width="0.25">0</text>
<text x="246.03" y="411.60" font-size="9.88" text-anchor="middle" stroke="#000" stroke-width="0.25">1</text>
<text x="273.06" y="411.60" font-size="9.88" text-anchor="middle" stroke="#000" stroke-width="0.25">2</text>
<text x="300.09" y="411.60" font-size="9.88" text-anchor="middle" stroke="#000" stroke-width="0.25">3</text>
<text x="327.12" y="411.60" font-size="9.88" text-anchor="middle" stroke="#000" stroke-width="0.25">4</text>
<text x="210.80" y="411.60" font-size="9.88" textLength="22.80" lengthAdjust="spacingAndGlyphs" text-anchor="end" stroke="#000" stroke-width="0.25">Days</text>
<text transform="translate(201.80,339.80) rotate(-90)" font-size="10.2" textLength="87.50" lengthAdjust="spacingAndGlyphs" text-anchor="middle" stroke="#000" stroke-width="0.15">Relative cell density</text>
<text x="276.40" y="281.20" font-size="10.03" textLength="29.00" lengthAdjust="spacingAndGlyphs" text-anchor="middle" stroke="#000" stroke-width="0.25">LNCaP</text>
<line x1="261.00" y1="282.70" x2="292.70" y2="282.70" stroke="#000" stroke-width="0.8" />
<path d="M246.03 371.60 C255.04 364.77 286.58 342.25 300.09 330.60 C313.61 318.94 322.62 306.48 327.12 301.65" fill="none" stroke="#4472C4" stroke-width="1.3" />
<path d="M246.03 371.60 C255.04 366.60 286.58 350.20 300.09 341.58 C313.61 332.96 322.62 323.49 327.12 319.88" fill="none" stroke="#A5A5A5" stroke-width="1.3" />
<path d="M246.03 371.60 C255.04 367.58 286.58 354.36 300.09 347.48 C313.61 340.60 322.62 333.19 327.12 330.33" fill="none" stroke="#ED7D31" stroke-width="1.3" />
<path d="M246.03 371.60 C255.04 372.05 286.58 373.61 300.09 374.28 C313.61 374.95 322.62 375.40 327.12 375.62" fill="none" stroke="#FFC000" stroke-width="1.3" />
<line x1="300.09" y1="328.45" x2="300.09" y2="332.74" stroke="#222" stroke-width="0.6" />
<line x1="298.69" y1="328.45" x2="301.49" y2="328.45" stroke="#222" stroke-width="0.6" />
<line x1="298.69" y1="332.74" x2="301.49" y2="332.74" stroke="#222" stroke-width="0.6" />
<line x1="327.12" y1="297.63" x2="327.12" y2="305.67" stroke="#222" stroke-width="0.6" />
<line x1="325.72" y1="297.63" x2="328.52" y2="297.63" stroke="#222" stroke-width="0.6" />
<line x1="325.72" y1="305.67" x2="328.52" y2="305.67" stroke="#222" stroke-width="0.6" />
<circle cx="246.03" cy="371.60" r="2.10" fill="#4472C4"/>
<circle cx="300.09" cy="330.60" r="2.10" fill="#4472C4"/>
<circle cx="327.12" cy="301.65" r="2.10" fill="#4472C4"/>
<line x1="300.09" y1="338.10" x2="300.09" y2="345.07" stroke="#222" stroke-width="0.6" />
<line x1="298.69" y1="338.10" x2="301.49" y2="338.10" stroke="#222" stroke-width="0.6" />
<line x1="298.69" y1="345.07" x2="301.49" y2="345.07" stroke="#222" stroke-width="0.6" />
<line x1="327.12" y1="316.66" x2="327.12" y2="323.09" stroke="#222" stroke-width="0.6" />
<line x1="325.72" y1="316.66" x2="328.52" y2="316.66" stroke="#222" stroke-width="0.6" />
<line x1="325.72" y1="323.09" x2="328.52" y2="323.09" stroke="#222" stroke-width="0.6" />
<rect x="244.03" y="369.60" width="4.00" height="4.00" fill="#A5A5A5" />
<rect x="298.09" y="339.58" width="4.00" height="4.00" fill="#A5A5A5" />
<rect x="325.12" y="317.88" width="4.00" height="4.00" fill="#A5A5A5" />
<line x1="300.09" y1="344.26" x2="300.09" y2="350.70" stroke="#222" stroke-width="0.6" />
<line x1="298.69" y1="344.26" x2="301.49" y2="344.26" stroke="#222" stroke-width="0.6" />
<line x1="298.69" y1="350.70" x2="301.49" y2="350.70" stroke="#222" stroke-width="0.6" />
<line x1="327.12" y1="327.65" x2="327.12" y2="333.01" stroke="#222" stroke-width="0.6" />
<line x1="325.72" y1="327.65" x2="328.52" y2="327.65" stroke="#222" stroke-width="0.6" />
<line x1="325.72" y1="333.01" x2="328.52" y2="333.01" stroke="#222" stroke-width="0.6" />
<path d="M246.03 369.20 L248.43 371.60 L246.03 374.00 L243.63 371.60Z" fill="#ED7D31"/>
<path d="M300.09 345.08 L302.49 347.48 L300.09 349.88 L297.69 347.48Z" fill="#ED7D31"/>
<path d="M327.12 327.93 L329.52 330.33 L327.12 332.73 L324.72 330.33Z" fill="#ED7D31"/>
<line x1="300.09" y1="372.40" x2="300.09" y2="376.16" stroke="#222" stroke-width="0.6" />
<line x1="298.69" y1="372.40" x2="301.49" y2="372.40" stroke="#222" stroke-width="0.6" />
<line x1="298.69" y1="376.16" x2="301.49" y2="376.16" stroke="#222" stroke-width="0.6" />
<line x1="327.12" y1="374.28" x2="327.12" y2="376.96" stroke="#222" stroke-width="0.6" />
<line x1="325.72" y1="374.28" x2="328.52" y2="374.28" stroke="#222" stroke-width="0.6" />
<line x1="325.72" y1="376.96" x2="328.52" y2="376.96" stroke="#222" stroke-width="0.6" />
<path d="M246.03 369.20 L248.43 373.60 L243.63 373.60Z" fill="#FFC000"/>
<path d="M300.09 371.88 L302.49 376.28 L297.69 376.28Z" fill="#FFC000"/>
<path d="M327.12 373.22 L329.52 377.62 L324.72 377.62Z" fill="#FFC000"/>
<text x="327.95" y="329.73" font-size="8.5" textLength="9.70" lengthAdjust="spacingAndGlyphs" text-anchor="middle" font-weight="bold" stroke="#000" stroke-width="0.1">***</text>
<text x="327.95" y="341.03" font-size="8.5" textLength="9.70" lengthAdjust="spacingAndGlyphs" text-anchor="middle" font-weight="bold" stroke="#000" stroke-width="0.1">***</text>
<text x="326.85" y="384.83" font-size="8.5" textLength="11.90" lengthAdjust="spacingAndGlyphs" text-anchor="middle" font-weight="bold" stroke="#000" stroke-width="0.1">***</text>
<line x1="222.80" y1="294.00" x2="241.80" y2="294.00" stroke="#4472C4" stroke-width="1.3" />
<circle cx="232.30" cy="294.00" r="1.30" fill="#4472C4"/>
<text x="246.20" y="297.30" font-size="9.45" textLength="21.80" lengthAdjust="spacingAndGlyphs" stroke="#000" stroke-width="0.25">siNTC</text>
<line x1="222.80" y1="308.20" x2="241.80" y2="308.20" stroke="#ED7D31" stroke-width="1.3" />
<path d="M232.30 306.64 L233.86 308.20 L232.30 309.76 L230.74 308.20Z" fill="#ED7D31"/>
<text x="246.20" y="311.50" font-size="9.45" textLength="30.50" lengthAdjust="spacingAndGlyphs" stroke="#000" stroke-width="0.25">siEHMT1</text>
<line x1="222.80" y1="322.60" x2="241.80" y2="322.60" stroke="#A5A5A5" stroke-width="1.3" />
<rect x="231.00" y="321.30" width="2.60" height="2.60" fill="#A5A5A5" />
<text x="246.20" y="325.90" font-size="9.45" textLength="31.30" lengthAdjust="spacingAndGlyphs" stroke="#000" stroke-width="0.25">siEHMT2</text>
<line x1="222.80" y1="337.00" x2="241.80" y2="337.00" stroke="#FFC000" stroke-width="1.3" />
<path d="M232.30 335.44 L233.86 338.30 L230.74 338.30Z" fill="#FFC000"/>
<text x="246.20" y="340.30" font-size="9.45" textLength="40.00" lengthAdjust="spacingAndGlyphs" stroke="#000" stroke-width="0.25">siEHMT1/2</text>
<text x="7.60" y="401.00" font-size="10.3" font-weight="bold" stroke="#000" stroke-width="0.25">I</text>
<text x="69.20" y="409.60" font-size="9.74" textLength="22.10" lengthAdjust="spacingAndGlyphs" stroke="#000" stroke-width="0.12">PC-3</text>
<text transform="translate(10.50,446.60) rotate(-90)" font-size="9.4" textLength="52.50" lengthAdjust="spacingAndGlyphs" text-anchor="middle" stroke="#000" stroke-width="0.25">Relative cell</text>
<text transform="translate(21.60,446.60) rotate(-90)" font-size="9.4" textLength="33.00" lengthAdjust="spacingAndGlyphs" text-anchor="middle" stroke="#000" stroke-width="0.25">density</text>
<line x1="44.60" y1="411.30" x2="44.60" y2="484.80" stroke="#777777" stroke-width="0.9" />
<line x1="44.60" y1="484.80" x2="125.20" y2="484.80" stroke="#777777" stroke-width="0.9" />
<line x1="42.60" y1="411.90" x2="44.60" y2="411.90" stroke="#777777" stroke-width="0.8" />
<text x="37.40" y="414.36" font-size="9.6" text-anchor="end" stroke="#000" stroke-width="0.1">1.5</text>
<line x1="42.60" y1="436.20" x2="44.60" y2="436.20" stroke="#777777" stroke-width="0.8" />
<text x="37.40" y="438.66" font-size="9.6" text-anchor="end" stroke="#000" stroke-width="0.1">1</text>
<line x1="42.60" y1="460.50" x2="44.60" y2="460.50" stroke="#777777" stroke-width="0.8" />
<text x="37.40" y="462.96" font-size="9.6" text-anchor="end" stroke="#000" stroke-width="0.1">0.5</text>
<line x1="42.60" y1="484.80" x2="44.60" y2="484.80" stroke="#777777" stroke-width="0.8" />
<text x="37.40" y="487.26" font-size="9.6" text-anchor="end" stroke="#000" stroke-width="0.1">0</text>
<line x1="44.60" y1="484.80" x2="44.60" y2="486.80" stroke="#777777" stroke-width="0.8" />
<line x1="64.75" y1="484.80" x2="64.75" y2="486.80" stroke="#777777" stroke-width="0.8" />
<line x1="84.90" y1="484.80" x2="84.90" y2="486.80" stroke="#777777" stroke-width="0.8" />
<line x1="105.05" y1="484.80" x2="105.05" y2="486.80" stroke="#777777" stroke-width="0.8" />
<line x1="125.20" y1="484.80" x2="125.20" y2="486.80" stroke="#777777" stroke-width="0.8" />
<rect x="48.10" y="436.39" width="13.40" height="48.41" fill="#4472C4" />
<line x1="54.80" y1="436.39" x2="54.80" y2="432.26" stroke="#333" stroke-width="0.6" />
<line x1="53.00" y1="432.26" x2="56.60" y2="432.26" stroke="#333" stroke-width="0.6" />
<rect x="68.75" y="453.40" width="13.35" height="31.40" fill="#ED7D31" />
<line x1="75.42" y1="453.40" x2="75.42" y2="449.76" stroke="#333" stroke-width="0.6" />
<line x1="73.62" y1="449.76" x2="77.22" y2="449.76" stroke="#333" stroke-width="0.6" />
<rect x="89.00" y="445.92" width="12.90" height="38.88" fill="#A5A5A5" />
<line x1="95.45" y1="445.92" x2="95.45" y2="442.52" stroke="#333" stroke-width="0.6" />
<line x1="93.65" y1="442.52" x2="97.25" y2="442.52" stroke="#333" stroke-width="0.6" />
<rect x="109.00" y="478.09" width="13.50" height="6.71" fill="#FFC000" />
<line x1="115.75" y1="478.09" x2="115.75" y2="477.27" stroke="#333" stroke-width="0.6" />
<line x1="113.95" y1="477.27" x2="117.55" y2="477.27" stroke="#333" stroke-width="0.6" />
<text x="75.30" y="448.73" font-size="8.5" textLength="6.90" lengthAdjust="spacingAndGlyphs" text-anchor="middle" font-weight="bold" stroke="#000" stroke-width="0.1">**</text>
<text x="95.75" y="441.83" font-size="8.5" textLength="3.00" lengthAdjust="spacingAndGlyphs" text-anchor="middle" font-weight="bold" stroke="#000" stroke-width="0.1">*</text>
<text x="116.40" y="475.33" font-size="8.5" textLength="6.70" lengthAdjust="spacingAndGlyphs" text-anchor="middle" font-weight="bold" stroke="#000" stroke-width="0.1">**</text>
<text transform="translate(58.00,490.60) rotate(-55)" font-size="9.0" textLength="27.00" lengthAdjust="spacingAndGlyphs" text-anchor="end" stroke="#000" stroke-width="0.25">siNTC</text>
<text transform="translate(78.40,490.60) rotate(-55)" font-size="9.0" textLength="38.00" lengthAdjust="spacingAndGlyphs" text-anchor="end" stroke="#000" stroke-width="0.25">siEHMT1</text>
<text transform="translate(98.70,490.60) rotate(-55)" font-size="9.0" textLength="38.00" lengthAdjust="spacingAndGlyphs" text-anchor="end" stroke="#000" stroke-width="0.25">siEHMT2</text>
<text transform="translate(119.10,490.30) rotate(-55)" font-size="9.0" textLength="46.50" lengthAdjust="spacingAndGlyphs" text-anchor="end" stroke="#000" stroke-width="0.25">siEHMT1/2</text>
<text x="132.90" y="428.40" font-size="10.3" font-weight="bold" stroke="#000" stroke-width="0.25">J</text>
<text x="281.90" y="434.20" font-size="10.32" textLength="20.50" lengthAdjust="spacingAndGlyphs" stroke="#000" stroke-width="0.25">PC-3</text>
<rect x="151.20" y="438.30" width="69.80" height="52.50" fill="#030603" />
<path d="M218.8 461.2h2.0v2.0h-2.0zM216.0 440.6h2.0v2.0h-2.0zM176.2 487.9h1.6v1.6h-1.6zM199.4 471.7h1.4v1.4h-1.4zM175.1 487.8h2.2v2.2h-2.2zM175.3 465.5h1.8v1.8h-1.8zM173.0 477.0h2.2v2.2h-2.2zM152.8 453.7h1.4v1.4h-1.4zM155.0 455.2h2.2v2.2h-2.2zM168.2 443.9h1.8v1.8h-1.8zM213.6 465.4h2.0v2.0h-2.0zM165.2 441.3h1.4v1.4h-1.4zM213.4 478.4h2.0v2.0h-2.0zM205.0 467.1h1.4v1.4h-1.4zM161.8 457.5h1.4v1.4h-1.4zM218.5 464.0h1.8v1.8h-1.8zM154.4 442.8h2.2v2.2h-2.2zM219.2 482.5h1.6v1.6h-1.6zM176.6 460.2h1.6v1.6h-1.6zM204.5 445.3h1.8v1.8h-1.8zM217.2 472.9h1.6v1.6h-1.6zM163.8 445.0h2.2v2.2h-2.2zM152.4 461.3h1.8v1.8h-1.8zM216.6 464.8h1.4v1.4h-1.4zM202.6 457.2h1.8v1.8h-1.8zM165.2 442.1h1.8v1.8h-1.8zM207.7 443.3h1.4v1.4h-1.4zM175.4 475.2h1.6v1.6h-1.6zM176.1 453.0h1.8v1.8h-1.8zM156.7 472.3h1.6v1.6h-1.6zM178.3 477.3h2.2v2.2h-2.2zM173.9 448.2h2.2v2.2h-2.2zM162.3 445.7h2.2v2.2h-2.2zM205.5 444.4h1.8v1.8h-1.8zM160.8 445.8h2.2v2.2h-2.2zM175.5 448.4h1.8v1.8h-1.8zM153.8 441.4h1.8v1.8h-1.8zM208.1 484.1h1.6v1.6h-1.6zM218.2 467.2h2.0v2.0h-2.0zM193.5 489.2h1.4v1.4h-1.4zM178.8 481.8h2.2v2.2h-2.2zM218.8 441.8h2.0v2.0h-2.0zM206.4 487.2h2.2v2.2h-2.2zM165.8 457.7h1.6v1.6h-1.6zM177.2 446.8h1.6v1.6h-1.6zM199.8 479.6h1.8v1.8h-1.8zM218.9 463.2h1.4v1.4h-1.4zM157.9 459.8h1.4v1.4h-1.4zM204.8 441.3h1.4v1.4h-1.4zM157.8 488.4h2.2v2.2h-2.2zM215.1 445.0h2.2v2.2h-2.2zM191.1 470.2h2.2v2.2h-2.2zM175.9 448.9h1.6v1.6h-1.6zM182.0 488.4h2.2v2.2h-2.2zM212.2 440.8h2.2v2.2h-2.2zM201.0 444.5h1.4v1.4h-1.4zM176.8 443.8h1.6v1.6h-1.6zM152.0 446.9h2.2v2.2h-2.2zM170.8 450.5h1.6v1.6h-1.6zM175.7 445.6h2.0v2.0h-2.0zM205.3 472.0h2.2v2.2h-2.2zM158.0 471.1h1.8v1.8h-1.8zM169.2 457.6h2.0v2.0h-2.0zM178.0 472.4h1.8v1.8h-1.8zM171.3 452.1h1.6v1.6h-1.6zM200.0 477.4h1.4v1.4h-1.4zM153.5 457.2h1.6v1.6h-1.6zM187.5 438.9h2.0v2.0h-2.0zM180.7 448.0h1.6v1.6h-1.6zM217.7 463.0h2.2v2.2h-2.2zM151.7 443.3h1.8v1.8h-1.8zM176.2 449.8h2.0v2.0h-2.0zM215.0 465.7h1.4v1.4h-1.4zM205.5 438.5h1.8v1.8h-1.8zM153.6 455.7h1.4v1.4h-1.4zM185.4 459.0h1.4v1.4h-1.4zM173.3 462.7h1.6v1.6h-1.6zM155.8 442.5h1.8v1.8h-1.8zM219.4 486.4h1.4v1.4h-1.4zM171.4 448.1h2.0v2.0h-2.0zM198.5 480.4h2.0v2.0h-2.0zM178.8 440.9h1.8v1.8h-1.8zM189.5 444.2h1.4v1.4h-1.4zM206.1 476.5h1.4v1.4h-1.4zM206.2 477.9h1.6v1.6h-1.6zM184.2 439.9h2.0v2.0h-2.0zM165.2 475.2h2.0v2.0h-2.0zM202.7 484.7h2.2v2.2h-2.2zM162.8 469.1h1.6v1.6h-1.6zM153.4 441.2h2.2v2.2h-2.2zM182.8 469.2h2.0v2.0h-2.0zM217.2 444.5h2.0v2.0h-2.0zM212.9 481.1h2.0v2.0h-2.0zM167.5 439.6h1.8v1.8h-1.8zM214.3 483.9h2.2v2.2h-2.2zM210.3 440.4h2.0v2.0h-2.0zM154.9 442.1h1.8v1.8h-1.8zM156.7 460.2h2.2v2.2h-2.2zM212.0 480.4h1.8v1.8h-1.8zM158.0 479.5h1.6v1.6h-1.6zM211.3 477.0h1.8v1.8h-1.8zM212.7 479.6h1.8v1.8h-1.8zM176.6 488.2h1.8v1.8h-1.8zM165.3 443.4h1.6v1.6h-1.6zM162.3 439.9h2.2v2.2h-2.2zM213.3 479.4h1.8v1.8h-1.8zM161.8 458.8h2.2v2.2h-2.2zM193.7 466.8h1.6v1.6h-1.6zM215.1 439.2h1.4v1.4h-1.4zM214.8 461.9h2.0v2.0h-2.0zM215.7 466.0h2.2v2.2h-2.2zM217.5 463.8h2.2v2.2h-2.2zM175.4 446.6h2.2v2.2h-2.2zM164.8 457.6h1.8v1.8h-1.8zM155.5 473.3h1.4v1.4h-1.4zM201.2 438.8h2.2v2.2h-2.2z" fill="#1A6A1A" fill-opacity="0.7"/>
<path d="M193.3 460.4h1.4v1.4h-1.4zM161.3 450.8h2.0v2.0h-2.0zM193.8 482.1h2.2v2.2h-2.2zM206.5 455.4h2.0v2.0h-2.0zM213.8 480.6h1.6v1.6h-1.6zM165.4 439.2h1.8v1.8h-1.8zM188.9 472.5h1.8v1.8h-1.8zM218.8 488.6h2.0v2.0h-2.0zM197.1 474.6h2.2v2.2h-2.2zM192.4 486.8h2.0v2.0h-2.0zM200.1 488.8h1.4v1.4h-1.4zM191.0 480.4h1.8v1.8h-1.8zM198.1 481.4h1.4v1.4h-1.4zM202.6 475.2h1.8v1.8h-1.8zM209.8 472.2h2.0v2.0h-2.0zM153.3 464.5h1.4v1.4h-1.4zM217.8 483.1h1.4v1.4h-1.4zM218.8 481.8h2.0v2.0h-2.0zM178.3 476.9h2.2v2.2h-2.2zM206.1 451.5h2.2v2.2h-2.2zM159.8 460.7h1.4v1.4h-1.4zM164.5 449.9h1.4v1.4h-1.4zM196.1 469.0h1.6v1.6h-1.6zM175.1 487.1h2.0v2.0h-2.0zM174.0 473.3h1.6v1.6h-1.6zM219.2 458.3h1.6v1.6h-1.6zM161.9 471.2h1.6v1.6h-1.6zM164.6 445.9h1.4v1.4h-1.4zM170.5 447.2h2.0v2.0h-2.0zM154.5 460.4h2.2v2.2h-2.2zM172.2 445.5h2.2v2.2h-2.2zM196.2 478.1h2.2v2.2h-2.2zM165.6 454.2h2.2v2.2h-2.2zM218.4 488.8h1.8v1.8h-1.8zM199.0 463.5h1.4v1.4h-1.4zM215.3 479.7h1.8v1.8h-1.8zM199.0 448.8h2.0v2.0h-2.0zM169.0 452.1h1.4v1.4h-1.4zM183.7 449.7h2.2v2.2h-2.2zM160.2 473.1h1.6v1.6h-1.6zM164.7 486.8h2.0v2.0h-2.0zM204.9 486.3h2.2v2.2h-2.2zM186.3 481.3h1.8v1.8h-1.8zM173.6 484.6h1.4v1.4h-1.4zM164.1 488.8h1.8v1.8h-1.8zM179.0 461.3h1.4v1.4h-1.4zM160.1 454.8h2.0v2.0h-2.0zM185.2 439.8h1.4v1.4h-1.4zM187.7 471.2h1.6v1.6h-1.6zM160.8 439.6h2.0v2.0h-2.0zM185.6 488.1h1.4v1.4h-1.4zM181.9 467.6h2.2v2.2h-2.2zM152.6 440.9h1.8v1.8h-1.8zM218.6 481.3h2.2v2.2h-2.2zM216.7 483.8h1.8v1.8h-1.8zM163.4 451.7h1.4v1.4h-1.4zM215.0 462.6h2.0v2.0h-2.0zM165.3 477.5h1.6v1.6h-1.6zM201.2 449.1h2.0v2.0h-2.0zM154.9 455.9h2.0v2.0h-2.0zM158.8 484.2h1.8v1.8h-1.8zM168.9 469.8h1.6v1.6h-1.6zM209.9 476.1h1.6v1.6h-1.6zM154.1 480.8h2.2v2.2h-2.2zM167.1 454.9h2.0v2.0h-2.0zM216.2 482.1h1.6v1.6h-1.6zM166.1 445.5h2.2v2.2h-2.2zM202.9 444.3h1.6v1.6h-1.6zM195.0 456.5h1.6v1.6h-1.6zM174.5 449.3h1.6v1.6h-1.6zM160.5 450.9h1.4v1.4h-1.4zM151.9 483.3h2.2v2.2h-2.2zM160.0 459.4h1.4v1.4h-1.4zM162.2 471.5h1.8v1.8h-1.8zM157.9 449.4h1.6v1.6h-1.6zM184.8 439.6h2.2v2.2h-2.2zM163.6 487.6h1.6v1.6h-1.6zM192.3 438.5h1.4v1.4h-1.4zM219.4 488.1h1.4v1.4h-1.4zM203.4 453.5h1.6v1.6h-1.6zM182.3 467.1h1.6v1.6h-1.6zM204.0 454.4h1.6v1.6h-1.6zM157.1 480.8h1.4v1.4h-1.4zM200.4 483.5h2.0v2.0h-2.0zM157.1 450.8h1.8v1.8h-1.8zM199.4 438.5h2.0v2.0h-2.0zM174.3 439.2h2.0v2.0h-2.0zM179.5 476.2h1.4v1.4h-1.4zM172.3 443.6h1.8v1.8h-1.8zM214.2 440.9h1.8v1.8h-1.8zM197.7 456.0h2.0v2.0h-2.0zM209.6 449.1h2.0v2.0h-2.0zM160.1 488.4h2.2v2.2h-2.2zM167.5 453.7h2.0v2.0h-2.0zM164.4 461.4h1.4v1.4h-1.4zM185.7 475.4h2.2v2.2h-2.2zM151.4 438.5h2.0v2.0h-2.0zM156.5 469.7h1.4v1.4h-1.4zM157.0 443.6h2.0v2.0h-2.0zM165.2 462.6h2.0v2.0h-2.0zM151.4 447.9h1.8v1.8h-1.8zM181.2 452.1h1.8v1.8h-1.8zM168.2 470.6h1.6v1.6h-1.6zM206.6 475.5h2.0v2.0h-2.0zM206.1 455.2h1.6v1.6h-1.6zM157.3 460.1h1.4v1.4h-1.4zM217.6 460.8h1.6v1.6h-1.6zM202.2 441.3h1.4v1.4h-1.4zM163.2 466.4h1.8v1.8h-1.8zM162.9 460.8h2.2v2.2h-2.2zM176.6 477.4h1.6v1.6h-1.6zM202.5 450.8h1.4v1.4h-1.4zM210.6 471.9h1.8v1.8h-1.8zM164.7 449.4h2.2v2.2h-2.2zM183.2 451.2h1.6v1.6h-1.6zM177.0 482.1h1.4v1.4h-1.4zM182.4 470.4h2.2v2.2h-2.2zM181.0 482.3h1.4v1.4h-1.4zM162.4 450.6h1.8v1.8h-1.8zM205.3 461.6h1.6v1.6h-1.6zM156.4 444.6h2.2v2.2h-2.2zM204.9 461.6h1.8v1.8h-1.8zM194.3 473.4h2.2v2.2h-2.2zM190.5 456.9h1.6v1.6h-1.6zM207.8 457.2h1.8v1.8h-1.8zM154.7 455.6h2.0v2.0h-2.0zM170.4 470.0h2.2v2.2h-2.2zM205.4 475.6h1.8v1.8h-1.8zM197.6 474.3h1.8v1.8h-1.8zM198.4 443.0h2.2v2.2h-2.2zM216.8 486.3h2.0v2.0h-2.0zM208.1 475.9h2.2v2.2h-2.2zM210.6 458.1h2.0v2.0h-2.0zM178.3 465.2h2.0v2.0h-2.0zM162.6 445.5h1.4v1.4h-1.4zM212.7 453.1h1.4v1.4h-1.4zM160.9 464.3h1.4v1.4h-1.4zM207.3 441.7h2.2v2.2h-2.2zM207.8 448.2h1.4v1.4h-1.4zM157.1 471.6h1.6v1.6h-1.6zM190.1 482.2h1.6v1.6h-1.6zM156.7 443.9h1.8v1.8h-1.8zM170.0 439.3h2.2v2.2h-2.2zM156.3 470.8h1.4v1.4h-1.4zM193.7 483.6h1.4v1.4h-1.4zM209.4 485.0h2.2v2.2h-2.2zM158.0 441.7h1.4v1.4h-1.4zM216.4 462.0h1.6v1.6h-1.6zM177.4 447.1h1.6v1.6h-1.6zM156.5 448.1h1.4v1.4h-1.4zM208.0 458.1h1.6v1.6h-1.6zM203.8 439.2h2.0v2.0h-2.0zM153.7 444.0h1.6v1.6h-1.6zM160.7 476.2h2.2v2.2h-2.2zM157.1 473.3h1.6v1.6h-1.6zM216.6 471.2h2.2v2.2h-2.2zM183.5 473.3h1.8v1.8h-1.8zM205.1 443.2h1.6v1.6h-1.6zM157.7 461.1h2.0v2.0h-2.0zM206.7 478.9h1.4v1.4h-1.4zM167.8 438.9h2.0v2.0h-2.0zM182.6 451.2h2.0v2.0h-2.0zM158.3 441.3h1.6v1.6h-1.6zM169.1 447.0h2.2v2.2h-2.2zM210.0 448.7h1.6v1.6h-1.6zM192.6 483.1h1.6v1.6h-1.6zM180.7 450.8h2.0v2.0h-2.0zM157.0 477.6h2.2v2.2h-2.2zM172.4 479.7h2.0v2.0h-2.0zM214.9 474.6h1.6v1.6h-1.6zM213.2 462.7h1.8v1.8h-1.8zM153.2 450.3h2.0v2.0h-2.0zM155.9 442.2h1.6v1.6h-1.6zM151.4 445.5h1.4v1.4h-1.4zM152.1 458.1h2.0v2.0h-2.0zM167.9 479.6h1.6v1.6h-1.6zM161.8 471.3h2.2v2.2h-2.2zM217.8 477.9h2.2v2.2h-2.2zM169.1 448.8h1.4v1.4h-1.4zM179.3 451.3h1.8v1.8h-1.8zM219.3 483.6h1.4v1.4h-1.4zM218.5 478.9h2.0v2.0h-2.0zM204.6 451.8h1.6v1.6h-1.6zM195.5 442.3h1.8v1.8h-1.8zM181.0 465.2h1.6v1.6h-1.6zM208.5 458.6h1.8v1.8h-1.8zM194.7 476.5h2.2v2.2h-2.2zM218.6 479.8h2.2v2.2h-2.2zM184.9 475.2h2.0v2.0h-2.0zM218.7 485.0h1.8v1.8h-1.8zM193.9 446.6h2.2v2.2h-2.2zM189.5 456.8h2.2v2.2h-2.2zM162.8 469.3h2.2v2.2h-2.2zM200.5 487.4h2.2v2.2h-2.2zM195.0 448.7h1.4v1.4h-1.4zM153.7 453.9h1.8v1.8h-1.8zM166.8 450.5h1.4v1.4h-1.4zM208.8 459.8h2.2v2.2h-2.2zM193.3 479.2h1.8v1.8h-1.8zM199.8 440.4h1.8v1.8h-1.8zM163.5 477.9h2.2v2.2h-2.2zM192.6 480.7h1.6v1.6h-1.6zM169.2 454.4h2.2v2.2h-2.2zM218.3 462.2h2.0v2.0h-2.0zM195.6 470.4h2.0v2.0h-2.0zM159.6 442.9h1.8v1.8h-1.8zM180.9 463.0h1.6v1.6h-1.6zM216.1 476.4h2.0v2.0h-2.0zM214.9 468.0h2.0v2.0h-2.0zM185.1 488.6h2.0v2.0h-2.0zM159.4 444.3h2.2v2.2h-2.2zM153.1 443.8h1.8v1.8h-1.8zM171.9 470.7h2.0v2.0h-2.0zM192.9 477.8h1.8v1.8h-1.8zM212.4 451.1h2.0v2.0h-2.0zM167.9 448.8h1.4v1.4h-1.4zM183.8 470.9h1.6v1.6h-1.6zM219.0 476.7h1.8v1.8h-1.8zM180.6 480.6h1.6v1.6h-1.6zM209.6 460.7h1.4v1.4h-1.4zM218.8 488.6h2.0v2.0h-2.0zM187.4 471.3h1.6v1.6h-1.6zM161.9 489.0h1.6v1.6h-1.6zM160.6 474.3h2.0v2.0h-2.0zM172.7 464.5h2.0v2.0h-2.0zM165.3 483.4h1.4v1.4h-1.4zM167.5 442.1h1.4v1.4h-1.4zM201.7 484.5h2.2v2.2h-2.2zM171.2 448.8h1.4v1.4h-1.4zM189.2 488.6h2.0v2.0h-2.0zM160.6 474.8h2.0v2.0h-2.0zM162.6 441.3h1.6v1.6h-1.6zM205.5 459.4h1.8v1.8h-1.8zM164.6 458.8h2.2v2.2h-2.2zM211.1 474.5h1.6v1.6h-1.6zM217.5 478.0h1.4v1.4h-1.4zM163.3 444.0h1.4v1.4h-1.4zM218.2 488.4h2.2v2.2h-2.2zM219.2 489.0h1.6v1.6h-1.6zM194.8 462.6h1.6v1.6h-1.6zM153.5 462.5h2.2v2.2h-2.2zM163.3 488.2h2.2v2.2h-2.2zM214.7 455.1h2.0v2.0h-2.0zM187.3 464.8h2.2v2.2h-2.2zM188.3 469.5h1.6v1.6h-1.6zM219.0 462.0h1.8v1.8h-1.8zM206.4 450.7h2.0v2.0h-2.0zM211.9 479.8h1.4v1.4h-1.4zM168.8 452.8h1.6v1.6h-1.6zM162.4 460.7h2.0v2.0h-2.0zM204.8 460.2h1.4v1.4h-1.4zM185.1 440.1h1.6v1.6h-1.6zM163.8 465.9h1.8v1.8h-1.8zM202.7 479.3h2.2v2.2h-2.2zM173.1 483.3h1.8v1.8h-1.8zM216.7 473.5h2.0v2.0h-2.0zM210.8 463.8h1.4v1.4h-1.4zM158.0 461.3h1.6v1.6h-1.6zM187.6 489.2h1.4v1.4h-1.4zM201.7 487.5h2.2v2.2h-2.2zM218.6 456.4h2.2v2.2h-2.2zM189.8 476.6h2.0v2.0h-2.0zM180.4 484.3h2.2v2.2h-2.2zM159.1 441.2h1.4v1.4h-1.4zM190.8 486.2h2.2v2.2h-2.2zM163.6 483.4h1.6v1.6h-1.6zM179.7 462.9h1.6v1.6h-1.6zM191.2 459.0h2.0v2.0h-2.0zM205.7 449.5h2.0v2.0h-2.0zM198.6 483.6h1.6v1.6h-1.6zM218.3 464.7h1.8v1.8h-1.8zM194.5 465.5h1.8v1.8h-1.8zM168.2 474.8h1.8v1.8h-1.8zM167.6 470.2h1.8v1.8h-1.8zM186.5 466.3h1.4v1.4h-1.4zM209.7 461.9h2.0v2.0h-2.0zM171.0 467.2h1.8v1.8h-1.8zM185.8 472.0h2.2v2.2h-2.2zM187.3 471.7h2.0v2.0h-2.0zM216.5 488.6h1.8v1.8h-1.8zM197.7 446.0h1.6v1.6h-1.6zM188.5 461.9h1.6v1.6h-1.6zM167.9 449.2h1.8v1.8h-1.8zM156.5 466.6h2.0v2.0h-2.0zM218.5 459.4h1.4v1.4h-1.4zM166.3 474.5h1.4v1.4h-1.4zM211.8 450.6h1.8v1.8h-1.8zM218.8 461.2h2.0v2.0h-2.0zM170.5 445.9h1.6v1.6h-1.6zM152.6 453.6h1.8v1.8h-1.8zM167.9 443.2h1.8v1.8h-1.8zM207.3 463.4h1.8v1.8h-1.8zM189.8 475.1h1.4v1.4h-1.4zM159.6 486.1h2.0v2.0h-2.0zM214.6 482.9h2.0v2.0h-2.0zM213.0 442.1h1.4v1.4h-1.4zM163.4 489.0h1.6v1.6h-1.6zM213.2 478.5h1.8v1.8h-1.8zM170.3 450.3h1.4v1.4h-1.4zM214.0 462.4h1.4v1.4h-1.4zM212.6 458.3h2.0v2.0h-2.0zM218.8 487.1h2.0v2.0h-2.0zM216.7 464.1h1.6v1.6h-1.6zM182.0 482.6h2.2v2.2h-2.2zM151.4 467.0h2.2v2.2h-2.2zM186.8 482.0h1.8v1.8h-1.8zM159.2 479.3h1.6v1.6h-1.6zM199.1 488.9h1.6v1.6h-1.6zM164.3 448.1h1.8v1.8h-1.8zM218.2 488.6h2.0v2.0h-2.0zM184.8 475.0h2.2v2.2h-2.2zM212.4 489.2h1.4v1.4h-1.4zM172.9 482.9h2.2v2.2h-2.2zM184.8 446.8h2.0v2.0h-2.0zM154.9 451.6h2.2v2.2h-2.2zM199.6 451.6h1.8v1.8h-1.8zM209.7 474.1h1.6v1.6h-1.6zM209.0 468.1h2.0v2.0h-2.0zM216.2 485.5h1.6v1.6h-1.6zM216.5 481.3h1.6v1.6h-1.6zM184.1 474.7h1.6v1.6h-1.6zM179.9 454.7h2.0v2.0h-2.0zM211.7 471.9h1.4v1.4h-1.4zM164.7 457.0h2.2v2.2h-2.2zM159.6 455.6h1.4v1.4h-1.4zM210.9 447.3h1.4v1.4h-1.4zM219.2 460.9h1.6v1.6h-1.6zM164.9 453.2h2.2v2.2h-2.2zM158.6 489.0h1.6v1.6h-1.6zM168.7 450.2h1.8v1.8h-1.8zM181.4 446.3h1.4v1.4h-1.4zM166.8 479.6h1.8v1.8h-1.8zM155.3 454.5h1.8v1.8h-1.8zM201.9 472.8h1.8v1.8h-1.8zM151.5 456.0h1.6v1.6h-1.6zM165.3 483.8h2.0v2.0h-2.0zM205.6 456.9h1.4v1.4h-1.4zM164.1 449.4h1.8v1.8h-1.8zM218.8 484.3h2.0v2.0h-2.0zM210.0 457.1h1.6v1.6h-1.6zM213.0 473.1h2.2v2.2h-2.2zM154.1 452.4h1.4v1.4h-1.4zM152.0 466.0h1.6v1.6h-1.6zM202.5 459.3h2.2v2.2h-2.2zM204.8 489.2h1.4v1.4h-1.4zM184.8 482.4h2.0v2.0h-2.0zM169.4 453.0h1.6v1.6h-1.6zM202.5 458.4h1.8v1.8h-1.8zM155.0 473.0h1.8v1.8h-1.8zM183.9 476.8h1.6v1.6h-1.6z" fill="#22D022" filter="url(#b3)"/>
<line x1="191.00" y1="484.60" x2="215.00" y2="484.60" stroke="#8a8a8a" stroke-width="0.8" />
<text x="187.15" y="500.80" font-size="9.59" textLength="26.90" lengthAdjust="spacingAndGlyphs" text-anchor="middle" stroke="#000" stroke-width="0.25">siNTC</text>
<rect x="224.30" y="438.30" width="69.80" height="52.50" fill="#030603" />
<path d="M242.4 471.8h1.8v1.8h-1.8zM239.7 470.7h1.4v1.4h-1.4zM283.8 450.2h2.0v2.0h-2.0zM268.8 441.7h1.6v1.6h-1.6zM236.7 462.6h2.0v2.0h-2.0zM253.7 455.0h2.0v2.0h-2.0zM287.5 457.9h1.6v1.6h-1.6zM284.9 440.5h2.0v2.0h-2.0zM262.4 448.5h1.8v1.8h-1.8zM228.4 443.5h1.4v1.4h-1.4zM229.2 476.1h1.8v1.8h-1.8zM228.3 472.3h2.0v2.0h-2.0zM282.0 450.2h1.6v1.6h-1.6zM246.5 470.6h1.8v1.8h-1.8zM250.3 472.4h1.8v1.8h-1.8zM263.0 468.9h1.4v1.4h-1.4zM292.1 453.4h1.8v1.8h-1.8zM291.6 461.5h1.8v1.8h-1.8zM244.1 475.1h2.2v2.2h-2.2zM283.7 440.8h1.8v1.8h-1.8zM279.8 439.7h2.0v2.0h-2.0zM272.1 487.1h2.0v2.0h-2.0zM229.9 444.5h2.0v2.0h-2.0zM240.0 469.5h1.4v1.4h-1.4zM241.1 469.1h1.8v1.8h-1.8zM242.4 464.2h1.6v1.6h-1.6zM243.8 469.4h1.4v1.4h-1.4zM243.8 471.1h2.2v2.2h-2.2zM243.9 440.9h1.6v1.6h-1.6zM241.2 464.1h1.8v1.8h-1.8zM245.1 459.3h1.6v1.6h-1.6zM229.6 481.6h1.4v1.4h-1.4zM246.5 467.2h1.8v1.8h-1.8zM268.5 446.6h1.4v1.4h-1.4zM241.0 482.6h2.2v2.2h-2.2zM284.7 451.4h2.2v2.2h-2.2zM241.4 467.2h1.6v1.6h-1.6zM268.8 444.8h1.6v1.6h-1.6zM238.8 463.6h1.6v1.6h-1.6zM258.9 472.1h1.8v1.8h-1.8zM243.8 470.0h2.2v2.2h-2.2zM239.6 460.3h2.2v2.2h-2.2zM282.2 479.9h2.0v2.0h-2.0zM273.9 458.7h1.4v1.4h-1.4zM266.8 461.8h1.8v1.8h-1.8zM271.5 482.6h2.0v2.0h-2.0zM227.4 458.5h2.2v2.2h-2.2zM245.1 467.3h2.0v2.0h-2.0zM246.3 467.9h1.4v1.4h-1.4zM291.8 464.0h1.8v1.8h-1.8zM290.1 480.3h2.0v2.0h-2.0zM245.6 463.5h1.6v1.6h-1.6zM269.7 461.1h2.0v2.0h-2.0zM282.7 439.2h2.0v2.0h-2.0zM268.7 463.9h2.0v2.0h-2.0zM239.4 472.9h2.2v2.2h-2.2zM270.5 460.0h2.2v2.2h-2.2zM259.5 447.7h2.2v2.2h-2.2zM265.2 458.5h1.4v1.4h-1.4zM269.4 463.1h1.8v1.8h-1.8zM235.3 466.1h2.0v2.0h-2.0z" fill="#1A6A1A" fill-opacity="0.7"/>
<path d="M260.7 456.8h1.6v1.6h-1.6zM253.2 448.8h1.6v1.6h-1.6zM288.1 460.6h1.6v1.6h-1.6zM250.5 443.9h2.2v2.2h-2.2zM289.2 451.3h1.4v1.4h-1.4zM234.7 465.0h1.4v1.4h-1.4zM262.0 442.4h2.2v2.2h-2.2zM229.5 488.6h1.6v1.6h-1.6zM286.1 446.9h2.0v2.0h-2.0zM253.6 473.5h1.6v1.6h-1.6zM240.9 464.5h2.2v2.2h-2.2zM277.5 445.6h1.4v1.4h-1.4zM271.0 443.5h1.6v1.6h-1.6zM228.0 489.0h1.6v1.6h-1.6zM248.2 487.2h1.6v1.6h-1.6zM246.6 440.5h1.6v1.6h-1.6zM237.7 475.1h2.0v2.0h-2.0zM272.6 444.1h1.4v1.4h-1.4zM274.9 473.8h1.4v1.4h-1.4zM236.0 473.7h2.2v2.2h-2.2zM227.5 455.6h1.8v1.8h-1.8zM230.0 450.0h1.4v1.4h-1.4zM291.7 487.3h2.2v2.2h-2.2zM234.1 465.8h2.0v2.0h-2.0zM291.7 462.4h2.2v2.2h-2.2zM258.4 440.3h1.6v1.6h-1.6zM291.7 439.6h2.2v2.2h-2.2zM271.6 443.6h2.0v2.0h-2.0zM239.1 439.3h1.6v1.6h-1.6zM286.3 454.3h1.4v1.4h-1.4zM265.6 467.2h1.8v1.8h-1.8zM241.6 488.6h1.8v1.8h-1.8zM235.6 468.0h2.2v2.2h-2.2zM263.7 481.5h1.8v1.8h-1.8zM224.5 457.9h2.2v2.2h-2.2zM285.9 446.8h2.2v2.2h-2.2zM227.3 459.3h1.8v1.8h-1.8zM228.6 456.2h1.8v1.8h-1.8zM288.7 484.3h2.0v2.0h-2.0zM286.9 450.2h2.0v2.0h-2.0zM270.6 459.3h2.0v2.0h-2.0zM252.4 445.8h1.8v1.8h-1.8zM288.3 455.4h1.4v1.4h-1.4zM292.5 469.0h1.4v1.4h-1.4zM239.9 457.2h1.6v1.6h-1.6zM259.5 460.7h2.2v2.2h-2.2zM269.8 470.6h1.8v1.8h-1.8zM234.9 470.0h1.6v1.6h-1.6zM285.8 474.5h1.6v1.6h-1.6zM280.0 475.7h1.8v1.8h-1.8zM236.6 481.1h1.8v1.8h-1.8zM227.4 480.8h2.2v2.2h-2.2zM257.2 472.1h2.0v2.0h-2.0zM269.3 441.7h1.6v1.6h-1.6zM241.2 451.0h1.6v1.6h-1.6zM250.6 481.1h2.2v2.2h-2.2zM271.0 441.8h2.0v2.0h-2.0zM279.1 484.2h2.2v2.2h-2.2zM285.1 452.6h2.0v2.0h-2.0zM227.0 484.7h2.0v2.0h-2.0zM240.3 472.6h1.4v1.4h-1.4zM260.3 454.9h1.8v1.8h-1.8zM226.2 452.3h1.4v1.4h-1.4zM228.2 457.9h2.2v2.2h-2.2zM267.5 488.8h1.4v1.4h-1.4zM288.7 459.6h1.4v1.4h-1.4zM239.4 458.1h2.2v2.2h-2.2zM228.6 486.6h2.0v2.0h-2.0zM269.3 476.0h1.8v1.8h-1.8zM237.9 456.8h2.0v2.0h-2.0zM279.4 486.4h1.4v1.4h-1.4zM264.1 480.5h2.2v2.2h-2.2zM288.8 464.6h1.8v1.8h-1.8zM270.0 480.0h1.6v1.6h-1.6zM270.5 441.7h1.8v1.8h-1.8zM265.1 487.4h1.8v1.8h-1.8zM269.5 475.4h2.0v2.0h-2.0zM290.5 484.0h1.8v1.8h-1.8zM228.2 442.0h1.8v1.8h-1.8zM244.0 488.6h2.0v2.0h-2.0zM239.3 456.4h1.6v1.6h-1.6zM267.3 440.7h2.2v2.2h-2.2zM269.3 441.7h2.0v2.0h-2.0zM253.7 476.4h1.6v1.6h-1.6zM283.8 463.8h2.2v2.2h-2.2zM288.9 471.8h1.8v1.8h-1.8zM289.1 439.4h2.2v2.2h-2.2zM255.3 478.8h1.4v1.4h-1.4zM273.7 461.8h1.8v1.8h-1.8zM238.6 461.1h1.6v1.6h-1.6zM269.3 477.5h1.4v1.4h-1.4zM284.7 452.6h2.0v2.0h-2.0zM259.5 480.3h2.0v2.0h-2.0zM229.5 450.2h1.6v1.6h-1.6zM290.6 472.7h2.0v2.0h-2.0zM252.2 449.5h1.4v1.4h-1.4zM268.9 446.1h1.4v1.4h-1.4zM248.3 460.7h1.4v1.4h-1.4zM288.5 441.3h1.6v1.6h-1.6zM254.6 464.5h1.4v1.4h-1.4zM282.7 458.8h2.2v2.2h-2.2zM274.0 456.1h1.8v1.8h-1.8zM286.9 455.7h2.0v2.0h-2.0zM265.1 464.7h1.8v1.8h-1.8zM259.8 439.4h2.2v2.2h-2.2zM284.3 460.1h2.0v2.0h-2.0zM244.5 480.6h2.0v2.0h-2.0zM231.1 440.8h2.0v2.0h-2.0zM288.0 465.6h1.8v1.8h-1.8zM273.7 443.8h1.6v1.6h-1.6zM282.1 458.3h1.8v1.8h-1.8zM231.4 453.8h1.8v1.8h-1.8zM255.5 481.8h2.2v2.2h-2.2zM243.4 475.6h1.4v1.4h-1.4zM242.8 464.0h2.2v2.2h-2.2zM239.9 459.0h2.2v2.2h-2.2zM273.1 456.0h1.6v1.6h-1.6zM273.2 439.8h2.2v2.2h-2.2zM238.0 478.5h1.6v1.6h-1.6zM238.8 472.1h1.8v1.8h-1.8zM286.2 447.5h1.6v1.6h-1.6zM271.6 447.3h1.8v1.8h-1.8zM286.3 451.7h1.6v1.6h-1.6zM272.3 446.9h1.4v1.4h-1.4zM276.3 478.5h2.2v2.2h-2.2zM226.0 455.3h2.2v2.2h-2.2zM282.8 451.9h1.4v1.4h-1.4zM253.4 486.0h2.2v2.2h-2.2zM288.5 452.1h1.8v1.8h-1.8zM249.4 488.8h1.8v1.8h-1.8zM262.2 463.4h1.8v1.8h-1.8zM283.9 449.7h1.8v1.8h-1.8zM239.4 472.3h2.2v2.2h-2.2zM238.6 483.4h2.2v2.2h-2.2zM255.3 476.0h1.6v1.6h-1.6zM252.8 481.5h2.0v2.0h-2.0zM240.0 486.2h1.6v1.6h-1.6zM239.4 453.2h1.4v1.4h-1.4zM237.1 452.3h2.2v2.2h-2.2zM272.6 477.4h2.0v2.0h-2.0zM231.1 476.9h1.6v1.6h-1.6zM284.7 442.5h2.0v2.0h-2.0zM241.7 453.1h1.8v1.8h-1.8zM229.6 489.2h1.4v1.4h-1.4zM280.0 475.8h1.4v1.4h-1.4zM283.0 452.7h2.2v2.2h-2.2zM284.7 481.1h1.6v1.6h-1.6zM239.4 461.8h2.2v2.2h-2.2zM291.7 486.7h2.2v2.2h-2.2zM286.0 438.5h2.2v2.2h-2.2zM249.6 488.4h2.2v2.2h-2.2zM253.9 447.7h1.6v1.6h-1.6zM228.3 440.1h1.6v1.6h-1.6zM268.6 477.2h2.0v2.0h-2.0zM236.7 461.5h1.6v1.6h-1.6zM284.3 480.5h1.4v1.4h-1.4zM245.5 484.4h1.8v1.8h-1.8zM254.4 448.9h1.4v1.4h-1.4zM286.9 453.5h1.4v1.4h-1.4zM236.9 472.3h1.4v1.4h-1.4zM271.0 471.3h2.0v2.0h-2.0zM246.6 438.7h2.0v2.0h-2.0zM255.6 481.4h1.4v1.4h-1.4zM243.7 489.0h1.6v1.6h-1.6zM269.2 470.2h1.6v1.6h-1.6zM285.0 451.8h1.6v1.6h-1.6zM286.8 453.9h1.4v1.4h-1.4zM249.2 481.0h2.2v2.2h-2.2zM238.1 470.6h1.4v1.4h-1.4zM273.7 471.7h1.4v1.4h-1.4zM241.2 472.3h1.6v1.6h-1.6zM273.3 444.6h1.4v1.4h-1.4zM286.6 444.6h1.4v1.4h-1.4zM271.8 469.2h1.6v1.6h-1.6zM279.6 459.8h2.0v2.0h-2.0zM236.4 478.8h1.8v1.8h-1.8zM249.9 489.2h1.4v1.4h-1.4zM237.2 457.7h2.2v2.2h-2.2zM239.0 471.9h1.8v1.8h-1.8zM231.8 472.6h1.8v1.8h-1.8zM239.9 461.4h1.4v1.4h-1.4zM288.8 448.0h2.0v2.0h-2.0zM248.2 451.5h2.2v2.2h-2.2zM276.0 483.8h1.8v1.8h-1.8zM242.7 468.6h2.2v2.2h-2.2z" fill="#22D022" filter="url(#b3)"/>
<line x1="264.10" y1="484.60" x2="288.10" y2="484.60" stroke="#8a8a8a" stroke-width="0.8" />
<text x="259.65" y="500.80" font-size="9.59" textLength="36.90" lengthAdjust="spacingAndGlyphs" text-anchor="middle" stroke="#000" stroke-width="0.25">siEHMT1</text>
<rect x="296.70" y="438.30" width="69.30" height="52.50" fill="#030603" />
<path d="M360.7 477.7h2.2v2.2h-2.2zM306.5 453.8h1.6v1.6h-1.6zM327.1 470.9h1.4v1.4h-1.4zM299.9 488.1h1.6v1.6h-1.6zM335.0 452.9h1.4v1.4h-1.4zM322.1 468.9h1.4v1.4h-1.4zM356.6 478.9h2.2v2.2h-2.2zM310.9 456.6h1.6v1.6h-1.6zM312.2 448.8h2.0v2.0h-2.0zM312.2 488.4h2.2v2.2h-2.2zM325.6 440.9h1.4v1.4h-1.4zM357.5 478.9h1.6v1.6h-1.6zM357.3 480.1h1.4v1.4h-1.4zM359.7 483.0h2.2v2.2h-2.2zM325.5 488.5h1.4v1.4h-1.4zM334.3 451.4h2.2v2.2h-2.2zM302.9 456.0h2.2v2.2h-2.2zM330.4 446.8h2.0v2.0h-2.0zM309.7 464.2h1.6v1.6h-1.6zM336.5 452.6h2.0v2.0h-2.0zM331.7 453.8h1.8v1.8h-1.8zM357.9 486.8h1.8v1.8h-1.8zM314.4 455.3h2.2v2.2h-2.2zM329.3 450.0h1.8v1.8h-1.8zM321.5 467.9h1.6v1.6h-1.6zM355.8 462.3h2.0v2.0h-2.0zM362.3 444.7h2.2v2.2h-2.2zM330.6 447.3h1.6v1.6h-1.6zM320.6 469.8h1.4v1.4h-1.4zM339.0 483.8h2.2v2.2h-2.2zM353.6 486.4h2.2v2.2h-2.2zM310.2 453.2h1.6v1.6h-1.6zM324.8 465.7h2.2v2.2h-2.2z" fill="#1A6A1A" fill-opacity="0.7"/>
<path d="M358.6 474.1h1.4v1.4h-1.4zM301.6 444.3h2.0v2.0h-2.0zM305.9 443.5h1.6v1.6h-1.6zM351.2 451.8h2.0v2.0h-2.0zM311.2 444.6h1.6v1.6h-1.6zM356.1 476.9h1.6v1.6h-1.6zM303.0 453.2h2.2v2.2h-2.2zM327.0 462.3h2.0v2.0h-2.0zM351.7 464.8h1.8v1.8h-1.8zM345.1 446.4h2.2v2.2h-2.2zM325.9 484.4h2.0v2.0h-2.0zM312.3 456.7h1.4v1.4h-1.4zM326.3 488.8h1.4v1.4h-1.4zM310.5 458.0h1.8v1.8h-1.8zM310.3 472.9h1.4v1.4h-1.4zM309.6 460.7h1.8v1.8h-1.8zM317.7 475.0h1.8v1.8h-1.8zM301.1 453.9h1.8v1.8h-1.8zM361.7 447.3h1.8v1.8h-1.8zM310.0 470.0h2.0v2.0h-2.0zM327.3 469.5h2.2v2.2h-2.2zM303.4 458.0h2.0v2.0h-2.0zM349.6 475.8h1.4v1.4h-1.4zM311.1 454.2h1.6v1.6h-1.6zM358.0 472.2h1.8v1.8h-1.8zM301.9 458.0h1.4v1.4h-1.4zM319.8 471.6h2.2v2.2h-2.2zM304.0 454.3h1.6v1.6h-1.6zM316.0 470.3h1.4v1.4h-1.4zM347.8 447.5h2.0v2.0h-2.0zM321.6 474.1h1.8v1.8h-1.8zM347.0 481.0h2.2v2.2h-2.2zM354.7 465.4h1.4v1.4h-1.4zM354.0 466.5h2.2v2.2h-2.2zM300.1 463.2h2.0v2.0h-2.0zM363.8 477.9h2.0v2.0h-2.0zM305.0 453.3h1.8v1.8h-1.8zM314.6 453.5h1.8v1.8h-1.8zM325.1 462.5h1.4v1.4h-1.4zM356.5 479.1h1.8v1.8h-1.8zM312.6 456.0h2.0v2.0h-2.0zM328.6 483.6h2.2v2.2h-2.2zM343.1 475.0h1.4v1.4h-1.4zM359.6 481.8h1.6v1.6h-1.6zM310.4 486.2h2.0v2.0h-2.0zM321.7 484.0h1.4v1.4h-1.4zM311.0 445.3h1.4v1.4h-1.4zM303.6 444.5h1.4v1.4h-1.4zM314.9 443.7h1.8v1.8h-1.8zM346.4 463.1h1.8v1.8h-1.8zM332.0 452.5h2.2v2.2h-2.2zM325.6 462.7h1.8v1.8h-1.8zM311.4 450.2h1.4v1.4h-1.4zM360.8 482.5h1.8v1.8h-1.8zM358.1 474.4h1.4v1.4h-1.4zM354.4 469.9h1.4v1.4h-1.4zM364.2 461.8h1.6v1.6h-1.6zM344.8 457.6h1.4v1.4h-1.4zM322.9 475.9h2.0v2.0h-2.0zM306.2 447.9h2.2v2.2h-2.2zM307.5 489.0h1.6v1.6h-1.6zM306.2 488.4h2.2v2.2h-2.2zM343.6 439.4h2.2v2.2h-2.2zM302.0 454.3h1.8v1.8h-1.8zM322.5 485.1h2.2v2.2h-2.2zM343.0 470.1h1.4v1.4h-1.4zM353.0 488.6h2.0v2.0h-2.0zM338.4 469.9h1.6v1.6h-1.6zM339.1 457.4h1.4v1.4h-1.4zM320.4 458.8h2.2v2.2h-2.2zM359.9 462.3h2.0v2.0h-2.0zM340.6 475.5h2.2v2.2h-2.2zM326.0 487.1h1.8v1.8h-1.8zM323.7 479.3h1.4v1.4h-1.4zM341.1 474.0h2.2v2.2h-2.2zM310.3 466.2h1.6v1.6h-1.6zM300.4 457.8h1.8v1.8h-1.8zM339.5 468.0h2.0v2.0h-2.0zM308.2 454.5h2.2v2.2h-2.2zM303.8 455.0h1.6v1.6h-1.6zM331.7 474.6h2.2v2.2h-2.2zM325.0 478.8h1.6v1.6h-1.6zM323.7 464.0h2.0v2.0h-2.0zM353.6 477.9h1.4v1.4h-1.4zM301.2 456.6h2.2v2.2h-2.2zM358.3 486.7h1.8v1.8h-1.8zM321.5 469.8h1.4v1.4h-1.4zM349.0 487.6h2.2v2.2h-2.2zM353.4 485.6h2.0v2.0h-2.0zM331.0 461.9h1.8v1.8h-1.8zM356.0 475.6h1.4v1.4h-1.4zM362.7 476.9h2.2v2.2h-2.2zM342.8 467.3h1.8v1.8h-1.8zM310.2 457.8h1.4v1.4h-1.4zM353.7 471.1h2.2v2.2h-2.2zM319.9 473.4h2.2v2.2h-2.2zM313.5 456.0h1.6v1.6h-1.6zM352.9 477.9h2.0v2.0h-2.0zM337.3 478.0h1.8v1.8h-1.8zM303.4 445.4h1.4v1.4h-1.4z" fill="#22D022" filter="url(#b3)"/>
<line x1="336.00" y1="484.60" x2="360.00" y2="484.60" stroke="#8a8a8a" stroke-width="0.8" />
<text x="330.90" y="500.80" font-size="9.59" textLength="37.60" lengthAdjust="spacingAndGlyphs" text-anchor="middle" stroke="#000" stroke-width="0.25">siEHMT2</text>
<rect x="368.60" y="438.30" width="69.90" height="52.50" fill="#030603" />
<path d="M413.9 451.1h2.0v2.0h-2.0zM402.6 450.5h1.4v1.4h-1.4zM412.1 486.9h2.0v2.0h-2.0zM384.5 474.5h2.2v2.2h-2.2zM405.5 488.6h2.0v2.0h-2.0zM395.1 464.5h1.4v1.4h-1.4zM376.3 440.6h1.4v1.4h-1.4zM416.6 447.6h1.8v1.8h-1.8zM396.8 461.0h1.6v1.6h-1.6zM396.0 467.6h2.0v2.0h-2.0zM386.0 479.3h1.4v1.4h-1.4zM374.4 450.0h2.2v2.2h-2.2zM418.2 451.0h2.0v2.0h-2.0zM407.3 486.2h1.4v1.4h-1.4zM414.8 448.8h2.2v2.2h-2.2z" fill="#1A6A1A" fill-opacity="0.7"/>
<path d="M379.5 452.6h1.5v1.5h-1.5zM407.9 452.1h1.3v1.3h-1.3zM414.5 455.1h1.5v1.5h-1.5zM395.7 442.2h1.1v1.1h-1.1zM373.7 443.2h1.3v1.3h-1.3zM374.7 450.2h1.7v1.7h-1.7zM427.7 465.1h1.3v1.3h-1.3zM381.3 454.0h1.5v1.5h-1.5zM395.6 442.3h1.7v1.7h-1.7zM419.0 450.1h1.1v1.1h-1.1zM368.8 448.7h1.5v1.5h-1.5zM397.7 442.5h1.3v1.3h-1.3zM395.6 441.9h1.7v1.7h-1.7zM375.3 445.9h1.7v1.7h-1.7zM395.0 450.6h1.1v1.1h-1.1zM416.3 481.7h1.1v1.1h-1.1zM375.0 450.4h1.7v1.7h-1.7zM383.0 459.2h1.3v1.3h-1.3zM368.8 443.0h1.5v1.5h-1.5zM414.4 458.9h1.7v1.7h-1.7zM424.2 458.6h1.3v1.3h-1.3zM403.2 489.3h1.3v1.3h-1.3zM374.9 448.2h1.3v1.3h-1.3zM399.1 477.3h1.5v1.5h-1.5zM407.7 443.1h1.1v1.1h-1.1zM424.9 459.5h1.5v1.5h-1.5zM374.5 445.6h1.3v1.3h-1.3zM397.8 445.3h1.7v1.7h-1.7zM386.2 454.9h1.7v1.7h-1.7zM428.4 457.7h1.5v1.5h-1.5zM376.6 466.6h1.7v1.7h-1.7zM368.8 467.9h1.7v1.7h-1.7zM396.4 441.0h1.1v1.1h-1.1zM385.2 456.4h1.7v1.7h-1.7zM384.3 458.2h1.5v1.5h-1.5zM424.0 466.0h1.3v1.3h-1.3zM424.2 458.7h1.5v1.5h-1.5zM393.2 449.6h1.5v1.5h-1.5zM399.3 451.1h1.3v1.3h-1.3zM395.7 443.9h1.3v1.3h-1.3zM375.1 489.5h1.1v1.1h-1.1zM414.7 454.8h1.1v1.1h-1.1zM433.4 443.8h1.7v1.7h-1.7zM382.0 459.9h1.7v1.7h-1.7zM403.0 446.2h1.3v1.3h-1.3z" fill="#22D022" filter="url(#b3)"/>
<line x1="408.50" y1="484.60" x2="432.50" y2="484.60" stroke="#8a8a8a" stroke-width="0.8" />
<text x="401.05" y="500.80" font-size="9.59" textLength="48.30" lengthAdjust="spacingAndGlyphs" text-anchor="middle" stroke="#000" stroke-width="0.25">siEHMT1/2</text>
<text x="487.70" y="434.40" font-size="7.8" textLength="60.20" lengthAdjust="spacingAndGlyphs" text-anchor="middle" stroke="#000" stroke-width="0.15">Relative Migrated</text>
<text x="487.80" y="442.90" font-size="7.8" textLength="17.50" lengthAdjust="spacingAndGlyphs" text-anchor="middle" stroke="#000" stroke-width="0.15">Cells</text>
<line x1="459.60" y1="442.90" x2="459.60" y2="500.20" stroke="#777777" stroke-width="0.9" />
<line x1="459.60" y1="500.20" x2="514.40" y2="500.20" stroke="#777777" stroke-width="0.9" />
<line x1="457.60" y1="442.90" x2="459.60" y2="442.90" stroke="#777777" stroke-width="0.8" />
<text x="455.40" y="445.29" font-size="7.4" text-anchor="end" stroke="#000" stroke-width="0.1">1.5</text>
<line x1="457.60" y1="462.00" x2="459.60" y2="462.00" stroke="#777777" stroke-width="0.8" />
<text x="455.40" y="464.39" font-size="7.4" text-anchor="end" stroke="#000" stroke-width="0.1">1</text>
<line x1="457.60" y1="481.10" x2="459.60" y2="481.10" stroke="#777777" stroke-width="0.8" />
<text x="455.40" y="483.49" font-size="7.4" text-anchor="end" stroke="#000" stroke-width="0.1">0.5</text>
<line x1="457.60" y1="500.20" x2="459.60" y2="500.20" stroke="#777777" stroke-width="0.8" />
<text x="455.40" y="502.59" font-size="7.4" text-anchor="end" stroke="#000" stroke-width="0.1">0</text>
<line x1="459.60" y1="500.20" x2="459.60" y2="502.20" stroke="#777777" stroke-width="0.8" />
<line x1="473.30" y1="500.20" x2="473.30" y2="502.20" stroke="#777777" stroke-width="0.8" />
<line x1="487.00" y1="500.20" x2="487.00" y2="502.20" stroke="#777777" stroke-width="0.8" />
<line x1="500.70" y1="500.20" x2="500.70" y2="502.20" stroke="#777777" stroke-width="0.8" />
<line x1="514.40" y1="500.20" x2="514.40" y2="502.20" stroke="#777777" stroke-width="0.8" />
<rect x="463.70" y="462.00" width="8.20" height="38.20" fill="#4472C4" />
<line x1="467.80" y1="462.00" x2="467.80" y2="457.61" stroke="#333" stroke-width="0.6" />
<line x1="466.00" y1="457.61" x2="469.60" y2="457.61" stroke="#333" stroke-width="0.6" />
<rect x="476.90" y="476.02" width="8.70" height="24.18" fill="#ED7D31" />
<line x1="481.25" y1="476.02" x2="481.25" y2="470.90" stroke="#333" stroke-width="0.6" />
<line x1="479.45" y1="470.90" x2="483.05" y2="470.90" stroke="#333" stroke-width="0.6" />
<rect x="490.20" y="485.61" width="8.80" height="14.59" fill="#A5A5A5" />
<line x1="494.60" y1="485.61" x2="494.60" y2="483.39" stroke="#333" stroke-width="0.6" />
<line x1="492.80" y1="483.39" x2="496.40" y2="483.39" stroke="#333" stroke-width="0.6" />
<rect x="503.80" y="491.68" width="9.00" height="8.52" fill="#FFC000" />
<line x1="508.30" y1="491.68" x2="508.30" y2="490.38" stroke="#333" stroke-width="0.6" />
<line x1="506.50" y1="490.38" x2="510.10" y2="490.38" stroke="#333" stroke-width="0.6" />
<text x="481.30" y="469.44" font-size="8.5" textLength="3.00" lengthAdjust="spacingAndGlyphs" text-anchor="middle" font-weight="bold" stroke="#000" stroke-width="0.1">*</text>
<text x="494.50" y="482.23" font-size="8.5" textLength="10.60" lengthAdjust="spacingAndGlyphs" text-anchor="middle" font-weight="bold" stroke="#000" stroke-width="0.1">***</text>
<text x="509.70" y="488.03" font-size="8.5" textLength="10.10" lengthAdjust="spacingAndGlyphs" text-anchor="middle" font-weight="bold" stroke="#000" stroke-width="0.1">***</text>
<text transform="translate(471.00,503.80) rotate(-55)" font-size="8.2" textLength="22.80" lengthAdjust="spacingAndGlyphs" text-anchor="end" stroke="#000" stroke-width="0.25">siNTC</text>
<text transform="translate(484.60,503.80) rotate(-55)" font-size="8.2" textLength="33.50" lengthAdjust="spacingAndGlyphs" text-anchor="end" stroke="#000" stroke-width="0.25">siEHMT1</text>
<text transform="translate(498.00,503.80) rotate(-55)" font-size="8.2" textLength="33.50" lengthAdjust="spacingAndGlyphs" text-anchor="end" stroke="#000" stroke-width="0.25">siEHMT2</text>
<text transform="translate(511.60,503.80) rotate(-55)" font-size="8.2" textLength="41.50" lengthAdjust="spacingAndGlyphs" text-anchor="end" stroke="#000" stroke-width="0.25">siEHMT1/2</text>
<defs>
<radialGradient id="vig1" cx="0.6" cy="0.3" r="0.85"><stop offset="0" stop-color="#2C2506"/><stop offset="0.55" stop-color="#272105"/><stop offset="1" stop-color="#161303"/></radialGradient>
<radialGradient id="vig3" cx="0.55" cy="0.3" r="0.85"><stop offset="0" stop-color="#322B08"/><stop offset="0.6" stop-color="#2A2506"/><stop offset="1" stop-color="#1A1604"/></radialGradient>
<radialGradient id="vig4" cx="0.55" cy="0.35" r="0.85"><stop offset="0" stop-color="#2B2C08"/><stop offset="0.6" stop-color="#252607"/><stop offset="1" stop-color="#181904"/></radialGradient>
<filter id="fb05" x="-50%" y="-50%" width="200%" height="200%"><feGaussianBlur stdDeviation="0.5"/></filter>
<filter id="fb1" x="-50%" y="-50%" width="200%" height="200%"><feGaussianBlur stdDeviation="1"/></filter>
<filter id="fb15" x="-50%" y="-50%" width="200%" height="200%"><feGaussianBlur stdDeviation="1.5"/></filter>
<filter id="fb2" x="-50%" y="-50%" width="200%" height="200%"><feGaussianBlur stdDeviation="2"/></filter>
<filter id="fb3" x="-50%" y="-50%" width="200%" height="200%"><feGaussianBlur stdDeviation="3"/></filter>
</defs>
<text x="7.80" y="548.20" font-size="10.3" font-weight="bold" stroke="#000" stroke-width="0.25">K</text>
<text x="61.20" y="551.80" font-size="10.0" textLength="147.60" lengthAdjust="spacingAndGlyphs" stroke="#000" stroke-width="0.25">PC-3-siNTC (<tspan font-weight="bold"><tspan font-style="italic">n</tspan>=10</tspan>, <tspan font-weight="bold">10/10</tspan> invaded)</text>
<text x="292.60" y="551.80" font-size="10.0" textLength="155.70" lengthAdjust="spacingAndGlyphs" stroke="#000" stroke-width="0.25">PC-3-siEHMT1 (<tspan font-weight="bold"><tspan font-style="italic">n</tspan>=11</tspan>, <tspan font-weight="bold">0/11</tspan> invaded)</text>
<text x="221.50" y="646.20" font-size="9.6" textLength="50.80" lengthAdjust="spacingAndGlyphs" stroke="#000" stroke-width="0.25"><tspan font-style="italic">P</tspan>=2.84x10<tspan font-size="6.8" dy="-3.2">-6</tspan></text>
<rect x="25.80" y="556.60" width="104.30" height="78.00" fill="url(#vig1)" />
<clipPath id="c1"><rect x="25.8" y="556.6" width="104.30" height="78.00"/></clipPath><g clip-path="url(#c1)">
<line x1="120" y1="577" x2="48" y2="622" stroke="#141306" stroke-width="3.2" stroke-linecap="round" stroke-opacity="0.6" filter="url(#fb1)"/>
<line x1="116" y1="584" x2="62" y2="614" stroke="#3C3912" stroke-width="1.2" stroke-linecap="round" stroke-opacity="0.7" filter="url(#fb05)"/>
<line x1="95.5" y1="590.8" x2="75.7" y2="603.1" stroke="#645C18" stroke-width="4.6" stroke-linecap="round" stroke-opacity="1.0" filter="url(#fb05)"/>
<circle cx="75.7" cy="603.1" r="1.6" fill="#6A6E1C" fill-opacity="1.0" filter="url(#fb05)" />
<circle cx="113.3" cy="577.0" r="6.0" fill="#161509" fill-opacity="0.6" filter="url(#fb1)" />
<circle cx="113.3" cy="577.0" r="6.3" fill="none" fill-opacity="1.0" filter="url(#fb05)" stroke="#3A3814" stroke-width="0.8" stroke-opacity="0.6"/>
<circle cx="101.0" cy="582.6" r="9.6" fill="#4E4812" fill-opacity="1.0" filter="url(#fb05)" />
<circle cx="100.6" cy="582.0" r="8.4" fill="#776C18" fill-opacity="1.0" filter="url(#fb1)" />
<circle cx="101" cy="577" r="0.9" fill="#3BE03B" fill-opacity="1.0" />
<circle cx="104" cy="583" r="0.7" fill="#3BE03B" fill-opacity="1.0" />
<circle cx="98" cy="586" r="0.8" fill="#3BE03B" fill-opacity="1.0" />
<circle cx="106" cy="579" r="0.7" fill="#3BE03B" fill-opacity="1.0" />
<circle cx="103.5" cy="576.3" r="0.9" fill="#3BE03B" fill-opacity="1.0" />
<circle cx="100" cy="579.5" r="0.6" fill="#3BE03B" fill-opacity="1.0" />
<circle cx="110" cy="573" r="0.7" fill="#3BE03B" fill-opacity="1.0" />
<circle cx="116" cy="576" r="0.6" fill="#3BE03B" fill-opacity="1.0" />
<circle cx="117" cy="581" r="0.6" fill="#3BE03B" fill-opacity="1.0" />
<circle cx="108" cy="584" r="0.6" fill="#3BE03B" fill-opacity="1.0" />
<ellipse cx="57.8" cy="611.8" rx="1.6" ry="0.9" fill="#2FD02F" fill-opacity="1.0" transform="rotate(0 57.8 611.8)" />
<circle cx="90.8" cy="614.5" r="0.6" fill="#8A2210" fill-opacity="0.8" />
<circle cx="108.7" cy="630.1" r="0.6" fill="#8A2210" fill-opacity="0.8" />
<circle cx="103.0" cy="628.5" r="0.6" fill="#8A2210" fill-opacity="0.8" />
<circle cx="28.8" cy="592.9" r="0.6" fill="#8A2210" fill-opacity="0.8" />
<circle cx="124.2" cy="607.2" r="0.6" fill="#8A2210" fill-opacity="0.8" />
<circle cx="119.8" cy="565.4" r="0.6" fill="#8A2210" fill-opacity="0.8" />
</g>
<text x="88.00" y="564.30" font-size="8.4" textLength="28.60" lengthAdjust="spacingAndGlyphs" text-anchor="middle" font-weight="bold" fill="#F2F2F2" stroke="#F2F2F2" stroke-width="0.1">Injected</text>
<line x1="88.70" y1="566.20" x2="97.21" y2="572.73" stroke="#F5B51A" stroke-width="1.4" />
<path d="M100.30 575.10 L95.29 574.41 L98.33 570.44Z" fill="#F5B51A" />
<text x="32.50" y="586.30" font-size="8.4" textLength="29.20" lengthAdjust="spacingAndGlyphs" font-weight="bold" fill="#F2F2F2" stroke="#F2F2F2" stroke-width="0.1">Invaded</text>
<line x1="47.10" y1="590.00" x2="70.64" y2="600.51" stroke="#EE1C1C" stroke-width="1.4" />
<path d="M74.20 602.10 L69.16 602.59 L71.20 598.02Z" fill="#EE1C1C" />
<line x1="44.70" y1="592.40" x2="55.47" y2="606.87" stroke="#EE1C1C" stroke-width="1.4" />
<path d="M57.80 610.00 L53.17 607.96 L57.18 604.98Z" fill="#EE1C1C" />
<rect x="135.10" y="556.60" width="103.70" height="78.00" fill="url(#vig1)" />
<clipPath id="c2"><rect x="135.1" y="556.6" width="103.70" height="78.00"/></clipPath><g clip-path="url(#c2)">
<line x1="153.4" y1="565.2" x2="214" y2="611" stroke="#151407" stroke-width="3.4" stroke-linecap="round" stroke-opacity="0.45" filter="url(#fb1)"/>
<line x1="158" y1="567" x2="205" y2="603" stroke="#3A3812" stroke-width="1.0" stroke-linecap="round" stroke-opacity="0.6" filter="url(#fb05)"/>
<line x1="176.5" y1="589.0" x2="197.5" y2="599.5" stroke="#4C4716" stroke-width="4.2" stroke-linecap="round" stroke-opacity="0.6" filter="url(#fb1)"/>
<circle cx="222.5" cy="614.2" r="5.4" fill="#15140A" fill-opacity="0.6" filter="url(#fb1)" />
<circle cx="222.5" cy="614.2" r="5.6" fill="none" fill-opacity="1.0" filter="url(#fb05)" stroke="#3A3814" stroke-width="0.8" stroke-opacity="0.6"/>
<ellipse cx="207.0" cy="611.0" rx="10.5" ry="8.0" fill="#3C4412" fill-opacity="1.0" transform="rotate(0 207.0 611.0)" filter="url(#fb1)" />
<ellipse cx="205.0" cy="610.5" rx="8.8" ry="7.0" fill="#249A24" fill-opacity="1.0" transform="rotate(-10 205.0 610.5)" filter="url(#fb15)" />
<ellipse cx="201.5" cy="608.0" rx="5.0" ry="4.2" fill="#3AD43A" fill-opacity="1.0" transform="rotate(0 201.5 608.0)" filter="url(#fb1)" />
<ellipse cx="206.5" cy="613.5" rx="3.6" ry="2.6" fill="#34C834" fill-opacity="1.0" transform="rotate(0 206.5 613.5)" filter="url(#fb1)" />
<ellipse cx="198.5" cy="612.0" rx="2.5" ry="3.0" fill="#2EB82E" fill-opacity="1.0" transform="rotate(0 198.5 612.0)" filter="url(#fb1)" />
<ellipse cx="210.5" cy="608.0" rx="2.2" ry="1.8" fill="#30B030" fill-opacity="1.0" transform="rotate(0 210.5 608.0)" filter="url(#fb1)" />
<circle cx="178" cy="586.6" r="0.6" fill="#2FD02F" fill-opacity="1.0" />
<circle cx="182" cy="589" r="0.6" fill="#2FD02F" fill-opacity="1.0" />
<circle cx="186" cy="590.5" r="0.6" fill="#2FD02F" fill-opacity="1.0" />
<circle cx="190" cy="592.5" r="0.6" fill="#2FD02F" fill-opacity="1.0" />
<circle cx="174" cy="584" r="0.6" fill="#2FD02F" fill-opacity="1.0" />
<circle cx="171" cy="582" r="0.6" fill="#2FD02F" fill-opacity="1.0" />
<circle cx="183.7" cy="575.8" r="0.6" fill="#8A2210" fill-opacity="0.8" />
<circle cx="191.5" cy="601.4" r="0.6" fill="#8A2210" fill-opacity="0.8" />
<circle cx="136.5" cy="573.5" r="0.6" fill="#8A2210" fill-opacity="0.8" />
<circle cx="164.1" cy="628.1" r="0.6" fill="#8A2210" fill-opacity="0.8" />
<circle cx="214.5" cy="569.0" r="0.6" fill="#8A2210" fill-opacity="0.8" />
<circle cx="217.8" cy="567.4" r="0.6" fill="#8A2210" fill-opacity="0.8" />
</g>
<text x="196.40" y="572.50" font-size="8.4" textLength="28.90" lengthAdjust="spacingAndGlyphs" text-anchor="middle" font-weight="bold" fill="#F2F2F2" stroke="#F2F2F2" stroke-width="0.1">Invaded</text>
<line x1="191.50" y1="575.60" x2="187.61" y2="582.06" stroke="#EE1C1C" stroke-width="1.4" />
<path d="M185.60 585.40 L185.73 580.34 L190.01 582.92Z" fill="#EE1C1C" />
<text x="219.70" y="593.50" font-size="8.4" textLength="28.60" lengthAdjust="spacingAndGlyphs" text-anchor="middle" font-weight="bold" fill="#F2F2F2" stroke="#F2F2F2" stroke-width="0.1">Injected</text>
<line x1="222.00" y1="595.20" x2="217.52" y2="602.13" stroke="#F5B51A" stroke-width="1.4" />
<path d="M215.40 605.40 L215.69 600.35 L219.89 603.06Z" fill="#F5B51A" />
<rect x="259.60" y="556.30" width="104.20" height="77.50" fill="url(#vig3)" />
<clipPath id="c3"><rect x="259.6" y="556.3" width="104.20" height="77.50"/></clipPath><g clip-path="url(#c3)">
<circle cx="272.3" cy="586.6" r="9.5" fill="#6A5E16" fill-opacity="1.0" filter="url(#fb3)" />
<line x1="285" y1="575" x2="340.6" y2="627.4" stroke="#3A3816" stroke-width="3.0" stroke-linecap="round" stroke-opacity="0.5" filter="url(#fb1)"/>
<line x1="300" y1="586" x2="339.5" y2="626.0" stroke="#5A5830" stroke-width="0.7" stroke-linecap="round" stroke-opacity="0.7" filter="url(#fb05)"/>
<line x1="298" y1="589" x2="338" y2="628.0" stroke="#5A5830" stroke-width="0.7" stroke-linecap="round" stroke-opacity="0.5" filter="url(#fb05)"/>
<line x1="299.8" y1="588.7" x2="316.1" y2="604.0" stroke="#514C17" stroke-width="4.2" stroke-linecap="round" stroke-opacity="1.0" filter="url(#fb05)"/>
<circle cx="282.5" cy="569.3" r="5.0" fill="#1A2210" fill-opacity="0.5" filter="url(#fb1)" />
<circle cx="282.5" cy="569.3" r="5.2" fill="none" fill-opacity="1.0" filter="url(#fb05)" stroke="#2E6A1C" stroke-width="1.0" stroke-opacity="0.6"/>
<circle cx="295.7" cy="578.5" r="8.6" fill="#3E6A1E" fill-opacity="1.0" filter="url(#fb05)" />
<circle cx="295.7" cy="578.5" r="7.2" fill="#5A7A2A" fill-opacity="1.0" filter="url(#fb1)" />
<ellipse cx="295.0" cy="577.5" rx="3.0" ry="5.0" fill="#36D036" fill-opacity="1.0" transform="rotate(20 295.0 577.5)" filter="url(#fb1)" />
<ellipse cx="294.0" cy="575.6" rx="2.6" ry="2.2" fill="#44F044" fill-opacity="1.0" transform="rotate(0 294.0 575.6)" filter="url(#fb05)" />
<circle cx="364" cy="562" r="2.5" fill="#C06A18" fill-opacity="1.0" filter="url(#fb05)" />
<circle cx="323.9" cy="566.1" r="0.6" fill="#8A2A10" fill-opacity="0.8" />
<circle cx="259.8" cy="623.8" r="0.6" fill="#8A2A10" fill-opacity="0.8" />
<circle cx="281.4" cy="573.0" r="0.6" fill="#8A2A10" fill-opacity="0.8" />
<circle cx="362.0" cy="623.9" r="0.6" fill="#8A2A10" fill-opacity="0.8" />
<circle cx="289.7" cy="630.8" r="0.6" fill="#8A2A10" fill-opacity="0.8" />
</g>
<text x="317.20" y="563.50" font-size="8.4" textLength="28.50" lengthAdjust="spacingAndGlyphs" text-anchor="middle" font-weight="bold" fill="#F2F2F2" stroke="#F2F2F2" stroke-width="0.1">Injected</text>
<line x1="307.00" y1="565.20" x2="302.98" y2="571.17" stroke="#F5B51A" stroke-width="1.4" />
<path d="M300.80 574.40 L301.19 569.35 L305.33 572.15Z" fill="#F5B51A" />
<rect x="366.30" y="556.30" width="104.20" height="78.20" fill="url(#vig4)" />
<clipPath id="c4"><rect x="366.3" y="556.3" width="104.20" height="78.20"/></clipPath><g clip-path="url(#c4)">
<rect x="366.30" y="556.30" width="6.00" height="78.20" fill="#445018" filter="url(#fb2)" fill-opacity="0.4"/>
<line x1="378.3" y1="596.8" x2="446" y2="577" stroke="#151507" stroke-width="2.8" stroke-linecap="round" stroke-opacity="0.6" filter="url(#fb1)"/>
<line x1="378.3" y1="595.3" x2="440" y2="577.0" stroke="#5A5830" stroke-width="0.7" stroke-linecap="round" stroke-opacity="0.7" filter="url(#fb05)"/>
<line x1="379.3" y1="598.2" x2="440" y2="580.5" stroke="#5A5830" stroke-width="0.7" stroke-linecap="round" stroke-opacity="0.6" filter="url(#fb05)"/>
<line x1="407.9" y1="590.7" x2="426.2" y2="585.6" stroke="#4A4816" stroke-width="4.0" stroke-linecap="round" stroke-opacity="1.0" filter="url(#fb05)"/>
<circle cx="452.8" cy="576.4" r="5.6" fill="#141A0A" fill-opacity="0.6" filter="url(#fb1)" />
<circle cx="452.8" cy="576.4" r="5.8" fill="none" fill-opacity="1.0" filter="url(#fb05)" stroke="#2A5A1A" stroke-width="1.0" stroke-opacity="0.6"/>
<circle cx="439.5" cy="585.6" r="8.6" fill="#4B4A14" fill-opacity="1.0" filter="url(#fb05)" />
<circle cx="439.5" cy="585.6" r="7.2" fill="#67652A" fill-opacity="1.0" filter="url(#fb1)" />
<ellipse cx="441.0" cy="579.8" rx="4.6" ry="2.6" fill="#34D034" fill-opacity="1.0" transform="rotate(-10 441.0 579.8)" filter="url(#fb1)" />
<ellipse cx="440.0" cy="579.5" rx="2.6" ry="1.8" fill="#44F044" fill-opacity="1.0" transform="rotate(0 440.0 579.5)" filter="url(#fb05)" />
<circle cx="386.4" cy="624.4" r="0.9" fill="#B03A18" fill-opacity="0.8" />
<circle cx="378.3" cy="592.8" r="0.9" fill="#B03A18" fill-opacity="0.8" />
<circle cx="400" cy="628" r="0.9" fill="#B03A18" fill-opacity="0.8" />
<circle cx="420" cy="600" r="0.9" fill="#B03A18" fill-opacity="0.8" />
<circle cx="455" cy="620" r="0.9" fill="#B03A18" fill-opacity="0.8" />
</g>
<rect x="26.20" y="557.00" width="103.50" height="77.20" fill="none" stroke="#0A0902" stroke-width="0.8" stroke-opacity="0.8"/>
<rect x="135.50" y="557.00" width="102.90" height="77.20" fill="none" stroke="#0A0902" stroke-width="0.8" stroke-opacity="0.8"/>
<rect x="260.00" y="556.70" width="103.40" height="76.70" fill="none" stroke="#0A0902" stroke-width="0.8" stroke-opacity="0.8"/>
<rect x="366.70" y="556.70" width="103.40" height="77.40" fill="none" stroke="#0A0902" stroke-width="0.8" stroke-opacity="0.8"/>
<text x="424.20" y="566.40" font-size="8.4" textLength="28.60" lengthAdjust="spacingAndGlyphs" text-anchor="middle" font-weight="bold" fill="#F2F2F2" stroke="#F2F2F2" stroke-width="0.1">Injected</text>
<line x1="427.20" y1="569.30" x2="434.11" y2="573.70" stroke="#F5B51A" stroke-width="1.4" />
<path d="M437.40 575.80 L432.35 575.54 L435.03 571.33Z" fill="#F5B51A" />
</svg>
</body></html>
